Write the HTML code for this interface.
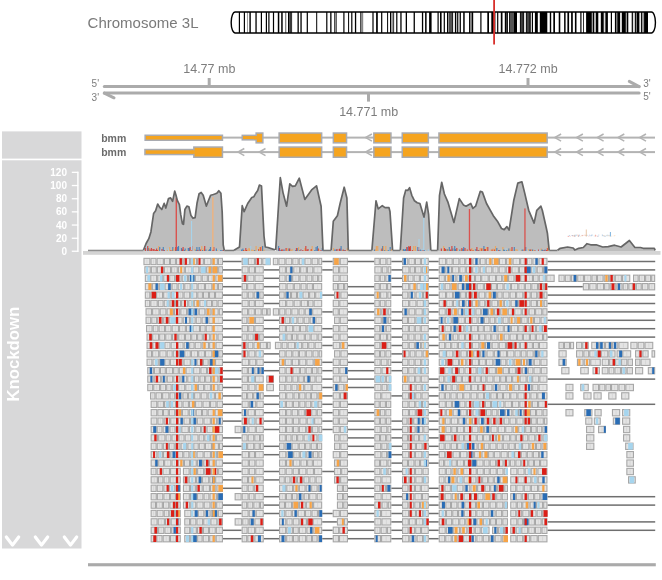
<!DOCTYPE html><html><head><meta charset="utf-8"><title>Chromosome 3L</title>
<style>html,body{margin:0;padding:0;background:#fff;}body{width:662px;height:580px;overflow:hidden;}svg{display:block;}text{font-family:"Liberation Sans",Arial,sans-serif;}</style></head><body>
<svg width="662" height="580" viewBox="0 0 662 580">
<text x="87.6" y="28.4" font-size="15" fill="#7a7a7a">Chromosome 3L</text>
<defs><clipPath id="ideo"><rect x="231" y="11.9" width="424.6" height="21.2" rx="4" ry="10"/></clipPath></defs>
<rect x="231" y="11.9" width="424.6" height="21.2" rx="4" ry="10" fill="#fff"/>
<g clip-path="url(#ideo)">
<rect x="238.8" y="11.9" width="1.2" height="21.2" fill="#000"/>
<rect x="243.8" y="11.9" width="1.2" height="21.2" fill="#000"/>
<rect x="247.1" y="11.9" width="0.8" height="21.2" fill="#888"/>
<rect x="249.4" y="11.9" width="1.4" height="21.2" fill="#000"/>
<rect x="255.4" y="11.9" width="1.3" height="21.2" fill="#000"/>
<rect x="260.8" y="11.9" width="1.2" height="21.2" fill="#000"/>
<rect x="265.8" y="11.9" width="1.2" height="21.2" fill="#000"/>
<rect x="268.3" y="11.9" width="1.2" height="21.2" fill="#000"/>
<rect x="272.9" y="11.9" width="1.2" height="21.2" fill="#000"/>
<rect x="277.8" y="11.9" width="1.5" height="21.2" fill="#000"/>
<rect x="281.2" y="11.9" width="1.5" height="21.2" fill="#000"/>
<rect x="285.1" y="11.9" width="1.2" height="21.2" fill="#777"/>
<rect x="288" y="11.9" width="1.6" height="21.2" fill="#000"/>
<rect x="289.6" y="11.9" width="2.5" height="21.2" fill="#3a3a3a"/>
<rect x="297.5" y="11.9" width="1.3" height="21.2" fill="#000"/>
<rect x="300.4" y="11.9" width="1.3" height="21.2" fill="#000"/>
<rect x="306.7" y="11.9" width="1.2" height="21.2" fill="#000"/>
<rect x="316.2" y="11.9" width="1" height="21.2" fill="#000"/>
<rect x="326.2" y="11.9" width="1.2" height="21.2" fill="#000"/>
<rect x="330.2" y="11.9" width="1.3" height="21.2" fill="#000"/>
<rect x="334.3" y="11.9" width="0.9" height="21.2" fill="#000"/>
<rect x="335.7" y="11.9" width="0.9" height="21.2" fill="#000"/>
<rect x="343.3" y="11.9" width="1.2" height="21.2" fill="#000"/>
<rect x="348.1" y="11.9" width="1" height="21.2" fill="#000"/>
<rect x="351.2" y="11.9" width="1.2" height="21.2" fill="#000"/>
<rect x="354.9" y="11.9" width="1.3" height="21.2" fill="#000"/>
<rect x="360.3" y="11.9" width="1.1" height="21.2" fill="#000"/>
<rect x="361.4" y="11.9" width="1.8" height="21.2" fill="#888"/>
<rect x="372.4" y="11.9" width="1.2" height="21.2" fill="#000"/>
<rect x="376.1" y="11.9" width="1.7" height="21.2" fill="#000"/>
<rect x="381.1" y="11.9" width="1.2" height="21.2" fill="#000"/>
<rect x="387.1" y="11.9" width="1" height="21.2" fill="#000"/>
<rect x="390" y="11.9" width="1.2" height="21.2" fill="#000"/>
<rect x="391.2" y="11.9" width="2.1" height="21.2" fill="#999"/>
<rect x="393.3" y="11.9" width="0.8" height="21.2" fill="#000"/>
<rect x="396.2" y="11.9" width="1.2" height="21.2" fill="#000"/>
<rect x="400.3" y="11.9" width="1.3" height="21.2" fill="#000"/>
<rect x="405.7" y="11.9" width="1.3" height="21.2" fill="#000"/>
<rect x="413.6" y="11.9" width="1.3" height="21.2" fill="#000"/>
<rect x="421.9" y="11.9" width="1.3" height="21.2" fill="#000"/>
<rect x="425.1" y="11.9" width="1.5" height="21.2" fill="#000"/>
<rect x="429.1" y="11.9" width="218.9" height="21.2" fill="#000"/>
<rect x="431.6" y="11.9" width="5.9" height="21.2" fill="#fff"/>
<rect x="438.7" y="11.9" width="1.3" height="21.2" fill="#fff"/>
<rect x="441.6" y="11.9" width="2.1" height="21.2" fill="#fff"/>
<rect x="444.9" y="11.9" width="2.1" height="21.2" fill="#fff"/>
<rect x="448.3" y="11.9" width="0.8" height="21.2" fill="#ccc"/>
<rect x="449.1" y="11.9" width="3.3" height="21.2" fill="#555"/>
<rect x="453.1" y="11.9" width="1.8" height="21.2" fill="#fff"/>
<rect x="456.2" y="11.9" width="0.8" height="21.2" fill="#ddd"/>
<rect x="457.8" y="11.9" width="2.1" height="21.2" fill="#aaa"/>
<rect x="460.9" y="11.9" width="2.3" height="21.2" fill="#fff"/>
<rect x="464.7" y="11.9" width="4.3" height="21.2" fill="#fff"/>
<rect x="469.9" y="11.9" width="2" height="21.2" fill="#888"/>
<rect x="473.2" y="11.9" width="7.1" height="21.2" fill="#fff"/>
<rect x="481.5" y="11.9" width="5.8" height="21.2" fill="#fff"/>
<rect x="489" y="11.9" width="2.3" height="21.2" fill="#fff"/>
<rect x="495.4" y="11.9" width="1.7" height="21.2" fill="#fff"/>
<rect x="498.3" y="11.9" width="2.5" height="21.2" fill="#fff"/>
<rect x="502.5" y="11.9" width="2.3" height="21.2" fill="#fff"/>
<rect x="506.2" y="11.9" width="0.4" height="21.2" fill="#999"/>
<rect x="507.9" y="11.9" width="1.2" height="21.2" fill="#fff"/>
<rect x="510" y="11.9" width="4" height="21.2" fill="#555"/>
<rect x="517" y="11.9" width="2.9" height="21.2" fill="#fff"/>
<rect x="520.7" y="11.9" width="2.1" height="21.2" fill="#444"/>
<rect x="523.9" y="11.9" width="2.2" height="21.2" fill="#ddd"/>
<rect x="527" y="11.9" width="2.5" height="21.2" fill="#444"/>
<rect x="530.7" y="11.9" width="1.3" height="21.2" fill="#ccc"/>
<rect x="533" y="11.9" width="1.9" height="21.2" fill="#fff"/>
<rect x="537.8" y="11.9" width="2" height="21.2" fill="#fff"/>
<rect x="547.3" y="11.9" width="2.5" height="21.2" fill="#fff"/>
<rect x="551.2" y="11.9" width="2.1" height="21.2" fill="#fff"/>
<rect x="555" y="11.9" width="3.7" height="21.2" fill="#fff"/>
<rect x="560.3" y="11.9" width="3.8" height="21.2" fill="#fff"/>
<rect x="565.6" y="11.9" width="1.8" height="21.2" fill="#fff"/>
<rect x="569.1" y="11.9" width="2" height="21.2" fill="#fff"/>
<rect x="572.8" y="11.9" width="2.1" height="21.2" fill="#fff"/>
<rect x="576.5" y="11.9" width="3.8" height="21.2" fill="#fff"/>
<rect x="581.5" y="11.9" width="1.7" height="21.2" fill="#fff"/>
<rect x="584" y="11.9" width="2.1" height="21.2" fill="#fff"/>
<rect x="591.7" y="11.9" width="1.2" height="21.2" fill="#aaa"/>
<rect x="594.2" y="11.9" width="1.6" height="21.2" fill="#ddd"/>
<rect x="598.3" y="11.9" width="2.5" height="21.2" fill="#fff"/>
<rect x="603.7" y="11.9" width="1.7" height="21.2" fill="#ddd"/>
<rect x="607.9" y="11.9" width="2.9" height="21.2" fill="#fff"/>
<rect x="612" y="11.9" width="2.9" height="21.2" fill="#fff"/>
<rect x="616.2" y="11.9" width="1.2" height="21.2" fill="#999"/>
<rect x="620" y="11.9" width="1.9" height="21.2" fill="#ddd"/>
<rect x="625.7" y="11.9" width="1.3" height="21.2" fill="#999"/>
<rect x="628.3" y="11.9" width="3.4" height="21.2" fill="#fff"/>
<rect x="632.9" y="11.9" width="2" height="21.2" fill="#ddd"/>
<rect x="635.9" y="11.9" width="0.9" height="21.2" fill="#999"/>
<rect x="639.4" y="11.9" width="1.5" height="21.2" fill="#fff"/>
<rect x="641.9" y="11.9" width="2.2" height="21.2" fill="#999"/>
</g>
<rect x="231.2" y="12" width="424.2" height="21" rx="4" ry="10" fill="none" stroke="#000" stroke-width="1.4"/>
<rect x="493.2" y="0" width="1.8" height="44.5" fill="#d8302c"/>
<g stroke="#ababab" stroke-width="3" stroke-linecap="round" fill="none">
<line x1="104.3" y1="86.6" x2="639.1" y2="86.6"/>
<line x1="104.3" y1="93.1" x2="639.1" y2="93.1"/>
<polyline points="629.3,81.4 639.1,86.6" />
<polyline points="114,97.8 104.3,93.1" />
</g>
<rect x="207.7" y="78" width="3" height="8" fill="#ababab"/>
<rect x="526.5" y="78" width="3" height="8" fill="#ababab"/>
<rect x="367" y="94" width="3" height="7.6" fill="#ababab"/>
<text x="209.3" y="72.7" font-size="12.5" fill="#7d7d7d" text-anchor="middle">14.77 mb</text>
<text x="528.1" y="72.7" font-size="12.5" fill="#7d7d7d" text-anchor="middle">14.772 mb</text>
<text x="368.7" y="115.8" font-size="12.5" fill="#7d7d7d" text-anchor="middle">14.771 mb</text>
<text x="91.6" y="86.8" font-size="10" fill="#7d7d7d">5'</text>
<text x="91.6" y="100.5" font-size="10" fill="#7d7d7d">3'</text>
<text x="643.2" y="86.5" font-size="10" fill="#7d7d7d">3'</text>
<text x="643.2" y="100.4" font-size="10" fill="#7d7d7d">5'</text>
<rect x="2" y="131.4" width="79.5" height="27.2" fill="#d8d8d9"/>
<rect x="2" y="160.3" width="79.5" height="388.2" fill="#d8d8d9"/>
<text x="67" y="175.9" font-size="10" font-weight="bold" fill="#fff" text-anchor="end">120</text>
<rect x="71.8" y="171.7" width="6.5" height="1.3" fill="#fff"/>
<text x="67" y="189.1" font-size="10" font-weight="bold" fill="#fff" text-anchor="end">100</text>
<rect x="71.8" y="184.9" width="6.5" height="1.3" fill="#fff"/>
<text x="67" y="202.3" font-size="10" font-weight="bold" fill="#fff" text-anchor="end">80</text>
<rect x="71.8" y="198.1" width="6.5" height="1.3" fill="#fff"/>
<text x="67" y="215.4" font-size="10" font-weight="bold" fill="#fff" text-anchor="end">60</text>
<rect x="71.8" y="211.2" width="6.5" height="1.3" fill="#fff"/>
<text x="67" y="228.6" font-size="10" font-weight="bold" fill="#fff" text-anchor="end">40</text>
<rect x="71.8" y="224.4" width="6.5" height="1.3" fill="#fff"/>
<text x="67" y="241.8" font-size="10" font-weight="bold" fill="#fff" text-anchor="end">20</text>
<rect x="71.8" y="237.6" width="6.5" height="1.3" fill="#fff"/>
<text x="67" y="254.8" font-size="10" font-weight="bold" fill="#fff" text-anchor="end">0</text>
<rect x="71.8" y="250.6" width="6.5" height="1.3" fill="#fff"/>
<rect x="77.2" y="171.7" width="1.4" height="80.2" fill="#fff"/>
<text transform="translate(19.1,401.6) rotate(-90)" font-size="16.75" font-weight="bold" fill="#fff">Knockdown</text>
<polyline points="6.3,537 12.5,545.1 18.7,537" fill="none" stroke="#fff" stroke-width="3.2" stroke-linecap="round" stroke-linejoin="round"/>
<polyline points="35.3,537 41.5,545.1 47.7,537" fill="none" stroke="#fff" stroke-width="3.2" stroke-linecap="round" stroke-linejoin="round"/>
<polyline points="64.3,537 70.5,545.1 76.7,537" fill="none" stroke="#fff" stroke-width="3.2" stroke-linecap="round" stroke-linejoin="round"/>
<rect x="88" y="563.2" width="567.8" height="3.1" fill="#aaaaaa"/>
<text x="101.2" y="141.6" font-size="10.5" font-weight="bold" fill="#6b6b6b">bmm</text>
<text x="101.2" y="155.7" font-size="10.5" font-weight="bold" fill="#6b6b6b">bmm</text>
<rect x="223" y="136.6" width="432" height="2" fill="#b3b3b3"/>
<rect x="279.15" y="133.05" width="42.5" height="9.8" fill="#f5a41f" stroke="#a9abb1" stroke-width="1.5"/>
<rect x="333.35" y="133.05" width="13.2" height="9.8" fill="#f5a41f" stroke="#a9abb1" stroke-width="1.5"/>
<rect x="373.85" y="133.05" width="17.1" height="9.8" fill="#f5a41f" stroke="#a9abb1" stroke-width="1.5"/>
<rect x="402.25" y="133.05" width="26.1" height="9.8" fill="#f5a41f" stroke="#a9abb1" stroke-width="1.5"/>
<rect x="438.95" y="133.05" width="108.2" height="9.8" fill="#f5a41f" stroke="#a9abb1" stroke-width="1.5"/>
<polyline points="371.9,134 365.6,137.6 371.9,141.2" fill="none" stroke="#b3b3b3" stroke-width="1.5"/>
<polyline points="561.1,134 554.8,137.6 561.1,141.2" fill="none" stroke="#b3b3b3" stroke-width="1.5"/>
<polyline points="582.9,134 576.6,137.6 582.9,141.2" fill="none" stroke="#b3b3b3" stroke-width="1.5"/>
<polyline points="603.6,134 597.3,137.6 603.6,141.2" fill="none" stroke="#b3b3b3" stroke-width="1.5"/>
<polyline points="624.3,134 618,137.6 624.3,141.2" fill="none" stroke="#b3b3b3" stroke-width="1.5"/>
<polyline points="646,134 639.7,137.6 646,141.2" fill="none" stroke="#b3b3b3" stroke-width="1.5"/>
<rect x="223" y="151.1" width="432" height="2" fill="#b3b3b3"/>
<rect x="279.15" y="147.05" width="42.5" height="10.2" fill="#f5a41f" stroke="#a9abb1" stroke-width="1.5"/>
<rect x="333.35" y="147.05" width="13.2" height="10.2" fill="#f5a41f" stroke="#a9abb1" stroke-width="1.5"/>
<rect x="373.85" y="147.05" width="17.1" height="10.2" fill="#f5a41f" stroke="#a9abb1" stroke-width="1.5"/>
<rect x="402.25" y="147.05" width="26.1" height="10.2" fill="#f5a41f" stroke="#a9abb1" stroke-width="1.5"/>
<rect x="438.95" y="147.05" width="108.2" height="10.2" fill="#f5a41f" stroke="#a9abb1" stroke-width="1.5"/>
<polyline points="371.9,148.5 365.6,152.1 371.9,155.7" fill="none" stroke="#b3b3b3" stroke-width="1.5"/>
<polyline points="561.1,148.5 554.8,152.1 561.1,155.7" fill="none" stroke="#b3b3b3" stroke-width="1.5"/>
<polyline points="582.9,148.5 576.6,152.1 582.9,155.7" fill="none" stroke="#b3b3b3" stroke-width="1.5"/>
<polyline points="603.6,148.5 597.3,152.1 603.6,155.7" fill="none" stroke="#b3b3b3" stroke-width="1.5"/>
<polyline points="624.3,148.5 618,152.1 624.3,155.7" fill="none" stroke="#b3b3b3" stroke-width="1.5"/>
<polyline points="646,148.5 639.7,152.1 646,155.7" fill="none" stroke="#b3b3b3" stroke-width="1.5"/>
<rect x="145.15" y="135.25" width="77.3" height="5" fill="#f5a41f" stroke="#a9abb1" stroke-width="1.5"/>
<rect x="242.25" y="135.35" width="13.5" height="4.5" fill="#f5a41f" stroke="#a9abb1" stroke-width="1.5"/>
<rect x="256.15" y="133.05" width="6.7" height="9.8" fill="#f5a41f" stroke="#a9abb1" stroke-width="1.5"/>
<rect x="254.2" y="136" width="3" height="3.5" fill="#f5a41f"/>
<rect x="144.95" y="149.55" width="48.5" height="5" fill="#f5a41f" stroke="#a9abb1" stroke-width="1.5"/>
<rect x="193.85" y="147.05" width="28.6" height="10.2" fill="#f5a41f" stroke="#a9abb1" stroke-width="1.5"/>
<rect x="191.8" y="150.3" width="3" height="3.5" fill="#f5a41f"/>
<polyline points="244.3,148.5 238,152.1 244.3,155.7" fill="none" stroke="#b3b3b3" stroke-width="1.5"/>
<polyline points="265.5,148.5 259.2,152.1 265.5,155.7" fill="none" stroke="#b3b3b3" stroke-width="1.5"/>
<rect x="83" y="251" width="577.5" height="3.8" fill="#d4d4d4"/>
<polygon points="88,250.9 143.4,250.9 146.1,243.5 148.8,238.7 150.9,231.9 153.6,213.5 155.6,210.8 157.7,204 159.7,207.4 161.8,209.5 164.2,203.4 165.8,208.1 168.5,198.6 170.6,197.9 172.6,201.3 174.7,191.1 176,195.2 177.4,200.6 179.4,204.7 180.8,214.9 182.4,223.7 183.5,224.4 184.9,209.5 186.9,206.1 188.9,206.8 191,215.6 193,218.3 195.1,217.6 197.1,202.7 199.1,193.8 201.2,192.5 203.2,195.2 206.3,206.1 208.7,200 210.7,195.2 213.4,194.5 215.4,193.8 216.8,193.2 218.8,190.7 220.9,193.2 222.2,212.2 223.2,244.8 224.3,250.9 234,250.9 239.5,247 242.2,205.7 244.1,211.7 247.7,203.5 251.8,197.5 253.9,196.7 255.8,193.2 257.7,190.5 259.4,185 261.5,186.1 264,236 265.3,247 268,247.5 274.9,250.9 275.7,250.9 280.3,177.7 283,192.6 286.6,206.2 289.8,183.9 292.5,186.4 295.3,185.8 299.3,178.2 304.8,199.4 311.6,189.9 316.5,185.8 321.1,206.2 323,250.9 331.1,250.9 333.3,221.2 337.4,215.7 340.1,203.5 344.2,187.2 346.9,198 348.3,250.9 371.9,250.9 376,200.8 378.2,208.9 382.3,205.7 385,207.6 389,207.6 390,211.7 392.6,250.9 400.3,250.9 403.6,198 405.8,190 407.7,190.5 409.6,187.7 411.8,195.3 414.5,200.8 417.2,202.7 419.9,203.5 424,217.1 426.7,202.1 428.6,214.4 430.8,250.9 437.6,250.9 439.5,195.3 441.7,182.3 444.4,194 447.9,202.1 453.9,222.5 459.3,198.6 463.4,204.9 466.1,206.2 470.8,203.5 472.9,208.4 475.6,206.2 480.3,191.3 482.4,192.1 486.5,203.5 493.3,215.7 497.4,221.2 501.5,228.5 504.2,229.6 506.9,226.6 509.1,230.1 513.7,200.8 517.8,183.1 521.9,181.8 524.6,192.6 528.7,210.3 534.1,223.1 536.8,210.3 540.9,206.2 542.3,210.3 546.3,228 547.4,233.2 549.2,250.9 557.5,250.9 560.3,248.3 567.6,247 573.2,248 575,250.9 578.7,248.3 583.3,247.5 587,243.7 590.7,244.8 596.2,244.8 602.7,247 608.2,246.6 614.6,245.2 621.1,247 629.4,240.5 634.9,247.5 640.4,247.5 643.2,248.3 648.7,248.3 654.3,248.3 655.2,250.9" fill="#bdbdbd" stroke="none"/>
<rect x="145" y="248" width="1.2" height="3" fill="#d9251d" opacity="0.75"/>
<rect x="146.3" y="246" width="1.2" height="5" fill="#9fd0ea" opacity="0.75"/>
<rect x="147.1" y="246" width="1.2" height="5" fill="#d9251d" opacity="0.75"/>
<rect x="147.9" y="248" width="1.2" height="3" fill="#2f74b8" opacity="0.75"/>
<rect x="148.7" y="248" width="1.2" height="3" fill="#f5a04a" opacity="0.75"/>
<rect x="149.5" y="249.5" width="1.2" height="1.5" fill="#d9251d" opacity="0.75"/>
<rect x="150.8" y="248" width="1.2" height="3" fill="#d9251d" opacity="0.75"/>
<rect x="152.4" y="249" width="1.2" height="2" fill="#d9251d" opacity="0.75"/>
<rect x="153.4" y="249" width="1.2" height="2" fill="#d9251d" opacity="0.75"/>
<rect x="154.7" y="250" width="1.2" height="1" fill="#d9251d" opacity="0.75"/>
<rect x="156" y="248.5" width="1.2" height="2.5" fill="#d9251d" opacity="0.75"/>
<rect x="156.8" y="250" width="1.2" height="1" fill="#d9251d" opacity="0.75"/>
<rect x="158.1" y="246" width="1.2" height="5" fill="#f5a04a" opacity="0.75"/>
<rect x="159.1" y="247" width="1.2" height="4" fill="#2f74b8" opacity="0.75"/>
<rect x="160.1" y="249.5" width="1.2" height="1.5" fill="#9fd0ea" opacity="0.75"/>
<rect x="161.4" y="249" width="1.2" height="2" fill="#d9251d" opacity="0.75"/>
<rect x="162.7" y="247" width="1.2" height="4" fill="#2f74b8" opacity="0.75"/>
<rect x="163.7" y="250" width="1.2" height="1" fill="#d9251d" opacity="0.75"/>
<rect x="165" y="248.5" width="1.2" height="2.5" fill="#9fd0ea" opacity="0.75"/>
<rect x="166.8" y="250" width="1.2" height="1" fill="#f5a04a" opacity="0.75"/>
<rect x="168.1" y="248.5" width="1.2" height="2.5" fill="#9fd0ea" opacity="0.75"/>
<rect x="169.1" y="247" width="1.2" height="4" fill="#f5a04a" opacity="0.75"/>
<rect x="170.4" y="250" width="1.2" height="1" fill="#d9251d" opacity="0.75"/>
<rect x="171.4" y="250" width="1.2" height="1" fill="#f5a04a" opacity="0.75"/>
<rect x="172.2" y="247" width="1.2" height="4" fill="#2f74b8" opacity="0.75"/>
<rect x="173.2" y="248.5" width="1.2" height="2.5" fill="#f5a04a" opacity="0.75"/>
<rect x="175" y="247" width="1.2" height="4" fill="#d9251d" opacity="0.75"/>
<rect x="175.8" y="249.5" width="1.2" height="1.5" fill="#2f74b8" opacity="0.75"/>
<rect x="177.1" y="247" width="1.2" height="4" fill="#2f74b8" opacity="0.75"/>
<rect x="177.9" y="246" width="1.2" height="5" fill="#2f74b8" opacity="0.75"/>
<rect x="180.9" y="248" width="1.2" height="3" fill="#2f74b8" opacity="0.75"/>
<rect x="181.7" y="249.5" width="1.2" height="1.5" fill="#d9251d" opacity="0.75"/>
<rect x="182.5" y="247" width="1.2" height="4" fill="#d9251d" opacity="0.75"/>
<rect x="183.8" y="250" width="1.2" height="1" fill="#2f74b8" opacity="0.75"/>
<rect x="184.6" y="248.5" width="1.2" height="2.5" fill="#2f74b8" opacity="0.75"/>
<rect x="185.4" y="250" width="1.2" height="1" fill="#f5a04a" opacity="0.75"/>
<rect x="187.7" y="248" width="1.2" height="3" fill="#2f74b8" opacity="0.75"/>
<rect x="188.7" y="248" width="1.2" height="3" fill="#2f74b8" opacity="0.75"/>
<rect x="189.5" y="247" width="1.2" height="4" fill="#d9251d" opacity="0.75"/>
<rect x="190.3" y="250" width="1.2" height="1" fill="#f5a04a" opacity="0.75"/>
<rect x="191.1" y="246" width="1.2" height="5" fill="#d9251d" opacity="0.75"/>
<rect x="193.2" y="249.5" width="1.2" height="1.5" fill="#9fd0ea" opacity="0.75"/>
<rect x="194.5" y="249" width="1.2" height="2" fill="#f5a04a" opacity="0.75"/>
<rect x="195.5" y="250" width="1.2" height="1" fill="#2f74b8" opacity="0.75"/>
<rect x="196.3" y="247" width="1.2" height="4" fill="#2f74b8" opacity="0.75"/>
<rect x="197.3" y="250" width="1.2" height="1" fill="#d9251d" opacity="0.75"/>
<rect x="198.6" y="247" width="1.2" height="4" fill="#2f74b8" opacity="0.75"/>
<rect x="199.9" y="249.5" width="1.2" height="1.5" fill="#d9251d" opacity="0.75"/>
<rect x="201.2" y="246" width="1.2" height="5" fill="#f5a04a" opacity="0.75"/>
<rect x="202" y="250" width="1.2" height="1" fill="#2f74b8" opacity="0.75"/>
<rect x="203.3" y="248.5" width="1.2" height="2.5" fill="#f5a04a" opacity="0.75"/>
<rect x="204.1" y="246" width="1.2" height="5" fill="#d9251d" opacity="0.75"/>
<rect x="205.4" y="249.5" width="1.2" height="1.5" fill="#2f74b8" opacity="0.75"/>
<rect x="206.7" y="249.5" width="1.2" height="1.5" fill="#9fd0ea" opacity="0.75"/>
<rect x="207.5" y="249.5" width="1.2" height="1.5" fill="#f5a04a" opacity="0.75"/>
<rect x="208.3" y="250" width="1.2" height="1" fill="#2f74b8" opacity="0.75"/>
<rect x="209.1" y="249" width="1.2" height="2" fill="#2f74b8" opacity="0.75"/>
<rect x="209.9" y="247" width="1.2" height="4" fill="#2f74b8" opacity="0.75"/>
<rect x="212.2" y="249.5" width="1.2" height="1.5" fill="#d9251d" opacity="0.75"/>
<rect x="213.2" y="247" width="1.2" height="4" fill="#d9251d" opacity="0.75"/>
<rect x="215.8" y="248.5" width="1.2" height="2.5" fill="#2f74b8" opacity="0.75"/>
<rect x="217.1" y="250" width="1.2" height="1" fill="#f5a04a" opacity="0.75"/>
<rect x="218.1" y="249.5" width="1.2" height="1.5" fill="#9fd0ea" opacity="0.75"/>
<rect x="220.1" y="250" width="1.2" height="1" fill="#2f74b8" opacity="0.75"/>
<rect x="221.4" y="250" width="1.2" height="1" fill="#2f74b8" opacity="0.75"/>
<rect x="222.7" y="250" width="1.2" height="1" fill="#d9251d" opacity="0.75"/>
<rect x="241" y="249.5" width="1.2" height="1.5" fill="#2f74b8" opacity="0.75"/>
<rect x="242.3" y="248.5" width="1.2" height="2.5" fill="#2f74b8" opacity="0.75"/>
<rect x="243.1" y="250" width="1.2" height="1" fill="#d9251d" opacity="0.75"/>
<rect x="243.9" y="250" width="1.2" height="1" fill="#f5a04a" opacity="0.75"/>
<rect x="245.2" y="248" width="1.2" height="3" fill="#d9251d" opacity="0.75"/>
<rect x="246" y="250" width="1.2" height="1" fill="#d9251d" opacity="0.75"/>
<rect x="247" y="249.5" width="1.2" height="1.5" fill="#f5a04a" opacity="0.75"/>
<rect x="248.3" y="248" width="1.2" height="3" fill="#f5a04a" opacity="0.75"/>
<rect x="249.1" y="248.5" width="1.2" height="2.5" fill="#f5a04a" opacity="0.75"/>
<rect x="250.1" y="246" width="1.2" height="5" fill="#9fd0ea" opacity="0.75"/>
<rect x="251.1" y="249.5" width="1.2" height="1.5" fill="#f5a04a" opacity="0.75"/>
<rect x="252.4" y="250" width="1.2" height="1" fill="#f5a04a" opacity="0.75"/>
<rect x="253.4" y="250" width="1.2" height="1" fill="#f5a04a" opacity="0.75"/>
<rect x="254.2" y="250" width="1.2" height="1" fill="#2f74b8" opacity="0.75"/>
<rect x="255.5" y="246" width="1.2" height="5" fill="#f5a04a" opacity="0.75"/>
<rect x="256.8" y="250" width="1.2" height="1" fill="#9fd0ea" opacity="0.75"/>
<rect x="258.1" y="249" width="1.2" height="2" fill="#d9251d" opacity="0.75"/>
<rect x="258.9" y="247" width="1.2" height="4" fill="#f5a04a" opacity="0.75"/>
<rect x="260.2" y="247" width="1.2" height="4" fill="#d9251d" opacity="0.75"/>
<rect x="261.2" y="246" width="1.2" height="5" fill="#f5a04a" opacity="0.75"/>
<rect x="262" y="246" width="1.2" height="5" fill="#2f74b8" opacity="0.75"/>
<rect x="263.3" y="249.5" width="1.2" height="1.5" fill="#f5a04a" opacity="0.75"/>
<rect x="278" y="246" width="1.2" height="5" fill="#2f74b8" opacity="0.75"/>
<rect x="278.8" y="248" width="1.2" height="3" fill="#d9251d" opacity="0.75"/>
<rect x="279.6" y="250" width="1.2" height="1" fill="#2f74b8" opacity="0.75"/>
<rect x="280.9" y="249.5" width="1.2" height="1.5" fill="#d9251d" opacity="0.75"/>
<rect x="282.2" y="249.5" width="1.2" height="1.5" fill="#d9251d" opacity="0.75"/>
<rect x="283.5" y="249.5" width="1.2" height="1.5" fill="#2f74b8" opacity="0.75"/>
<rect x="285.5" y="248" width="1.2" height="3" fill="#d9251d" opacity="0.75"/>
<rect x="286.5" y="249.5" width="1.2" height="1.5" fill="#f5a04a" opacity="0.75"/>
<rect x="287.3" y="248" width="1.2" height="3" fill="#f5a04a" opacity="0.75"/>
<rect x="288.3" y="248.5" width="1.2" height="2.5" fill="#2f74b8" opacity="0.75"/>
<rect x="289.1" y="248.5" width="1.2" height="2.5" fill="#d9251d" opacity="0.75"/>
<rect x="290.4" y="250" width="1.2" height="1" fill="#f5a04a" opacity="0.75"/>
<rect x="291.4" y="249" width="1.2" height="2" fill="#f5a04a" opacity="0.75"/>
<rect x="295.1" y="250" width="1.2" height="1" fill="#2f74b8" opacity="0.75"/>
<rect x="295.9" y="248" width="1.2" height="3" fill="#d9251d" opacity="0.75"/>
<rect x="297.2" y="248" width="1.2" height="3" fill="#2f74b8" opacity="0.75"/>
<rect x="298" y="247" width="1.2" height="4" fill="#f5a04a" opacity="0.75"/>
<rect x="299.3" y="250" width="1.2" height="1" fill="#2f74b8" opacity="0.75"/>
<rect x="300.6" y="249" width="1.2" height="2" fill="#d9251d" opacity="0.75"/>
<rect x="301.4" y="249" width="1.2" height="2" fill="#9fd0ea" opacity="0.75"/>
<rect x="302.2" y="250" width="1.2" height="1" fill="#d9251d" opacity="0.75"/>
<rect x="304.2" y="248" width="1.2" height="3" fill="#f5a04a" opacity="0.75"/>
<rect x="305.2" y="246" width="1.2" height="5" fill="#d9251d" opacity="0.75"/>
<rect x="306.5" y="249.5" width="1.2" height="1.5" fill="#d9251d" opacity="0.75"/>
<rect x="307.5" y="249" width="1.2" height="2" fill="#d9251d" opacity="0.75"/>
<rect x="308.8" y="249.5" width="1.2" height="1.5" fill="#9fd0ea" opacity="0.75"/>
<rect x="309.8" y="249.5" width="1.2" height="1.5" fill="#f5a04a" opacity="0.75"/>
<rect x="310.8" y="249" width="1.2" height="2" fill="#d9251d" opacity="0.75"/>
<rect x="311.6" y="246" width="1.2" height="5" fill="#f5a04a" opacity="0.75"/>
<rect x="314.2" y="250" width="1.2" height="1" fill="#2f74b8" opacity="0.75"/>
<rect x="315.5" y="247" width="1.2" height="4" fill="#2f74b8" opacity="0.75"/>
<rect x="316.8" y="246" width="1.2" height="5" fill="#2f74b8" opacity="0.75"/>
<rect x="317.8" y="248.5" width="1.2" height="2.5" fill="#d9251d" opacity="0.75"/>
<rect x="318.6" y="249.5" width="1.2" height="1.5" fill="#f5a04a" opacity="0.75"/>
<rect x="320.4" y="250" width="1.2" height="1" fill="#d9251d" opacity="0.75"/>
<rect x="321.7" y="248" width="1.2" height="3" fill="#2f74b8" opacity="0.75"/>
<rect x="333" y="248" width="1.2" height="3" fill="#f5a04a" opacity="0.75"/>
<rect x="334.3" y="249.5" width="1.2" height="1.5" fill="#2f74b8" opacity="0.75"/>
<rect x="335.6" y="249.5" width="1.2" height="1.5" fill="#2f74b8" opacity="0.75"/>
<rect x="336.4" y="249" width="1.2" height="2" fill="#d9251d" opacity="0.75"/>
<rect x="338.7" y="249" width="1.2" height="2" fill="#d9251d" opacity="0.75"/>
<rect x="339.5" y="248.5" width="1.2" height="2.5" fill="#d9251d" opacity="0.75"/>
<rect x="340.5" y="246" width="1.2" height="5" fill="#2f74b8" opacity="0.75"/>
<rect x="341.8" y="250" width="1.2" height="1" fill="#f5a04a" opacity="0.75"/>
<rect x="342.6" y="249.5" width="1.2" height="1.5" fill="#d9251d" opacity="0.75"/>
<rect x="343.6" y="250" width="1.2" height="1" fill="#2f74b8" opacity="0.75"/>
<rect x="344.6" y="250" width="1.2" height="1" fill="#d9251d" opacity="0.75"/>
<rect x="346.7" y="248" width="1.2" height="3" fill="#f5a04a" opacity="0.75"/>
<rect x="374" y="249.5" width="1.2" height="1.5" fill="#2f74b8" opacity="0.75"/>
<rect x="375" y="249.5" width="1.2" height="1.5" fill="#f5a04a" opacity="0.75"/>
<rect x="375.8" y="246" width="1.2" height="5" fill="#f5a04a" opacity="0.75"/>
<rect x="377.1" y="246" width="1.2" height="5" fill="#f5a04a" opacity="0.75"/>
<rect x="379.2" y="250" width="1.2" height="1" fill="#9fd0ea" opacity="0.75"/>
<rect x="380.5" y="249.5" width="1.2" height="1.5" fill="#f5a04a" opacity="0.75"/>
<rect x="381.3" y="248.5" width="1.2" height="2.5" fill="#d9251d" opacity="0.75"/>
<rect x="382.1" y="246" width="1.2" height="5" fill="#2f74b8" opacity="0.75"/>
<rect x="382.9" y="246" width="1.2" height="5" fill="#f5a04a" opacity="0.75"/>
<rect x="384.2" y="250" width="1.2" height="1" fill="#2f74b8" opacity="0.75"/>
<rect x="385.2" y="246" width="1.2" height="5" fill="#f5a04a" opacity="0.75"/>
<rect x="386.5" y="250" width="1.2" height="1" fill="#f5a04a" opacity="0.75"/>
<rect x="387.8" y="250" width="1.2" height="1" fill="#2f74b8" opacity="0.75"/>
<rect x="388.8" y="249.5" width="1.2" height="1.5" fill="#9fd0ea" opacity="0.75"/>
<rect x="389.6" y="247" width="1.2" height="4" fill="#2f74b8" opacity="0.75"/>
<rect x="390.6" y="249" width="1.2" height="2" fill="#f5a04a" opacity="0.75"/>
<rect x="402" y="249.5" width="1.2" height="1.5" fill="#f5a04a" opacity="0.75"/>
<rect x="402.8" y="249" width="1.2" height="2" fill="#2f74b8" opacity="0.75"/>
<rect x="404.1" y="249.5" width="1.2" height="1.5" fill="#2f74b8" opacity="0.75"/>
<rect x="404.9" y="249" width="1.2" height="2" fill="#2f74b8" opacity="0.75"/>
<rect x="406.2" y="247" width="1.2" height="4" fill="#d9251d" opacity="0.75"/>
<rect x="407.2" y="247" width="1.2" height="4" fill="#2f74b8" opacity="0.75"/>
<rect x="408.2" y="246" width="1.2" height="5" fill="#d9251d" opacity="0.75"/>
<rect x="409" y="247" width="1.2" height="4" fill="#d9251d" opacity="0.75"/>
<rect x="409.8" y="246" width="1.2" height="5" fill="#d9251d" opacity="0.75"/>
<rect x="411.8" y="250" width="1.2" height="1" fill="#d9251d" opacity="0.75"/>
<rect x="413.1" y="246" width="1.2" height="5" fill="#f5a04a" opacity="0.75"/>
<rect x="414.9" y="246" width="1.2" height="5" fill="#f5a04a" opacity="0.75"/>
<rect x="417.2" y="247" width="1.2" height="4" fill="#2f74b8" opacity="0.75"/>
<rect x="418.2" y="247" width="1.2" height="4" fill="#d9251d" opacity="0.75"/>
<rect x="419.5" y="249.5" width="1.2" height="1.5" fill="#2f74b8" opacity="0.75"/>
<rect x="420.5" y="250" width="1.2" height="1" fill="#2f74b8" opacity="0.75"/>
<rect x="421.5" y="248.5" width="1.2" height="2.5" fill="#9fd0ea" opacity="0.75"/>
<rect x="422.5" y="250" width="1.2" height="1" fill="#d9251d" opacity="0.75"/>
<rect x="423.8" y="250" width="1.2" height="1" fill="#2f74b8" opacity="0.75"/>
<rect x="424.8" y="250" width="1.2" height="1" fill="#9fd0ea" opacity="0.75"/>
<rect x="427.8" y="249" width="1.2" height="2" fill="#9fd0ea" opacity="0.75"/>
<rect x="440.8" y="248.5" width="1.2" height="2.5" fill="#d9251d" opacity="0.75"/>
<rect x="443.1" y="246" width="1.2" height="5" fill="#f5a04a" opacity="0.75"/>
<rect x="443.9" y="248" width="1.2" height="3" fill="#d9251d" opacity="0.75"/>
<rect x="444.9" y="249" width="1.2" height="2" fill="#d9251d" opacity="0.75"/>
<rect x="445.9" y="249.5" width="1.2" height="1.5" fill="#f5a04a" opacity="0.75"/>
<rect x="446.7" y="249" width="1.2" height="2" fill="#2f74b8" opacity="0.75"/>
<rect x="447.7" y="249" width="1.2" height="2" fill="#f5a04a" opacity="0.75"/>
<rect x="448.7" y="247" width="1.2" height="4" fill="#2f74b8" opacity="0.75"/>
<rect x="450" y="249.5" width="1.2" height="1.5" fill="#d9251d" opacity="0.75"/>
<rect x="451.3" y="246" width="1.2" height="5" fill="#d9251d" opacity="0.75"/>
<rect x="452.3" y="248.5" width="1.2" height="2.5" fill="#2f74b8" opacity="0.75"/>
<rect x="453.3" y="249.5" width="1.2" height="1.5" fill="#f5a04a" opacity="0.75"/>
<rect x="454.1" y="246" width="1.2" height="5" fill="#2f74b8" opacity="0.75"/>
<rect x="454.9" y="249" width="1.2" height="2" fill="#2f74b8" opacity="0.75"/>
<rect x="456.2" y="248" width="1.2" height="3" fill="#d9251d" opacity="0.75"/>
<rect x="457.2" y="249.5" width="1.2" height="1.5" fill="#f5a04a" opacity="0.75"/>
<rect x="458.2" y="250" width="1.2" height="1" fill="#9fd0ea" opacity="0.75"/>
<rect x="459.2" y="249.5" width="1.2" height="1.5" fill="#2f74b8" opacity="0.75"/>
<rect x="460.5" y="249.5" width="1.2" height="1.5" fill="#f5a04a" opacity="0.75"/>
<rect x="461.3" y="248" width="1.2" height="3" fill="#d9251d" opacity="0.75"/>
<rect x="462.3" y="249" width="1.2" height="2" fill="#2f74b8" opacity="0.75"/>
<rect x="463.1" y="247" width="1.2" height="4" fill="#2f74b8" opacity="0.75"/>
<rect x="464.4" y="248" width="1.2" height="3" fill="#d9251d" opacity="0.75"/>
<rect x="466.7" y="249.5" width="1.2" height="1.5" fill="#d9251d" opacity="0.75"/>
<rect x="467.5" y="250" width="1.2" height="1" fill="#f5a04a" opacity="0.75"/>
<rect x="468.8" y="247" width="1.2" height="4" fill="#9fd0ea" opacity="0.75"/>
<rect x="469.6" y="250" width="1.2" height="1" fill="#d9251d" opacity="0.75"/>
<rect x="470.4" y="249" width="1.2" height="2" fill="#d9251d" opacity="0.75"/>
<rect x="471.2" y="248" width="1.2" height="3" fill="#f5a04a" opacity="0.75"/>
<rect x="472.5" y="250" width="1.2" height="1" fill="#d9251d" opacity="0.75"/>
<rect x="473.5" y="249.5" width="1.2" height="1.5" fill="#f5a04a" opacity="0.75"/>
<rect x="474.5" y="250" width="1.2" height="1" fill="#9fd0ea" opacity="0.75"/>
<rect x="475.3" y="249" width="1.2" height="2" fill="#2f74b8" opacity="0.75"/>
<rect x="476.3" y="247" width="1.2" height="4" fill="#d9251d" opacity="0.75"/>
<rect x="477.6" y="250" width="1.2" height="1" fill="#d9251d" opacity="0.75"/>
<rect x="478.6" y="250" width="1.2" height="1" fill="#2f74b8" opacity="0.75"/>
<rect x="479.4" y="248" width="1.2" height="3" fill="#f5a04a" opacity="0.75"/>
<rect x="480.2" y="248" width="1.2" height="3" fill="#f5a04a" opacity="0.75"/>
<rect x="481.2" y="248.5" width="1.2" height="2.5" fill="#d9251d" opacity="0.75"/>
<rect x="482.5" y="248" width="1.2" height="3" fill="#f5a04a" opacity="0.75"/>
<rect x="483.3" y="246" width="1.2" height="5" fill="#2f74b8" opacity="0.75"/>
<rect x="484.1" y="249" width="1.2" height="2" fill="#d9251d" opacity="0.75"/>
<rect x="484.9" y="249" width="1.2" height="2" fill="#d9251d" opacity="0.75"/>
<rect x="485.9" y="247" width="1.2" height="4" fill="#f5a04a" opacity="0.75"/>
<rect x="487.2" y="247" width="1.2" height="4" fill="#d9251d" opacity="0.75"/>
<rect x="490.6" y="249.5" width="1.2" height="1.5" fill="#f5a04a" opacity="0.75"/>
<rect x="491.6" y="249.5" width="1.2" height="1.5" fill="#d9251d" opacity="0.75"/>
<rect x="492.6" y="248.5" width="1.2" height="2.5" fill="#f5a04a" opacity="0.75"/>
<rect x="493.9" y="249.5" width="1.2" height="1.5" fill="#d9251d" opacity="0.75"/>
<rect x="494.9" y="246" width="1.2" height="5" fill="#f5a04a" opacity="0.75"/>
<rect x="496.2" y="248" width="1.2" height="3" fill="#2f74b8" opacity="0.75"/>
<rect x="498.2" y="250" width="1.2" height="1" fill="#d9251d" opacity="0.75"/>
<rect x="499.2" y="250" width="1.2" height="1" fill="#2f74b8" opacity="0.75"/>
<rect x="501.3" y="249" width="1.2" height="2" fill="#9fd0ea" opacity="0.75"/>
<rect x="502.3" y="247" width="1.2" height="4" fill="#f5a04a" opacity="0.75"/>
<rect x="503.1" y="249.5" width="1.2" height="1.5" fill="#2f74b8" opacity="0.75"/>
<rect x="504.1" y="250" width="1.2" height="1" fill="#2f74b8" opacity="0.75"/>
<rect x="505.4" y="248" width="1.2" height="3" fill="#9fd0ea" opacity="0.75"/>
<rect x="506.2" y="250" width="1.2" height="1" fill="#2f74b8" opacity="0.75"/>
<rect x="507" y="250" width="1.2" height="1" fill="#f5a04a" opacity="0.75"/>
<rect x="508.3" y="248.5" width="1.2" height="2.5" fill="#2f74b8" opacity="0.75"/>
<rect x="509.6" y="248.5" width="1.2" height="2.5" fill="#f5a04a" opacity="0.75"/>
<rect x="510.6" y="250" width="1.2" height="1" fill="#f5a04a" opacity="0.75"/>
<rect x="511.4" y="247" width="1.2" height="4" fill="#d9251d" opacity="0.75"/>
<rect x="513.7" y="247" width="1.2" height="4" fill="#2f74b8" opacity="0.75"/>
<rect x="515.3" y="249" width="1.2" height="2" fill="#f5a04a" opacity="0.75"/>
<rect x="516.6" y="249.5" width="1.2" height="1.5" fill="#f5a04a" opacity="0.75"/>
<rect x="518.6" y="250" width="1.2" height="1" fill="#9fd0ea" opacity="0.75"/>
<rect x="519.9" y="249.5" width="1.2" height="1.5" fill="#9fd0ea" opacity="0.75"/>
<rect x="520.7" y="250" width="1.2" height="1" fill="#f5a04a" opacity="0.75"/>
<rect x="521.7" y="249.5" width="1.2" height="1.5" fill="#2f74b8" opacity="0.75"/>
<rect x="523.5" y="249.5" width="1.2" height="1.5" fill="#d9251d" opacity="0.75"/>
<rect x="524.3" y="247" width="1.2" height="4" fill="#f5a04a" opacity="0.75"/>
<rect x="525.1" y="247" width="1.2" height="4" fill="#2f74b8" opacity="0.75"/>
<rect x="527.2" y="250" width="1.2" height="1" fill="#9fd0ea" opacity="0.75"/>
<rect x="528.2" y="249" width="1.2" height="2" fill="#f5a04a" opacity="0.75"/>
<rect x="529.2" y="249.5" width="1.2" height="1.5" fill="#2f74b8" opacity="0.75"/>
<rect x="530.2" y="249.5" width="1.2" height="1.5" fill="#d9251d" opacity="0.75"/>
<rect x="531" y="249.5" width="1.2" height="1.5" fill="#f5a04a" opacity="0.75"/>
<rect x="532" y="249.5" width="1.2" height="1.5" fill="#2f74b8" opacity="0.75"/>
<rect x="533.3" y="250" width="1.2" height="1" fill="#f5a04a" opacity="0.75"/>
<rect x="534.6" y="250" width="1.2" height="1" fill="#d9251d" opacity="0.75"/>
<rect x="535.4" y="249.5" width="1.2" height="1.5" fill="#9fd0ea" opacity="0.75"/>
<rect x="538" y="249.5" width="1.2" height="1.5" fill="#d9251d" opacity="0.75"/>
<rect x="538.8" y="249.5" width="1.2" height="1.5" fill="#9fd0ea" opacity="0.75"/>
<rect x="539.8" y="250" width="1.2" height="1" fill="#9fd0ea" opacity="0.75"/>
<rect x="540.6" y="248.5" width="1.2" height="2.5" fill="#f5a04a" opacity="0.75"/>
<rect x="541.4" y="249.5" width="1.2" height="1.5" fill="#2f74b8" opacity="0.75"/>
<rect x="542.2" y="250" width="1.2" height="1" fill="#2f74b8" opacity="0.75"/>
<rect x="543.5" y="250" width="1.2" height="1" fill="#d9251d" opacity="0.75"/>
<rect x="544.5" y="249.5" width="1.2" height="1.5" fill="#2f74b8" opacity="0.75"/>
<rect x="545.8" y="250" width="1.2" height="1" fill="#d9251d" opacity="0.75"/>
<rect x="546.8" y="248" width="1.2" height="3" fill="#d9251d" opacity="0.75"/>
<rect x="547.6" y="246" width="1.2" height="5" fill="#f5a04a" opacity="0.75"/>
<rect x="175.6" y="197.9" width="1.4" height="52.4" fill="#d9534f"/>
<rect x="191" y="221" width="1.1" height="29.3" fill="#a8d3ea"/>
<rect x="212.2" y="197.2" width="1.3" height="53.1" fill="#f2b27a"/>
<rect x="418.5" y="239" width="1" height="11.3" fill="#a8d3ea"/>
<rect x="423.2" y="217" width="1.1" height="33.3" fill="#a8d3ea"/>
<rect x="468.8" y="209" width="1.3" height="41.3" fill="#d9534f"/>
<rect x="524.3" y="208.4" width="1.3" height="41.9" fill="#d9534f"/>
<path d="M143.4 250.3L146.1 243.5L148.8 238.7L150.9 231.9L153.6 213.5L155.6 210.8L157.7 204L159.7 207.4L161.8 209.5L164.2 203.4L165.8 208.1L168.5 198.6L170.6 197.9L172.6 201.3L174.7 191.1L176 195.2L177.4 200.6L179.4 204.7L180.8 214.9L182.4 223.7L183.5 224.4L184.9 209.5L186.9 206.1L188.9 206.8L191 215.6L193 218.3L195.1 217.6L197.1 202.7L199.1 193.8L201.2 192.5L203.2 195.2L206.3 206.1L208.7 200L210.7 195.2L213.4 194.5L215.4 193.8L216.8 193.2L218.8 190.7L220.9 193.2L222.2 212.2L223.2 244.8L224.3 250.3M234 250.3L239.5 247L242.2 205.7L244.1 211.7L247.7 203.5L251.8 197.5L253.9 196.7L255.8 193.2L257.7 190.5L259.4 185L261.5 186.1L264 236L265.3 247L268 247.5L274.9 249.9M275.7 249.9L280.3 177.7L283 192.6L286.6 206.2L289.8 183.9L292.5 186.4L295.3 185.8L299.3 178.2L304.8 199.4L311.6 189.9L316.5 185.8L321.1 206.2L323 250.3M331.1 250.3L333.3 221.2L337.4 215.7L340.1 203.5L344.2 187.2L346.9 198L348.3 250.3M371.9 250.3L376 200.8L378.2 208.9L382.3 205.7L385 207.6L389 207.6L390 211.7L392.6 250.3M400.3 250.3L403.6 198L405.8 190L407.7 190.5L409.6 187.7L411.8 195.3L414.5 200.8L417.2 202.7L419.9 203.5L424 217.1L426.7 202.1L428.6 214.4L430.8 250.3M437.6 250.3L439.5 195.3L441.7 182.3L444.4 194L447.9 202.1L453.9 222.5L459.3 198.6L463.4 204.9L466.1 206.2L470.8 203.5L472.9 208.4L475.6 206.2L480.3 191.3L482.4 192.1L486.5 203.5L493.3 215.7L497.4 221.2L501.5 228.5L504.2 229.6L506.9 226.6L509.1 230.1L513.7 200.8L517.8 183.1L521.9 181.8L524.6 192.6L528.7 210.3L534.1 223.1L536.8 210.3L540.9 206.2L542.3 210.3L546.3 228L547.4 233.2L549.2 250.3M557.5 250.3L560.3 248.3L567.6 247L573.2 248L575 250.1L578.7 248.3L583.3 247.5L587 243.7L590.7 244.8L596.2 244.8L602.7 247L608.2 246.6L614.6 245.2L621.1 247L629.4 240.5L634.9 247.5L640.4 247.5L643.2 248.3L648.7 248.3L654.3 248.3L655.2 250.3" fill="none" stroke="#666" stroke-width="1.7" stroke-linejoin="round"/>
<rect x="88" y="249.7" width="55.4" height="1.5" fill="#8e8e8e"/>
<rect x="224.3" y="249.7" width="9.7" height="1.5" fill="#777"/>
<rect x="348.3" y="249.7" width="23.6" height="1.5" fill="#777"/>
<rect x="392.6" y="249.7" width="7.7" height="1.5" fill="#777"/>
<rect x="430.8" y="249.7" width="6.8" height="1.5" fill="#777"/>
<rect x="549.2" y="249.7" width="8.3" height="1.5" fill="#777"/>
<rect x="323" y="249.7" width="8.1" height="1.5" fill="#777"/>
<rect x="571.38" y="235.1" width="0.9" height="0.9" fill="#2f74b8" opacity="0.3"/>
<rect x="614.44" y="235.13" width="0.9" height="0.9" fill="#f5a04a" opacity="0.3"/>
<rect x="602.78" y="235.12" width="0.9" height="0.9" fill="#f5a04a" opacity="0.3"/>
<rect x="603.8" y="235.47" width="0.9" height="0.9" fill="#f5a04a" opacity="0.3"/>
<rect x="586.44" y="235.15" width="0.9" height="0.9" fill="#2f74b8" opacity="0.3"/>
<rect x="572.45" y="235.11" width="0.9" height="0.9" fill="#2f74b8" opacity="0.3"/>
<rect x="589.12" y="234.69" width="0.9" height="0.9" fill="#2f74b8" opacity="0.3"/>
<rect x="573.84" y="234.63" width="0.9" height="0.9" fill="#9fd0ea" opacity="0.3"/>
<rect x="584.8" y="234.76" width="0.9" height="0.9" fill="#d9251d" opacity="0.3"/>
<rect x="574.77" y="235.89" width="0.9" height="0.9" fill="#2f74b8" opacity="0.3"/>
<rect x="590.54" y="234.95" width="0.9" height="0.9" fill="#2f74b8" opacity="0.3"/>
<rect x="569.09" y="234.97" width="0.9" height="0.9" fill="#9fd0ea" opacity="0.3"/>
<rect x="597.55" y="235.86" width="0.9" height="0.9" fill="#2f74b8" opacity="0.3"/>
<rect x="606.58" y="235.46" width="0.9" height="0.9" fill="#2f74b8" opacity="0.3"/>
<rect x="596.81" y="235.77" width="0.9" height="0.9" fill="#d9251d" opacity="0.3"/>
<rect x="575.78" y="234.56" width="0.9" height="0.9" fill="#2f74b8" opacity="0.3"/>
<rect x="574.51" y="234.68" width="0.9" height="0.9" fill="#f5a04a" opacity="0.3"/>
<rect x="601.79" y="234.56" width="0.9" height="0.9" fill="#2f74b8" opacity="0.3"/>
<rect x="603.36" y="235.5" width="0.9" height="0.9" fill="#2f74b8" opacity="0.3"/>
<rect x="585.71" y="235.33" width="0.9" height="0.9" fill="#9fd0ea" opacity="0.3"/>
<rect x="581.7" y="234.96" width="0.9" height="0.9" fill="#9fd0ea" opacity="0.3"/>
<rect x="585.68" y="235.17" width="0.9" height="0.9" fill="#f5a04a" opacity="0.3"/>
<rect x="568.12" y="235.98" width="0.9" height="0.9" fill="#d9251d" opacity="0.3"/>
<rect x="588.45" y="235.67" width="0.9" height="0.9" fill="#d9251d" opacity="0.3"/>
<rect x="575.62" y="235.1" width="0.9" height="0.9" fill="#9fd0ea" opacity="0.3"/>
<rect x="584.21" y="234.64" width="0.9" height="0.9" fill="#f5a04a" opacity="0.3"/>
<rect x="591.49" y="234.56" width="0.9" height="0.9" fill="#2f74b8" opacity="0.3"/>
<rect x="611.26" y="235.67" width="0.9" height="0.9" fill="#f5a04a" opacity="0.3"/>
<rect x="569.6" y="235.84" width="0.9" height="0.9" fill="#d9251d" opacity="0.3"/>
<rect x="604.64" y="235.79" width="0.9" height="0.9" fill="#2f74b8" opacity="0.3"/>
<rect x="602.14" y="234.79" width="0.9" height="0.9" fill="#2f74b8" opacity="0.3"/>
<rect x="590.61" y="235.53" width="0.9" height="0.9" fill="#2f74b8" opacity="0.3"/>
<rect x="577.61" y="235.42" width="0.9" height="0.9" fill="#f5a04a" opacity="0.3"/>
<rect x="582.54" y="234.91" width="0.9" height="0.9" fill="#d9251d" opacity="0.3"/>
<rect x="573.89" y="235.95" width="0.9" height="0.9" fill="#d9251d" opacity="0.3"/>
<rect x="595.41" y="235.26" width="0.9" height="0.9" fill="#d9251d" opacity="0.3"/>
<rect x="568.77" y="235.11" width="0.9" height="0.9" fill="#2f74b8" opacity="0.3"/>
<rect x="580.35" y="235.84" width="0.9" height="0.9" fill="#f5a04a" opacity="0.3"/>
<rect x="604.67" y="235.65" width="0.9" height="0.9" fill="#2f74b8" opacity="0.3"/>
<rect x="608.2" y="235.33" width="0.9" height="0.9" fill="#9fd0ea" opacity="0.3"/>
<rect x="609.36" y="234.88" width="0.9" height="0.9" fill="#2f74b8" opacity="0.3"/>
<rect x="608.12" y="234.9" width="0.9" height="0.9" fill="#f5a04a" opacity="0.3"/>
<rect x="594.71" y="235" width="0.9" height="0.9" fill="#f5a04a" opacity="0.3"/>
<rect x="578.04" y="235.62" width="0.9" height="0.9" fill="#d9251d" opacity="0.3"/>
<rect x="606.35" y="234.97" width="0.9" height="0.9" fill="#f5a04a" opacity="0.3"/>
<rect x="608.77" y="235.6" width="0.9" height="0.9" fill="#f5a04a" opacity="0.3"/>
<rect x="577.64" y="235.42" width="0.9" height="0.9" fill="#f5a04a" opacity="0.3"/>
<rect x="591.61" y="234.7" width="0.9" height="0.9" fill="#2f74b8" opacity="0.3"/>
<rect x="598.35" y="234.58" width="0.9" height="0.9" fill="#2f74b8" opacity="0.3"/>
<rect x="581.58" y="235.04" width="0.9" height="0.9" fill="#d9251d" opacity="0.3"/>
<rect x="595.01" y="234.7" width="0.9" height="0.9" fill="#d9251d" opacity="0.3"/>
<rect x="606.77" y="234.7" width="0.9" height="0.9" fill="#2f74b8" opacity="0.3"/>
<rect x="578.69" y="235.18" width="0.9" height="0.9" fill="#2f74b8" opacity="0.3"/>
<rect x="573.95" y="235.1" width="0.9" height="0.9" fill="#f5a04a" opacity="0.3"/>
<rect x="567.55" y="235.84" width="0.9" height="0.9" fill="#d9251d" opacity="0.3"/>
<rect x="594.77" y="235.91" width="0.9" height="0.9" fill="#d9251d" opacity="0.3"/>
<rect x="578.93" y="234.57" width="0.9" height="0.9" fill="#2f74b8" opacity="0.3"/>
<rect x="586.49" y="234.74" width="0.9" height="0.9" fill="#2f74b8" opacity="0.3"/>
<rect x="572.04" y="235.33" width="0.9" height="0.9" fill="#d9251d" opacity="0.3"/>
<rect x="573.83" y="235.28" width="0.9" height="0.9" fill="#2f74b8" opacity="0.3"/>
<rect x="598.08" y="235.72" width="0.9" height="0.9" fill="#9fd0ea" opacity="0.3"/>
<rect x="581.85" y="235.44" width="0.9" height="0.9" fill="#f5a04a" opacity="0.3"/>
<rect x="601.77" y="235.57" width="0.9" height="0.9" fill="#9fd0ea" opacity="0.3"/>
<rect x="607.53" y="234.62" width="0.9" height="0.9" fill="#9fd0ea" opacity="0.3"/>
<rect x="575.42" y="234.89" width="0.9" height="0.9" fill="#2f74b8" opacity="0.3"/>
<rect x="572.92" y="235.57" width="0.9" height="0.9" fill="#f5a04a" opacity="0.3"/>
<rect x="593.58" y="235.53" width="0.9" height="0.9" fill="#9fd0ea" opacity="0.3"/>
<rect x="613.65" y="235.46" width="0.9" height="0.9" fill="#f5a04a" opacity="0.3"/>
<rect x="577.42" y="234.52" width="0.9" height="0.9" fill="#d9251d" opacity="0.3"/>
<rect x="578.33" y="235.92" width="0.9" height="0.9" fill="#2f74b8" opacity="0.3"/>
<rect x="585.8" y="229.5" width="0.9" height="7" fill="#e5c0a0"/>
<rect x="609.9" y="232" width="1" height="4.5" fill="#7fb3dd"/>
<rect x="223" y="260.75" width="18.6" height="1.5" fill="#6f6f6f"/>
<rect x="322.2" y="260.75" width="10.5" height="1.5" fill="#6f6f6f"/>
<rect x="348" y="260.75" width="26.3" height="1.5" fill="#6f6f6f"/>
<rect x="391.3" y="260.75" width="10.7" height="1.5" fill="#6f6f6f"/>
<rect x="428.8" y="260.75" width="9.9" height="1.5" fill="#6f6f6f"/>
<rect x="547.5" y="260.75" width="107.7" height="1.5" fill="#6f6f6f"/>
<rect x="223" y="269.15" width="18.6" height="1.5" fill="#6f6f6f"/>
<rect x="263.8" y="269.15" width="15.2" height="1.5" fill="#6f6f6f"/>
<rect x="322.2" y="269.15" width="10.5" height="1.5" fill="#6f6f6f"/>
<rect x="391.3" y="269.15" width="10.7" height="1.5" fill="#6f6f6f"/>
<rect x="428.8" y="269.15" width="9.9" height="1.5" fill="#6f6f6f"/>
<rect x="547.5" y="269.15" width="107.7" height="1.5" fill="#6f6f6f"/>
<rect x="223" y="277.55" width="18.6" height="1.5" fill="#6f6f6f"/>
<rect x="263.8" y="277.55" width="15.2" height="1.5" fill="#6f6f6f"/>
<rect x="391.3" y="277.55" width="10.7" height="1.5" fill="#6f6f6f"/>
<rect x="428.8" y="277.55" width="9.9" height="1.5" fill="#6f6f6f"/>
<rect x="223" y="285.95" width="18.6" height="1.5" fill="#6f6f6f"/>
<rect x="263.8" y="285.95" width="15.2" height="1.5" fill="#6f6f6f"/>
<rect x="348" y="285.95" width="26.3" height="1.5" fill="#6f6f6f"/>
<rect x="391.3" y="285.95" width="10.7" height="1.5" fill="#6f6f6f"/>
<rect x="428.8" y="285.95" width="9.9" height="1.5" fill="#6f6f6f"/>
<rect x="547.5" y="285.95" width="35.3" height="1.5" fill="#6f6f6f"/>
<rect x="223" y="294.35" width="18.6" height="1.5" fill="#6f6f6f"/>
<rect x="263.8" y="294.35" width="15.2" height="1.5" fill="#6f6f6f"/>
<rect x="322.2" y="294.35" width="11.8" height="1.5" fill="#6f6f6f"/>
<rect x="348" y="294.35" width="26.3" height="1.5" fill="#6f6f6f"/>
<rect x="391.3" y="294.35" width="10.7" height="1.5" fill="#6f6f6f"/>
<rect x="428.8" y="294.35" width="9.9" height="1.5" fill="#6f6f6f"/>
<rect x="547.5" y="294.35" width="107.7" height="1.5" fill="#6f6f6f"/>
<rect x="223" y="302.75" width="18.6" height="1.5" fill="#6f6f6f"/>
<rect x="263.8" y="302.75" width="15.2" height="1.5" fill="#6f6f6f"/>
<rect x="348" y="302.75" width="26.3" height="1.5" fill="#6f6f6f"/>
<rect x="428.8" y="302.75" width="9.9" height="1.5" fill="#6f6f6f"/>
<rect x="547.5" y="302.75" width="107.7" height="1.5" fill="#6f6f6f"/>
<rect x="223" y="311.15" width="18.6" height="1.5" fill="#6f6f6f"/>
<rect x="322.2" y="311.15" width="10.5" height="1.5" fill="#6f6f6f"/>
<rect x="348" y="311.15" width="26.3" height="1.5" fill="#6f6f6f"/>
<rect x="391.3" y="311.15" width="10.7" height="1.5" fill="#6f6f6f"/>
<rect x="428.8" y="311.15" width="9.9" height="1.5" fill="#6f6f6f"/>
<rect x="547.5" y="311.15" width="107.7" height="1.5" fill="#6f6f6f"/>
<rect x="223" y="319.55" width="18.6" height="1.5" fill="#6f6f6f"/>
<rect x="263.8" y="319.55" width="15.2" height="1.5" fill="#6f6f6f"/>
<rect x="348" y="319.55" width="26.3" height="1.5" fill="#6f6f6f"/>
<rect x="391.3" y="319.55" width="10.7" height="1.5" fill="#6f6f6f"/>
<rect x="428.8" y="319.55" width="9.9" height="1.5" fill="#6f6f6f"/>
<rect x="547.5" y="319.55" width="107.7" height="1.5" fill="#6f6f6f"/>
<rect x="223" y="327.95" width="18.6" height="1.5" fill="#6f6f6f"/>
<rect x="263.8" y="327.95" width="15.2" height="1.5" fill="#6f6f6f"/>
<rect x="322.2" y="327.95" width="10.5" height="1.5" fill="#6f6f6f"/>
<rect x="348" y="327.95" width="26.3" height="1.5" fill="#6f6f6f"/>
<rect x="391.3" y="327.95" width="10.7" height="1.5" fill="#6f6f6f"/>
<rect x="428.8" y="327.95" width="9.9" height="1.5" fill="#6f6f6f"/>
<rect x="547.5" y="327.95" width="107.7" height="1.5" fill="#6f6f6f"/>
<rect x="223" y="336.35" width="18.6" height="1.5" fill="#6f6f6f"/>
<rect x="263.8" y="336.35" width="15.2" height="1.5" fill="#6f6f6f"/>
<rect x="322.2" y="336.35" width="10.5" height="1.5" fill="#6f6f6f"/>
<rect x="348" y="336.35" width="26.3" height="1.5" fill="#6f6f6f"/>
<rect x="391.3" y="336.35" width="10.7" height="1.5" fill="#6f6f6f"/>
<rect x="428.8" y="336.35" width="9.9" height="1.5" fill="#6f6f6f"/>
<rect x="547.5" y="336.35" width="107.7" height="1.5" fill="#6f6f6f"/>
<rect x="223" y="344.75" width="18.6" height="1.5" fill="#6f6f6f"/>
<rect x="322.2" y="344.75" width="10.5" height="1.5" fill="#6f6f6f"/>
<rect x="348" y="344.75" width="26.3" height="1.5" fill="#6f6f6f"/>
<rect x="391.3" y="344.75" width="10.7" height="1.5" fill="#6f6f6f"/>
<rect x="428.8" y="344.75" width="9.9" height="1.5" fill="#6f6f6f"/>
<rect x="223" y="353.15" width="18.6" height="1.5" fill="#6f6f6f"/>
<rect x="263.8" y="353.15" width="15.2" height="1.5" fill="#6f6f6f"/>
<rect x="348" y="353.15" width="26.3" height="1.5" fill="#6f6f6f"/>
<rect x="391.3" y="353.15" width="10.7" height="1.5" fill="#6f6f6f"/>
<rect x="428.8" y="353.15" width="9.9" height="1.5" fill="#6f6f6f"/>
<rect x="223" y="361.55" width="18.6" height="1.5" fill="#6f6f6f"/>
<rect x="263.8" y="361.55" width="15.2" height="1.5" fill="#6f6f6f"/>
<rect x="322.2" y="361.55" width="10.5" height="1.5" fill="#6f6f6f"/>
<rect x="348" y="361.55" width="26.3" height="1.5" fill="#6f6f6f"/>
<rect x="391.3" y="361.55" width="10.7" height="1.5" fill="#6f6f6f"/>
<rect x="223" y="369.95" width="18.6" height="1.5" fill="#6f6f6f"/>
<rect x="263.8" y="369.95" width="15.2" height="1.5" fill="#6f6f6f"/>
<rect x="322.2" y="369.95" width="10.5" height="1.5" fill="#6f6f6f"/>
<rect x="348" y="369.95" width="26.3" height="1.5" fill="#6f6f6f"/>
<rect x="391.3" y="369.95" width="10.7" height="1.5" fill="#6f6f6f"/>
<rect x="223" y="378.35" width="18.6" height="1.5" fill="#6f6f6f"/>
<rect x="322.2" y="378.35" width="10.5" height="1.5" fill="#6f6f6f"/>
<rect x="348" y="378.35" width="26.3" height="1.5" fill="#6f6f6f"/>
<rect x="428.8" y="378.35" width="9.9" height="1.5" fill="#6f6f6f"/>
<rect x="547.5" y="378.35" width="107.7" height="1.5" fill="#6f6f6f"/>
<rect x="223" y="386.75" width="18.6" height="1.5" fill="#6f6f6f"/>
<rect x="322.2" y="386.75" width="10.5" height="1.5" fill="#6f6f6f"/>
<rect x="348" y="386.75" width="26.3" height="1.5" fill="#6f6f6f"/>
<rect x="428.8" y="386.75" width="9.9" height="1.5" fill="#6f6f6f"/>
<rect x="223" y="395.15" width="18.6" height="1.5" fill="#6f6f6f"/>
<rect x="263.8" y="395.15" width="15.2" height="1.5" fill="#6f6f6f"/>
<rect x="322.2" y="395.15" width="10.5" height="1.5" fill="#6f6f6f"/>
<rect x="391.3" y="395.15" width="10.7" height="1.5" fill="#6f6f6f"/>
<rect x="428.8" y="395.15" width="9.9" height="1.5" fill="#6f6f6f"/>
<rect x="223" y="403.55" width="18.6" height="1.5" fill="#6f6f6f"/>
<rect x="263.8" y="403.55" width="15.2" height="1.5" fill="#6f6f6f"/>
<rect x="322.2" y="403.55" width="10.5" height="1.5" fill="#6f6f6f"/>
<rect x="348" y="403.55" width="26.3" height="1.5" fill="#6f6f6f"/>
<rect x="428.8" y="403.55" width="9.9" height="1.5" fill="#6f6f6f"/>
<rect x="547.5" y="403.55" width="107.7" height="1.5" fill="#6f6f6f"/>
<rect x="223" y="411.95" width="18.6" height="1.5" fill="#6f6f6f"/>
<rect x="263.8" y="411.95" width="15.2" height="1.5" fill="#6f6f6f"/>
<rect x="322.2" y="411.95" width="10.5" height="1.5" fill="#6f6f6f"/>
<rect x="348" y="411.95" width="26.3" height="1.5" fill="#6f6f6f"/>
<rect x="428.8" y="411.95" width="9.9" height="1.5" fill="#6f6f6f"/>
<rect x="223" y="420.35" width="18.6" height="1.5" fill="#6f6f6f"/>
<rect x="263.8" y="420.35" width="15.2" height="1.5" fill="#6f6f6f"/>
<rect x="322.2" y="420.35" width="10.5" height="1.5" fill="#6f6f6f"/>
<rect x="348" y="420.35" width="26.3" height="1.5" fill="#6f6f6f"/>
<rect x="391.3" y="420.35" width="10.7" height="1.5" fill="#6f6f6f"/>
<rect x="428.8" y="420.35" width="9.9" height="1.5" fill="#6f6f6f"/>
<rect x="263.8" y="428.75" width="15.2" height="1.5" fill="#6f6f6f"/>
<rect x="322.2" y="428.75" width="10.5" height="1.5" fill="#6f6f6f"/>
<rect x="348" y="428.75" width="26.3" height="1.5" fill="#6f6f6f"/>
<rect x="391.3" y="428.75" width="10.7" height="1.5" fill="#6f6f6f"/>
<rect x="428.8" y="428.75" width="9.9" height="1.5" fill="#6f6f6f"/>
<rect x="223" y="437.15" width="18.6" height="1.5" fill="#6f6f6f"/>
<rect x="348" y="437.15" width="26.3" height="1.5" fill="#6f6f6f"/>
<rect x="391.3" y="437.15" width="10.7" height="1.5" fill="#6f6f6f"/>
<rect x="428.8" y="437.15" width="9.9" height="1.5" fill="#6f6f6f"/>
<rect x="223" y="445.55" width="18.6" height="1.5" fill="#6f6f6f"/>
<rect x="263.8" y="445.55" width="15.2" height="1.5" fill="#6f6f6f"/>
<rect x="348" y="445.55" width="26.3" height="1.5" fill="#6f6f6f"/>
<rect x="391.3" y="445.55" width="10.7" height="1.5" fill="#6f6f6f"/>
<rect x="428.8" y="445.55" width="9.9" height="1.5" fill="#6f6f6f"/>
<rect x="223" y="453.95" width="18.6" height="1.5" fill="#6f6f6f"/>
<rect x="263.8" y="453.95" width="15.2" height="1.5" fill="#6f6f6f"/>
<rect x="348" y="453.95" width="26.3" height="1.5" fill="#6f6f6f"/>
<rect x="391.3" y="453.95" width="10.7" height="1.5" fill="#6f6f6f"/>
<rect x="428.8" y="453.95" width="9.9" height="1.5" fill="#6f6f6f"/>
<rect x="223" y="462.35" width="18.6" height="1.5" fill="#6f6f6f"/>
<rect x="391.3" y="462.35" width="10.7" height="1.5" fill="#6f6f6f"/>
<rect x="428.8" y="462.35" width="9.9" height="1.5" fill="#6f6f6f"/>
<rect x="223" y="470.75" width="18.6" height="1.5" fill="#6f6f6f"/>
<rect x="263.8" y="470.75" width="15.2" height="1.5" fill="#6f6f6f"/>
<rect x="322.2" y="470.75" width="11.8" height="1.5" fill="#6f6f6f"/>
<rect x="348" y="470.75" width="26.3" height="1.5" fill="#6f6f6f"/>
<rect x="391.3" y="470.75" width="10.7" height="1.5" fill="#6f6f6f"/>
<rect x="223" y="479.15" width="18.6" height="1.5" fill="#6f6f6f"/>
<rect x="263.8" y="479.15" width="15.2" height="1.5" fill="#6f6f6f"/>
<rect x="348" y="479.15" width="26.3" height="1.5" fill="#6f6f6f"/>
<rect x="223" y="487.55" width="18.6" height="1.5" fill="#6f6f6f"/>
<rect x="348" y="487.55" width="26.3" height="1.5" fill="#6f6f6f"/>
<rect x="391.3" y="487.55" width="10.7" height="1.5" fill="#6f6f6f"/>
<rect x="428.8" y="487.55" width="9.9" height="1.5" fill="#6f6f6f"/>
<rect x="263.8" y="495.95" width="15.2" height="1.5" fill="#6f6f6f"/>
<rect x="348" y="495.95" width="26.3" height="1.5" fill="#6f6f6f"/>
<rect x="391.3" y="495.95" width="10.7" height="1.5" fill="#6f6f6f"/>
<rect x="428.8" y="495.95" width="9.9" height="1.5" fill="#6f6f6f"/>
<rect x="547.5" y="495.95" width="107.7" height="1.5" fill="#6f6f6f"/>
<rect x="223" y="504.35" width="18.6" height="1.5" fill="#6f6f6f"/>
<rect x="263.8" y="504.35" width="15.2" height="1.5" fill="#6f6f6f"/>
<rect x="348" y="504.35" width="26.3" height="1.5" fill="#6f6f6f"/>
<rect x="391.3" y="504.35" width="10.7" height="1.5" fill="#6f6f6f"/>
<rect x="428.8" y="504.35" width="9.9" height="1.5" fill="#6f6f6f"/>
<rect x="547.5" y="504.35" width="107.7" height="1.5" fill="#6f6f6f"/>
<rect x="223" y="512.75" width="18.6" height="1.5" fill="#6f6f6f"/>
<rect x="263.8" y="512.75" width="15.2" height="1.5" fill="#6f6f6f"/>
<rect x="322.2" y="512.75" width="10.5" height="1.5" fill="#6f6f6f"/>
<rect x="348" y="512.75" width="26.3" height="1.5" fill="#6f6f6f"/>
<rect x="391.3" y="512.75" width="10.7" height="1.5" fill="#6f6f6f"/>
<rect x="428.8" y="512.75" width="9.9" height="1.5" fill="#6f6f6f"/>
<rect x="322.2" y="521.15" width="14.7" height="1.5" fill="#6f6f6f"/>
<rect x="348" y="521.15" width="26.3" height="1.5" fill="#6f6f6f"/>
<rect x="391.3" y="521.15" width="10.7" height="1.5" fill="#6f6f6f"/>
<rect x="428.8" y="521.15" width="9.9" height="1.5" fill="#6f6f6f"/>
<rect x="547.5" y="521.15" width="107.7" height="1.5" fill="#6f6f6f"/>
<rect x="223" y="529.55" width="18.6" height="1.5" fill="#6f6f6f"/>
<rect x="263.8" y="529.55" width="15.2" height="1.5" fill="#6f6f6f"/>
<rect x="322.2" y="529.55" width="10.5" height="1.5" fill="#6f6f6f"/>
<rect x="348" y="529.55" width="26.3" height="1.5" fill="#6f6f6f"/>
<rect x="391.3" y="529.55" width="10.7" height="1.5" fill="#6f6f6f"/>
<rect x="428.8" y="529.55" width="9.9" height="1.5" fill="#6f6f6f"/>
<rect x="547.5" y="529.55" width="107.7" height="1.5" fill="#6f6f6f"/>
<rect x="223" y="537.95" width="18.6" height="1.5" fill="#6f6f6f"/>
<rect x="263.8" y="537.95" width="15.2" height="1.5" fill="#6f6f6f"/>
<rect x="322.2" y="537.95" width="10.5" height="1.5" fill="#6f6f6f"/>
<rect x="348" y="537.95" width="26.3" height="1.5" fill="#6f6f6f"/>
<rect x="391.3" y="537.95" width="10.7" height="1.5" fill="#6f6f6f"/>
<rect x="428.8" y="537.95" width="9.9" height="1.5" fill="#6f6f6f"/>
<style>.q{fill:#e4e4e4;stroke:#a7a7a7;stroke-width:1.1px}.r{fill:#dc1f17}.b{fill:#2a6db5}.o{fill:#f7a447}.l{fill:#a6d5ee}.y{fill:#f7f0b0}</style>
<rect class="q" x="143.95" y="258.35" width="5.94" height="6.3"/>
<rect class="q" x="150.99" y="258.35" width="5.02" height="6.3"/>
<rect class="q" x="157.11" y="258.35" width="6.24" height="6.3"/>
<rect class="q" x="164.45" y="258.35" width="5.02" height="6.3"/>
<rect class="q" x="170.57" y="258.35" width="4.83" height="6.3"/>
<rect class="q" x="176.5" y="258.35" width="6.3" height="6.3"/>
<rect class="q" x="183.89" y="258.35" width="5.69" height="6.3"/>
<rect class="q" x="190.68" y="258.35" width="5.82" height="6.3"/>
<rect class="q" x="197.6" y="258.35" width="5.76" height="6.3"/>
<rect class="q" x="204.47" y="258.35" width="6.45" height="6.3"/>
<rect class="q" x="212.02" y="258.35" width="5.33" height="6.3"/>
<rect class="q" x="218.45" y="258.35" width="4" height="6.3"/>
<rect class="q" x="242.15" y="258.35" width="5.1" height="6.3"/>
<rect class="q" x="248.35" y="258.35" width="6.1" height="6.3"/>
<rect class="q" x="255.55" y="258.35" width="6.1" height="6.3"/>
<rect class="q" x="262.75" y="258.35" width="7.4" height="6.3"/>
<rect class="q" x="273.35" y="258.35" width="4.49" height="6.3"/>
<rect class="q" x="278.94" y="258.35" width="5.95" height="6.3"/>
<rect class="q" x="286" y="258.35" width="5.69" height="6.3"/>
<rect class="q" x="292.79" y="258.35" width="5.35" height="6.3"/>
<rect class="q" x="299.24" y="258.35" width="4.59" height="6.3"/>
<rect class="q" x="304.93" y="258.35" width="6.04" height="6.3"/>
<rect class="q" x="312.07" y="258.35" width="5.72" height="6.3"/>
<rect class="q" x="318.89" y="258.35" width="2.76" height="6.3"/>
<rect class="q" x="333.25" y="258.35" width="5.94" height="6.3"/>
<rect class="q" x="340.29" y="258.35" width="7.16" height="6.3"/>
<rect class="q" x="374.85" y="258.35" width="4.41" height="6.3"/>
<rect class="q" x="380.36" y="258.35" width="5.55" height="6.3"/>
<rect class="q" x="387" y="258.35" width="3.75" height="6.3"/>
<rect class="q" x="402.55" y="258.35" width="5.26" height="6.3"/>
<rect class="q" x="408.91" y="258.35" width="5.45" height="6.3"/>
<rect class="q" x="415.46" y="258.35" width="4.93" height="6.3"/>
<rect class="q" x="421.5" y="258.35" width="6.75" height="6.3"/>
<rect class="q" x="439.25" y="258.35" width="6.41" height="6.3"/>
<rect class="q" x="446.76" y="258.35" width="5.43" height="6.3"/>
<rect class="q" x="453.29" y="258.35" width="5.57" height="6.3"/>
<rect class="q" x="459.96" y="258.35" width="4.65" height="6.3"/>
<rect class="q" x="465.71" y="258.35" width="6.09" height="6.3"/>
<rect class="q" x="472.9" y="258.35" width="6.36" height="6.3"/>
<rect class="q" x="480.37" y="258.35" width="4.81" height="6.3"/>
<rect class="q" x="486.28" y="258.35" width="4.66" height="6.3"/>
<rect class="q" x="492.04" y="258.35" width="6.37" height="6.3"/>
<rect class="q" x="499.51" y="258.35" width="5.99" height="6.3"/>
<rect class="q" x="506.59" y="258.35" width="5.38" height="6.3"/>
<rect class="q" x="513.07" y="258.35" width="6.48" height="6.3"/>
<rect class="q" x="520.65" y="258.35" width="5.53" height="6.3"/>
<rect class="q" x="527.29" y="258.35" width="4.53" height="6.3"/>
<rect class="q" x="532.92" y="258.35" width="5.02" height="6.3"/>
<rect class="q" x="539.04" y="258.35" width="7.91" height="6.3"/>
<rect class="q" x="144.85" y="266.75" width="5.42" height="6.3"/>
<rect class="q" x="151.37" y="266.75" width="4.89" height="6.3"/>
<rect class="q" x="157.36" y="266.75" width="5.96" height="6.3"/>
<rect class="q" x="164.42" y="266.75" width="6.12" height="6.3"/>
<rect class="q" x="171.63" y="266.75" width="5.66" height="6.3"/>
<rect class="q" x="178.39" y="266.75" width="5.89" height="6.3"/>
<rect class="q" x="185.38" y="266.75" width="6.44" height="6.3"/>
<rect class="q" x="192.93" y="266.75" width="5.89" height="6.3"/>
<rect class="q" x="199.92" y="266.75" width="5.63" height="6.3"/>
<rect class="q" x="206.65" y="266.75" width="5.07" height="6.3"/>
<rect class="q" x="212.81" y="266.75" width="4.82" height="6.3"/>
<rect class="q" x="218.73" y="266.75" width="3.72" height="6.3"/>
<rect class="q" x="242.15" y="266.75" width="5.95" height="6.3"/>
<rect class="q" x="249.2" y="266.75" width="5.23" height="6.3"/>
<rect class="q" x="255.52" y="266.75" width="7.73" height="6.3"/>
<rect class="q" x="279.55" y="266.75" width="5.84" height="6.3"/>
<rect class="q" x="286.49" y="266.75" width="6.18" height="6.3"/>
<rect class="q" x="293.77" y="266.75" width="5.8" height="6.3"/>
<rect class="q" x="300.66" y="266.75" width="5.71" height="6.3"/>
<rect class="q" x="307.47" y="266.75" width="5.3" height="6.3"/>
<rect class="q" x="313.87" y="266.75" width="7.78" height="6.3"/>
<rect class="q" x="333.25" y="266.75" width="5.3" height="6.3"/>
<rect class="q" x="339.65" y="266.75" width="7.8" height="6.3"/>
<rect class="q" x="374.85" y="266.75" width="6.35" height="6.3"/>
<rect class="q" x="382.3" y="266.75" width="4.7" height="6.3"/>
<rect class="q" x="388.1" y="266.75" width="2.65" height="6.3"/>
<rect class="q" x="402.55" y="266.75" width="6.44" height="6.3"/>
<rect class="q" x="410.09" y="266.75" width="4.38" height="6.3"/>
<rect class="q" x="415.58" y="266.75" width="5.5" height="6.3"/>
<rect class="q" x="422.17" y="266.75" width="6.08" height="6.3"/>
<rect class="q" x="439.25" y="266.75" width="5.43" height="6.3"/>
<rect class="q" x="445.78" y="266.75" width="5.71" height="6.3"/>
<rect class="q" x="452.58" y="266.75" width="6.12" height="6.3"/>
<rect class="q" x="459.81" y="266.75" width="5.45" height="6.3"/>
<rect class="q" x="466.35" y="266.75" width="5.2" height="6.3"/>
<rect class="q" x="472.66" y="266.75" width="6.39" height="6.3"/>
<rect class="q" x="480.14" y="266.75" width="4.76" height="6.3"/>
<rect class="q" x="486.01" y="266.75" width="5.81" height="6.3"/>
<rect class="q" x="492.91" y="266.75" width="5.16" height="6.3"/>
<rect class="q" x="499.17" y="266.75" width="5.98" height="6.3"/>
<rect class="q" x="506.25" y="266.75" width="4.57" height="6.3"/>
<rect class="q" x="511.92" y="266.75" width="6.47" height="6.3"/>
<rect class="q" x="519.49" y="266.75" width="5.08" height="6.3"/>
<rect class="q" x="525.67" y="266.75" width="4.42" height="6.3"/>
<rect class="q" x="531.19" y="266.75" width="4.9" height="6.3"/>
<rect class="q" x="537.2" y="266.75" width="5.18" height="6.3"/>
<rect class="q" x="543.48" y="266.75" width="3.47" height="6.3"/>
<rect class="q" x="145.35" y="275.15" width="4.31" height="6.3"/>
<rect class="q" x="150.76" y="275.15" width="5.89" height="6.3"/>
<rect class="q" x="157.74" y="275.15" width="4.92" height="6.3"/>
<rect class="q" x="163.76" y="275.15" width="4.84" height="6.3"/>
<rect class="q" x="169.7" y="275.15" width="4.96" height="6.3"/>
<rect class="q" x="175.77" y="275.15" width="5.36" height="6.3"/>
<rect class="q" x="182.22" y="275.15" width="5.24" height="6.3"/>
<rect class="q" x="188.56" y="275.15" width="5.7" height="6.3"/>
<rect class="q" x="195.37" y="275.15" width="5.75" height="6.3"/>
<rect class="q" x="202.22" y="275.15" width="5.1" height="6.3"/>
<rect class="q" x="208.41" y="275.15" width="6.34" height="6.3"/>
<rect class="q" x="215.86" y="275.15" width="6.59" height="6.3"/>
<rect class="q" x="242.15" y="275.15" width="4.47" height="6.3"/>
<rect class="q" x="247.72" y="275.15" width="6.15" height="6.3"/>
<rect class="q" x="254.97" y="275.15" width="8.28" height="6.3"/>
<rect class="q" x="279.55" y="275.15" width="5.53" height="6.3"/>
<rect class="q" x="286.18" y="275.15" width="5.37" height="6.3"/>
<rect class="q" x="292.64" y="275.15" width="6.29" height="6.3"/>
<rect class="q" x="300.03" y="275.15" width="5.84" height="6.3"/>
<rect class="q" x="306.97" y="275.15" width="4.84" height="6.3"/>
<rect class="q" x="312.92" y="275.15" width="4.66" height="6.3"/>
<rect class="q" x="318.68" y="275.15" width="2.97" height="6.3"/>
<rect class="q" x="333.25" y="275.15" width="5.79" height="6.3"/>
<rect class="q" x="340.14" y="275.15" width="7.31" height="6.3"/>
<rect class="q" x="374.85" y="275.15" width="4.35" height="6.3"/>
<rect class="q" x="380.3" y="275.15" width="4.4" height="6.3"/>
<rect class="q" x="385.8" y="275.15" width="4.95" height="6.3"/>
<rect class="q" x="402.55" y="275.15" width="4.62" height="6.3"/>
<rect class="q" x="408.27" y="275.15" width="4.77" height="6.3"/>
<rect class="q" x="414.14" y="275.15" width="5.21" height="6.3"/>
<rect class="q" x="420.45" y="275.15" width="7.8" height="6.3"/>
<rect class="q" x="439.25" y="275.15" width="5.05" height="6.3"/>
<rect class="q" x="445.4" y="275.15" width="4.85" height="6.3"/>
<rect class="q" x="451.36" y="275.15" width="4.42" height="6.3"/>
<rect class="q" x="456.87" y="275.15" width="4.94" height="6.3"/>
<rect class="q" x="462.91" y="275.15" width="5.08" height="6.3"/>
<rect class="q" x="469.09" y="275.15" width="5.39" height="6.3"/>
<rect class="q" x="475.58" y="275.15" width="5.03" height="6.3"/>
<rect class="q" x="481.71" y="275.15" width="6.47" height="6.3"/>
<rect class="q" x="489.28" y="275.15" width="6.22" height="6.3"/>
<rect class="q" x="496.6" y="275.15" width="5.06" height="6.3"/>
<rect class="q" x="502.75" y="275.15" width="4.75" height="6.3"/>
<rect class="q" x="508.6" y="275.15" width="5.38" height="6.3"/>
<rect class="q" x="515.08" y="275.15" width="4.56" height="6.3"/>
<rect class="q" x="520.74" y="275.15" width="4.72" height="6.3"/>
<rect class="q" x="526.57" y="275.15" width="5.87" height="6.3"/>
<rect class="q" x="533.54" y="275.15" width="4.58" height="6.3"/>
<rect class="q" x="539.22" y="275.15" width="6.44" height="6.3"/>
<rect class="q" x="546.76" y="275.15" width="7.39" height="6.3"/>
<rect class="q" x="558.95" y="275.15" width="5.23" height="6.3"/>
<rect class="q" x="565.28" y="275.15" width="5" height="6.3"/>
<rect class="q" x="571.38" y="275.15" width="5.25" height="6.3"/>
<rect class="q" x="577.73" y="275.15" width="5.71" height="6.3"/>
<rect class="q" x="584.54" y="275.15" width="6.35" height="6.3"/>
<rect class="q" x="591.99" y="275.15" width="4.42" height="6.3"/>
<rect class="q" x="597.51" y="275.15" width="5.55" height="6.3"/>
<rect class="q" x="604.16" y="275.15" width="4.39" height="6.3"/>
<rect class="q" x="609.65" y="275.15" width="4.56" height="6.3"/>
<rect class="q" x="615.31" y="275.15" width="6.08" height="6.3"/>
<rect class="q" x="622.49" y="275.15" width="7.26" height="6.3"/>
<rect class="q" x="633.55" y="275.15" width="4.57" height="6.3"/>
<rect class="q" x="639.22" y="275.15" width="5.34" height="6.3"/>
<rect class="q" x="645.66" y="275.15" width="4.91" height="6.3"/>
<rect class="q" x="651.66" y="275.15" width="2.99" height="6.3"/>
<rect class="q" x="145.35" y="283.55" width="5.94" height="6.3"/>
<rect class="q" x="152.39" y="283.55" width="5.83" height="6.3"/>
<rect class="q" x="159.32" y="283.55" width="4.62" height="6.3"/>
<rect class="q" x="165.04" y="283.55" width="5.97" height="6.3"/>
<rect class="q" x="172.11" y="283.55" width="4.94" height="6.3"/>
<rect class="q" x="178.16" y="283.55" width="5.53" height="6.3"/>
<rect class="q" x="184.78" y="283.55" width="5.4" height="6.3"/>
<rect class="q" x="191.28" y="283.55" width="5.77" height="6.3"/>
<rect class="q" x="198.15" y="283.55" width="6.26" height="6.3"/>
<rect class="q" x="205.51" y="283.55" width="6.31" height="6.3"/>
<rect class="q" x="212.92" y="283.55" width="4.42" height="6.3"/>
<rect class="q" x="218.44" y="283.55" width="4.01" height="6.3"/>
<rect class="q" x="242.15" y="283.55" width="4.43" height="6.3"/>
<rect class="q" x="247.68" y="283.55" width="6.44" height="6.3"/>
<rect class="q" x="255.23" y="283.55" width="8.02" height="6.3"/>
<rect class="q" x="279.55" y="283.55" width="6.45" height="6.3"/>
<rect class="q" x="287.1" y="283.55" width="6.13" height="6.3"/>
<rect class="q" x="294.33" y="283.55" width="5.62" height="6.3"/>
<rect class="q" x="301.05" y="283.55" width="4.98" height="6.3"/>
<rect class="q" x="307.13" y="283.55" width="5.24" height="6.3"/>
<rect class="q" x="313.47" y="283.55" width="8.18" height="6.3"/>
<rect class="q" x="333.25" y="283.55" width="4.3" height="6.3"/>
<rect class="q" x="338.65" y="283.55" width="4.88" height="6.3"/>
<rect class="q" x="344.63" y="283.55" width="2.82" height="6.3"/>
<rect class="q" x="374.85" y="283.55" width="4.39" height="6.3"/>
<rect class="q" x="380.34" y="283.55" width="6.13" height="6.3"/>
<rect class="q" x="387.58" y="283.55" width="3.17" height="6.3"/>
<rect class="q" x="402.55" y="283.55" width="6.17" height="6.3"/>
<rect class="q" x="409.82" y="283.55" width="6.08" height="6.3"/>
<rect class="q" x="417" y="283.55" width="5.81" height="6.3"/>
<rect class="q" x="423.9" y="283.55" width="4.35" height="6.3"/>
<rect class="q" x="439.25" y="283.55" width="4.75" height="6.3"/>
<rect class="q" x="445.1" y="283.55" width="4.86" height="6.3"/>
<rect class="q" x="451.06" y="283.55" width="5.95" height="6.3"/>
<rect class="q" x="458.12" y="283.55" width="6.04" height="6.3"/>
<rect class="q" x="465.26" y="283.55" width="5.31" height="6.3"/>
<rect class="q" x="471.67" y="283.55" width="4.49" height="6.3"/>
<rect class="q" x="477.26" y="283.55" width="6.07" height="6.3"/>
<rect class="q" x="484.44" y="283.55" width="6" height="6.3"/>
<rect class="q" x="491.54" y="283.55" width="4.81" height="6.3"/>
<rect class="q" x="497.45" y="283.55" width="5.58" height="6.3"/>
<rect class="q" x="504.12" y="283.55" width="6.27" height="6.3"/>
<rect class="q" x="511.5" y="283.55" width="6.25" height="6.3"/>
<rect class="q" x="518.84" y="283.55" width="5.45" height="6.3"/>
<rect class="q" x="525.39" y="283.55" width="5.35" height="6.3"/>
<rect class="q" x="531.84" y="283.55" width="5.6" height="6.3"/>
<rect class="q" x="538.54" y="283.55" width="4.72" height="6.3"/>
<rect class="q" x="544.35" y="283.55" width="2.6" height="6.3"/>
<rect class="q" x="583.35" y="283.55" width="5.31" height="6.3"/>
<rect class="q" x="589.76" y="283.55" width="6.38" height="6.3"/>
<rect class="q" x="597.24" y="283.55" width="6.3" height="6.3"/>
<rect class="q" x="604.64" y="283.55" width="4.44" height="6.3"/>
<rect class="q" x="610.19" y="283.55" width="5.62" height="6.3"/>
<rect class="q" x="616.9" y="283.55" width="5.17" height="6.3"/>
<rect class="q" x="623.18" y="283.55" width="4.56" height="6.3"/>
<rect class="q" x="628.84" y="283.55" width="6.41" height="6.3"/>
<rect class="q" x="636.35" y="283.55" width="4.87" height="6.3"/>
<rect class="q" x="642.32" y="283.55" width="5.54" height="6.3"/>
<rect class="q" x="648.96" y="283.55" width="5.69" height="6.3"/>
<rect class="q" x="145.35" y="291.95" width="4.42" height="6.3"/>
<rect class="q" x="150.87" y="291.95" width="4.62" height="6.3"/>
<rect class="q" x="156.59" y="291.95" width="5.96" height="6.3"/>
<rect class="q" x="163.65" y="291.95" width="6.37" height="6.3"/>
<rect class="q" x="171.12" y="291.95" width="5.79" height="6.3"/>
<rect class="q" x="178.01" y="291.95" width="4.96" height="6.3"/>
<rect class="q" x="184.07" y="291.95" width="5.6" height="6.3"/>
<rect class="q" x="190.77" y="291.95" width="5.97" height="6.3"/>
<rect class="q" x="197.83" y="291.95" width="4.53" height="6.3"/>
<rect class="q" x="203.47" y="291.95" width="5.01" height="6.3"/>
<rect class="q" x="209.58" y="291.95" width="4.87" height="6.3"/>
<rect class="q" x="215.54" y="291.95" width="6.91" height="6.3"/>
<rect class="q" x="242.15" y="291.95" width="5.01" height="6.3"/>
<rect class="q" x="248.26" y="291.95" width="4.81" height="6.3"/>
<rect class="q" x="254.17" y="291.95" width="4.55" height="6.3"/>
<rect class="q" x="259.83" y="291.95" width="3.42" height="6.3"/>
<rect class="q" x="279.55" y="291.95" width="4.63" height="6.3"/>
<rect class="q" x="285.28" y="291.95" width="5.22" height="6.3"/>
<rect class="q" x="291.6" y="291.95" width="4.84" height="6.3"/>
<rect class="q" x="297.54" y="291.95" width="4.36" height="6.3"/>
<rect class="q" x="303" y="291.95" width="5.56" height="6.3"/>
<rect class="q" x="309.65" y="291.95" width="4.95" height="6.3"/>
<rect class="q" x="315.71" y="291.95" width="5.94" height="6.3"/>
<rect class="q" x="334.55" y="291.95" width="5.25" height="6.3"/>
<rect class="q" x="340.9" y="291.95" width="6.55" height="6.3"/>
<rect class="q" x="374.85" y="291.95" width="4.66" height="6.3"/>
<rect class="q" x="380.61" y="291.95" width="6.13" height="6.3"/>
<rect class="q" x="387.84" y="291.95" width="2.91" height="6.3"/>
<rect class="q" x="402.55" y="291.95" width="5.27" height="6.3"/>
<rect class="q" x="408.92" y="291.95" width="6.04" height="6.3"/>
<rect class="q" x="416.06" y="291.95" width="6.38" height="6.3"/>
<rect class="q" x="423.54" y="291.95" width="4.71" height="6.3"/>
<rect class="q" x="439.25" y="291.95" width="6.26" height="6.3"/>
<rect class="q" x="446.61" y="291.95" width="5.91" height="6.3"/>
<rect class="q" x="453.61" y="291.95" width="5.97" height="6.3"/>
<rect class="q" x="460.69" y="291.95" width="4.69" height="6.3"/>
<rect class="q" x="466.47" y="291.95" width="4.6" height="6.3"/>
<rect class="q" x="472.18" y="291.95" width="5.77" height="6.3"/>
<rect class="q" x="479.05" y="291.95" width="5.68" height="6.3"/>
<rect class="q" x="485.83" y="291.95" width="4.72" height="6.3"/>
<rect class="q" x="491.66" y="291.95" width="4.98" height="6.3"/>
<rect class="q" x="497.73" y="291.95" width="4.32" height="6.3"/>
<rect class="q" x="503.16" y="291.95" width="5.82" height="6.3"/>
<rect class="q" x="510.08" y="291.95" width="5.44" height="6.3"/>
<rect class="q" x="516.62" y="291.95" width="6.15" height="6.3"/>
<rect class="q" x="523.87" y="291.95" width="6.32" height="6.3"/>
<rect class="q" x="531.29" y="291.95" width="5.44" height="6.3"/>
<rect class="q" x="537.83" y="291.95" width="5.06" height="6.3"/>
<rect class="q" x="543.99" y="291.95" width="2.96" height="6.3"/>
<rect class="q" x="145.35" y="300.35" width="4.35" height="6.3"/>
<rect class="q" x="150.8" y="300.35" width="6.43" height="6.3"/>
<rect class="q" x="158.32" y="300.35" width="4.79" height="6.3"/>
<rect class="q" x="164.22" y="300.35" width="4.7" height="6.3"/>
<rect class="q" x="170.02" y="300.35" width="4.53" height="6.3"/>
<rect class="q" x="175.64" y="300.35" width="4.85" height="6.3"/>
<rect class="q" x="181.59" y="300.35" width="6.1" height="6.3"/>
<rect class="q" x="188.79" y="300.35" width="4.37" height="6.3"/>
<rect class="q" x="194.26" y="300.35" width="4.51" height="6.3"/>
<rect class="q" x="199.87" y="300.35" width="5.84" height="6.3"/>
<rect class="q" x="206.81" y="300.35" width="4.73" height="6.3"/>
<rect class="q" x="212.64" y="300.35" width="4.34" height="6.3"/>
<rect class="q" x="218.08" y="300.35" width="4.37" height="6.3"/>
<rect class="q" x="242.15" y="300.35" width="6.01" height="6.3"/>
<rect class="q" x="249.26" y="300.35" width="5.04" height="6.3"/>
<rect class="q" x="255.4" y="300.35" width="7.85" height="6.3"/>
<rect class="q" x="279.55" y="300.35" width="6.07" height="6.3"/>
<rect class="q" x="286.72" y="300.35" width="6.31" height="6.3"/>
<rect class="q" x="294.13" y="300.35" width="6.09" height="6.3"/>
<rect class="q" x="301.32" y="300.35" width="6.16" height="6.3"/>
<rect class="q" x="308.59" y="300.35" width="4.42" height="6.3"/>
<rect class="q" x="314.1" y="300.35" width="7.55" height="6.3"/>
<rect class="q" x="333.25" y="300.35" width="5.47" height="6.3"/>
<rect class="q" x="339.82" y="300.35" width="7.63" height="6.3"/>
<rect class="q" x="374.85" y="300.35" width="4.35" height="6.3"/>
<rect class="q" x="380.3" y="300.35" width="4.61" height="6.3"/>
<rect class="q" x="386" y="300.35" width="4.75" height="6.3"/>
<rect class="q" x="402.55" y="300.35" width="6.08" height="6.3"/>
<rect class="q" x="409.73" y="300.35" width="6.25" height="6.3"/>
<rect class="q" x="417.08" y="300.35" width="6.25" height="6.3"/>
<rect class="q" x="424.42" y="300.35" width="3.83" height="6.3"/>
<rect class="q" x="439.25" y="300.35" width="6.33" height="6.3"/>
<rect class="q" x="446.68" y="300.35" width="5.67" height="6.3"/>
<rect class="q" x="453.45" y="300.35" width="4.85" height="6.3"/>
<rect class="q" x="459.4" y="300.35" width="5.44" height="6.3"/>
<rect class="q" x="465.95" y="300.35" width="5.25" height="6.3"/>
<rect class="q" x="472.3" y="300.35" width="6.39" height="6.3"/>
<rect class="q" x="479.79" y="300.35" width="4.93" height="6.3"/>
<rect class="q" x="485.82" y="300.35" width="4.97" height="6.3"/>
<rect class="q" x="491.9" y="300.35" width="5.72" height="6.3"/>
<rect class="q" x="498.72" y="300.35" width="4.56" height="6.3"/>
<rect class="q" x="504.39" y="300.35" width="5.61" height="6.3"/>
<rect class="q" x="511.09" y="300.35" width="6.4" height="6.3"/>
<rect class="q" x="518.6" y="300.35" width="5.43" height="6.3"/>
<rect class="q" x="525.13" y="300.35" width="4.89" height="6.3"/>
<rect class="q" x="531.12" y="300.35" width="5.33" height="6.3"/>
<rect class="q" x="537.54" y="300.35" width="5.47" height="6.3"/>
<rect class="q" x="544.12" y="300.35" width="2.83" height="6.3"/>
<rect class="q" x="146.05" y="308.75" width="5.45" height="6.3"/>
<rect class="q" x="152.6" y="308.75" width="6.48" height="6.3"/>
<rect class="q" x="160.17" y="308.75" width="5.79" height="6.3"/>
<rect class="q" x="167.06" y="308.75" width="6.35" height="6.3"/>
<rect class="q" x="174.52" y="308.75" width="5.22" height="6.3"/>
<rect class="q" x="180.83" y="308.75" width="5.77" height="6.3"/>
<rect class="q" x="187.71" y="308.75" width="4.61" height="6.3"/>
<rect class="q" x="193.41" y="308.75" width="4.75" height="6.3"/>
<rect class="q" x="199.26" y="308.75" width="5.64" height="6.3"/>
<rect class="q" x="206" y="308.75" width="4.91" height="6.3"/>
<rect class="q" x="212.01" y="308.75" width="6.15" height="6.3"/>
<rect class="q" x="219.26" y="308.75" width="3.19" height="6.3"/>
<rect class="q" x="242.15" y="308.75" width="5.46" height="6.3"/>
<rect class="q" x="248.71" y="308.75" width="5.61" height="6.3"/>
<rect class="q" x="255.42" y="308.75" width="5.73" height="6.3"/>
<rect class="q" x="262.24" y="308.75" width="4.31" height="6.3"/>
<rect class="q" x="267.66" y="308.75" width="2.49" height="6.3"/>
<rect class="q" x="273.35" y="308.75" width="5.26" height="6.3"/>
<rect class="q" x="279.71" y="308.75" width="5.13" height="6.3"/>
<rect class="q" x="285.94" y="308.75" width="4.81" height="6.3"/>
<rect class="q" x="291.85" y="308.75" width="6.11" height="6.3"/>
<rect class="q" x="299.06" y="308.75" width="5.03" height="6.3"/>
<rect class="q" x="305.18" y="308.75" width="6.43" height="6.3"/>
<rect class="q" x="312.71" y="308.75" width="8.94" height="6.3"/>
<rect class="q" x="333.25" y="308.75" width="4.99" height="6.3"/>
<rect class="q" x="339.34" y="308.75" width="8.11" height="6.3"/>
<rect class="q" x="374.85" y="308.75" width="5.9" height="6.3"/>
<rect class="q" x="381.85" y="308.75" width="5.25" height="6.3"/>
<rect class="q" x="388.2" y="308.75" width="2.55" height="6.3"/>
<rect class="q" x="402.55" y="308.75" width="5.4" height="6.3"/>
<rect class="q" x="409.05" y="308.75" width="5.73" height="6.3"/>
<rect class="q" x="415.88" y="308.75" width="6.34" height="6.3"/>
<rect class="q" x="423.32" y="308.75" width="4.93" height="6.3"/>
<rect class="q" x="439.25" y="308.75" width="5.94" height="6.3"/>
<rect class="q" x="446.29" y="308.75" width="4.5" height="6.3"/>
<rect class="q" x="451.9" y="308.75" width="5.1" height="6.3"/>
<rect class="q" x="458.09" y="308.75" width="5.11" height="6.3"/>
<rect class="q" x="464.3" y="308.75" width="4.47" height="6.3"/>
<rect class="q" x="469.86" y="308.75" width="4.98" height="6.3"/>
<rect class="q" x="475.95" y="308.75" width="4.69" height="6.3"/>
<rect class="q" x="481.73" y="308.75" width="5.74" height="6.3"/>
<rect class="q" x="488.58" y="308.75" width="4.95" height="6.3"/>
<rect class="q" x="494.63" y="308.75" width="5.06" height="6.3"/>
<rect class="q" x="500.78" y="308.75" width="6.36" height="6.3"/>
<rect class="q" x="508.24" y="308.75" width="5.42" height="6.3"/>
<rect class="q" x="514.76" y="308.75" width="6.44" height="6.3"/>
<rect class="q" x="522.3" y="308.75" width="5.69" height="6.3"/>
<rect class="q" x="529.08" y="308.75" width="5.45" height="6.3"/>
<rect class="q" x="535.64" y="308.75" width="6.1" height="6.3"/>
<rect class="q" x="542.83" y="308.75" width="4.12" height="6.3"/>
<rect class="q" x="146.05" y="317.15" width="4.62" height="6.3"/>
<rect class="q" x="151.77" y="317.15" width="4.82" height="6.3"/>
<rect class="q" x="157.69" y="317.15" width="4.91" height="6.3"/>
<rect class="q" x="163.7" y="317.15" width="4.37" height="6.3"/>
<rect class="q" x="169.17" y="317.15" width="5.68" height="6.3"/>
<rect class="q" x="175.95" y="317.15" width="6.19" height="6.3"/>
<rect class="q" x="183.24" y="317.15" width="6.38" height="6.3"/>
<rect class="q" x="190.73" y="317.15" width="4.44" height="6.3"/>
<rect class="q" x="196.27" y="317.15" width="4.72" height="6.3"/>
<rect class="q" x="202.09" y="317.15" width="5.67" height="6.3"/>
<rect class="q" x="208.86" y="317.15" width="4.34" height="6.3"/>
<rect class="q" x="214.3" y="317.15" width="8.15" height="6.3"/>
<rect class="q" x="242.15" y="317.15" width="4.71" height="6.3"/>
<rect class="q" x="247.96" y="317.15" width="6.44" height="6.3"/>
<rect class="q" x="255.5" y="317.15" width="7.75" height="6.3"/>
<rect class="q" x="279.55" y="317.15" width="4.44" height="6.3"/>
<rect class="q" x="285.09" y="317.15" width="4.57" height="6.3"/>
<rect class="q" x="290.77" y="317.15" width="6.12" height="6.3"/>
<rect class="q" x="297.98" y="317.15" width="5.07" height="6.3"/>
<rect class="q" x="304.15" y="317.15" width="4.84" height="6.3"/>
<rect class="q" x="310.09" y="317.15" width="4.72" height="6.3"/>
<rect class="q" x="315.91" y="317.15" width="5.74" height="6.3"/>
<rect class="q" x="334.55" y="317.15" width="4.65" height="6.3"/>
<rect class="q" x="340.3" y="317.15" width="7.15" height="6.3"/>
<rect class="q" x="374.85" y="317.15" width="6.41" height="6.3"/>
<rect class="q" x="382.36" y="317.15" width="4.76" height="6.3"/>
<rect class="q" x="388.22" y="317.15" width="2.53" height="6.3"/>
<rect class="q" x="402.55" y="317.15" width="4.87" height="6.3"/>
<rect class="q" x="408.52" y="317.15" width="6.28" height="6.3"/>
<rect class="q" x="415.9" y="317.15" width="5.59" height="6.3"/>
<rect class="q" x="422.6" y="317.15" width="5.65" height="6.3"/>
<rect class="q" x="439.25" y="317.15" width="4.89" height="6.3"/>
<rect class="q" x="445.24" y="317.15" width="6" height="6.3"/>
<rect class="q" x="452.34" y="317.15" width="5.15" height="6.3"/>
<rect class="q" x="458.59" y="317.15" width="5.75" height="6.3"/>
<rect class="q" x="465.44" y="317.15" width="5.55" height="6.3"/>
<rect class="q" x="472.08" y="317.15" width="4.98" height="6.3"/>
<rect class="q" x="478.17" y="317.15" width="5.16" height="6.3"/>
<rect class="q" x="484.43" y="317.15" width="4.49" height="6.3"/>
<rect class="q" x="490.02" y="317.15" width="4.69" height="6.3"/>
<rect class="q" x="495.81" y="317.15" width="6.17" height="6.3"/>
<rect class="q" x="503.08" y="317.15" width="5.01" height="6.3"/>
<rect class="q" x="509.18" y="317.15" width="5.76" height="6.3"/>
<rect class="q" x="516.04" y="317.15" width="4.54" height="6.3"/>
<rect class="q" x="521.68" y="317.15" width="5.54" height="6.3"/>
<rect class="q" x="528.32" y="317.15" width="5.1" height="6.3"/>
<rect class="q" x="534.51" y="317.15" width="5.4" height="6.3"/>
<rect class="q" x="541.01" y="317.15" width="5.94" height="6.3"/>
<rect class="q" x="146.55" y="325.55" width="5.54" height="6.3"/>
<rect class="q" x="153.19" y="325.55" width="4.8" height="6.3"/>
<rect class="q" x="159.09" y="325.55" width="5.4" height="6.3"/>
<rect class="q" x="165.59" y="325.55" width="5.45" height="6.3"/>
<rect class="q" x="172.13" y="325.55" width="6.34" height="6.3"/>
<rect class="q" x="179.57" y="325.55" width="5.77" height="6.3"/>
<rect class="q" x="186.44" y="325.55" width="5.57" height="6.3"/>
<rect class="q" x="193.11" y="325.55" width="6.36" height="6.3"/>
<rect class="q" x="200.57" y="325.55" width="4.55" height="6.3"/>
<rect class="q" x="206.21" y="325.55" width="5.98" height="6.3"/>
<rect class="q" x="213.3" y="325.55" width="9.15" height="6.3"/>
<rect class="q" x="242.15" y="325.55" width="5.46" height="6.3"/>
<rect class="q" x="248.71" y="325.55" width="5.07" height="6.3"/>
<rect class="q" x="254.88" y="325.55" width="8.37" height="6.3"/>
<rect class="q" x="279.55" y="325.55" width="5.81" height="6.3"/>
<rect class="q" x="286.46" y="325.55" width="6.15" height="6.3"/>
<rect class="q" x="293.71" y="325.55" width="5.68" height="6.3"/>
<rect class="q" x="300.49" y="325.55" width="5.42" height="6.3"/>
<rect class="q" x="307.01" y="325.55" width="5.79" height="6.3"/>
<rect class="q" x="313.89" y="325.55" width="7.76" height="6.3"/>
<rect class="q" x="333.25" y="325.55" width="5.5" height="6.3"/>
<rect class="q" x="339.85" y="325.55" width="7.6" height="6.3"/>
<rect class="q" x="374.85" y="325.55" width="4.85" height="6.3"/>
<rect class="q" x="380.8" y="325.55" width="4.43" height="6.3"/>
<rect class="q" x="386.33" y="325.55" width="4.42" height="6.3"/>
<rect class="q" x="402.55" y="325.55" width="5.77" height="6.3"/>
<rect class="q" x="409.42" y="325.55" width="4.82" height="6.3"/>
<rect class="q" x="415.35" y="325.55" width="4.83" height="6.3"/>
<rect class="q" x="421.28" y="325.55" width="6.97" height="6.3"/>
<rect class="q" x="439.25" y="325.55" width="4.61" height="6.3"/>
<rect class="q" x="444.96" y="325.55" width="5.54" height="6.3"/>
<rect class="q" x="451.6" y="325.55" width="5.03" height="6.3"/>
<rect class="q" x="457.74" y="325.55" width="6.09" height="6.3"/>
<rect class="q" x="464.93" y="325.55" width="5.51" height="6.3"/>
<rect class="q" x="471.54" y="325.55" width="5.97" height="6.3"/>
<rect class="q" x="478.61" y="325.55" width="4.67" height="6.3"/>
<rect class="q" x="484.38" y="325.55" width="5.77" height="6.3"/>
<rect class="q" x="491.25" y="325.55" width="5.62" height="6.3"/>
<rect class="q" x="497.96" y="325.55" width="5.31" height="6.3"/>
<rect class="q" x="504.38" y="325.55" width="5.99" height="6.3"/>
<rect class="q" x="511.46" y="325.55" width="6.13" height="6.3"/>
<rect class="q" x="518.69" y="325.55" width="4.55" height="6.3"/>
<rect class="q" x="524.34" y="325.55" width="4.94" height="6.3"/>
<rect class="q" x="530.38" y="325.55" width="5.09" height="6.3"/>
<rect class="q" x="536.57" y="325.55" width="4.75" height="6.3"/>
<rect class="q" x="542.43" y="325.55" width="4.52" height="6.3"/>
<rect class="q" x="147.05" y="333.95" width="4.52" height="6.3"/>
<rect class="q" x="152.67" y="333.95" width="5.88" height="6.3"/>
<rect class="q" x="159.66" y="333.95" width="4.98" height="6.3"/>
<rect class="q" x="165.74" y="333.95" width="5.66" height="6.3"/>
<rect class="q" x="172.5" y="333.95" width="5.13" height="6.3"/>
<rect class="q" x="178.73" y="333.95" width="5.72" height="6.3"/>
<rect class="q" x="185.55" y="333.95" width="5.08" height="6.3"/>
<rect class="q" x="191.74" y="333.95" width="4.81" height="6.3"/>
<rect class="q" x="197.64" y="333.95" width="4.6" height="6.3"/>
<rect class="q" x="203.34" y="333.95" width="6.32" height="6.3"/>
<rect class="q" x="210.77" y="333.95" width="6.14" height="6.3"/>
<rect class="q" x="218.01" y="333.95" width="4.44" height="6.3"/>
<rect class="q" x="242.15" y="333.95" width="4.78" height="6.3"/>
<rect class="q" x="248.03" y="333.95" width="5.12" height="6.3"/>
<rect class="q" x="254.25" y="333.95" width="4.37" height="6.3"/>
<rect class="q" x="259.72" y="333.95" width="3.53" height="6.3"/>
<rect class="q" x="279.55" y="333.95" width="6.26" height="6.3"/>
<rect class="q" x="286.91" y="333.95" width="4.44" height="6.3"/>
<rect class="q" x="292.45" y="333.95" width="4.32" height="6.3"/>
<rect class="q" x="297.87" y="333.95" width="6.4" height="6.3"/>
<rect class="q" x="305.37" y="333.95" width="4.69" height="6.3"/>
<rect class="q" x="311.16" y="333.95" width="5.89" height="6.3"/>
<rect class="q" x="318.15" y="333.95" width="3.5" height="6.3"/>
<rect class="q" x="333.25" y="333.95" width="5.68" height="6.3"/>
<rect class="q" x="340.03" y="333.95" width="7.42" height="6.3"/>
<rect class="q" x="374.85" y="333.95" width="4.48" height="6.3"/>
<rect class="q" x="380.43" y="333.95" width="6.08" height="6.3"/>
<rect class="q" x="387.61" y="333.95" width="3.14" height="6.3"/>
<rect class="q" x="402.55" y="333.95" width="5.23" height="6.3"/>
<rect class="q" x="408.88" y="333.95" width="5.11" height="6.3"/>
<rect class="q" x="415.09" y="333.95" width="5.74" height="6.3"/>
<rect class="q" x="421.93" y="333.95" width="6.32" height="6.3"/>
<rect class="q" x="439.25" y="333.95" width="5.93" height="6.3"/>
<rect class="q" x="446.28" y="333.95" width="5.82" height="6.3"/>
<rect class="q" x="453.2" y="333.95" width="4.62" height="6.3"/>
<rect class="q" x="458.92" y="333.95" width="5.57" height="6.3"/>
<rect class="q" x="465.6" y="333.95" width="5.52" height="6.3"/>
<rect class="q" x="472.22" y="333.95" width="6.37" height="6.3"/>
<rect class="q" x="479.69" y="333.95" width="5.09" height="6.3"/>
<rect class="q" x="485.88" y="333.95" width="4.83" height="6.3"/>
<rect class="q" x="491.81" y="333.95" width="5.27" height="6.3"/>
<rect class="q" x="498.18" y="333.95" width="4.87" height="6.3"/>
<rect class="q" x="504.16" y="333.95" width="4.8" height="6.3"/>
<rect class="q" x="510.06" y="333.95" width="6.43" height="6.3"/>
<rect class="q" x="517.59" y="333.95" width="4.75" height="6.3"/>
<rect class="q" x="523.43" y="333.95" width="5.95" height="6.3"/>
<rect class="q" x="530.48" y="333.95" width="4.79" height="6.3"/>
<rect class="q" x="536.37" y="333.95" width="6.14" height="6.3"/>
<rect class="q" x="543.61" y="333.95" width="3.34" height="6.3"/>
<rect class="q" x="147.05" y="342.35" width="4.72" height="6.3"/>
<rect class="q" x="152.87" y="342.35" width="5.35" height="6.3"/>
<rect class="q" x="159.32" y="342.35" width="4.5" height="6.3"/>
<rect class="q" x="164.92" y="342.35" width="5.12" height="6.3"/>
<rect class="q" x="171.14" y="342.35" width="5.66" height="6.3"/>
<rect class="q" x="177.9" y="342.35" width="5.19" height="6.3"/>
<rect class="q" x="184.19" y="342.35" width="4.4" height="6.3"/>
<rect class="q" x="189.7" y="342.35" width="4.39" height="6.3"/>
<rect class="q" x="195.19" y="342.35" width="5.84" height="6.3"/>
<rect class="q" x="202.13" y="342.35" width="6.4" height="6.3"/>
<rect class="q" x="209.64" y="342.35" width="5.31" height="6.3"/>
<rect class="q" x="216.05" y="342.35" width="6.4" height="6.3"/>
<rect class="q" x="242.15" y="342.35" width="4.86" height="6.3"/>
<rect class="q" x="248.11" y="342.35" width="4.72" height="6.3"/>
<rect class="q" x="253.94" y="342.35" width="5.28" height="6.3"/>
<rect class="q" x="260.32" y="342.35" width="6.14" height="6.3"/>
<rect class="q" x="267.56" y="342.35" width="2.59" height="6.3"/>
<rect class="q" x="275.45" y="342.35" width="5.59" height="6.3"/>
<rect class="q" x="282.14" y="342.35" width="4.85" height="6.3"/>
<rect class="q" x="288.09" y="342.35" width="6.49" height="6.3"/>
<rect class="q" x="295.69" y="342.35" width="5.98" height="6.3"/>
<rect class="q" x="302.76" y="342.35" width="4.89" height="6.3"/>
<rect class="q" x="308.76" y="342.35" width="5.28" height="6.3"/>
<rect class="q" x="315.13" y="342.35" width="6.52" height="6.3"/>
<rect class="q" x="333.25" y="342.35" width="6.43" height="6.3"/>
<rect class="q" x="340.78" y="342.35" width="6.67" height="6.3"/>
<rect class="q" x="374.85" y="342.35" width="5.02" height="6.3"/>
<rect class="q" x="380.97" y="342.35" width="4.78" height="6.3"/>
<rect class="q" x="386.85" y="342.35" width="3.9" height="6.3"/>
<rect class="q" x="402.55" y="342.35" width="5.57" height="6.3"/>
<rect class="q" x="409.22" y="342.35" width="5.15" height="6.3"/>
<rect class="q" x="415.47" y="342.35" width="5.08" height="6.3"/>
<rect class="q" x="421.65" y="342.35" width="6.6" height="6.3"/>
<rect class="q" x="439.25" y="342.35" width="5.4" height="6.3"/>
<rect class="q" x="445.75" y="342.35" width="4.88" height="6.3"/>
<rect class="q" x="451.73" y="342.35" width="5.55" height="6.3"/>
<rect class="q" x="458.38" y="342.35" width="5.46" height="6.3"/>
<rect class="q" x="464.94" y="342.35" width="6.41" height="6.3"/>
<rect class="q" x="472.45" y="342.35" width="6.48" height="6.3"/>
<rect class="q" x="480.03" y="342.35" width="4.38" height="6.3"/>
<rect class="q" x="485.5" y="342.35" width="5.53" height="6.3"/>
<rect class="q" x="492.14" y="342.35" width="6" height="6.3"/>
<rect class="q" x="499.23" y="342.35" width="6.22" height="6.3"/>
<rect class="q" x="506.55" y="342.35" width="6" height="6.3"/>
<rect class="q" x="513.66" y="342.35" width="5.69" height="6.3"/>
<rect class="q" x="520.45" y="342.35" width="5.7" height="6.3"/>
<rect class="q" x="527.24" y="342.35" width="5.1" height="6.3"/>
<rect class="q" x="533.44" y="342.35" width="4.92" height="6.3"/>
<rect class="q" x="539.46" y="342.35" width="7.49" height="6.3"/>
<rect class="q" x="558.95" y="342.35" width="4.45" height="6.3"/>
<rect class="q" x="564.5" y="342.35" width="4.96" height="6.3"/>
<rect class="q" x="570.56" y="342.35" width="2.99" height="6.3"/>
<rect class="q" x="576.55" y="342.35" width="5.05" height="6.3"/>
<rect class="q" x="582.7" y="342.35" width="5.55" height="6.3"/>
<rect class="q" x="591.75" y="342.35" width="6.47" height="6.3"/>
<rect class="q" x="599.32" y="342.35" width="5.09" height="6.3"/>
<rect class="q" x="605.51" y="342.35" width="6" height="6.3"/>
<rect class="q" x="612.61" y="342.35" width="5.24" height="6.3"/>
<rect class="q" x="618.95" y="342.35" width="9" height="6.3"/>
<rect class="q" x="630.85" y="342.35" width="6.2" height="6.3"/>
<rect class="q" x="638.15" y="342.35" width="5.73" height="6.3"/>
<rect class="q" x="644.98" y="342.35" width="7.77" height="6.3"/>
<rect class="q" x="147.05" y="350.75" width="4.47" height="6.3"/>
<rect class="q" x="152.62" y="350.75" width="6.08" height="6.3"/>
<rect class="q" x="159.81" y="350.75" width="6.23" height="6.3"/>
<rect class="q" x="167.13" y="350.75" width="5.05" height="6.3"/>
<rect class="q" x="173.28" y="350.75" width="4.6" height="6.3"/>
<rect class="q" x="178.98" y="350.75" width="4.71" height="6.3"/>
<rect class="q" x="184.8" y="350.75" width="5.48" height="6.3"/>
<rect class="q" x="191.38" y="350.75" width="6.23" height="6.3"/>
<rect class="q" x="198.7" y="350.75" width="5.71" height="6.3"/>
<rect class="q" x="205.51" y="350.75" width="6.33" height="6.3"/>
<rect class="q" x="212.94" y="350.75" width="4.77" height="6.3"/>
<rect class="q" x="218.81" y="350.75" width="3.64" height="6.3"/>
<rect class="q" x="242.15" y="350.75" width="5.65" height="6.3"/>
<rect class="q" x="248.9" y="350.75" width="5.89" height="6.3"/>
<rect class="q" x="255.89" y="350.75" width="7.36" height="6.3"/>
<rect class="q" x="279.55" y="350.75" width="5.49" height="6.3"/>
<rect class="q" x="286.14" y="350.75" width="5.59" height="6.3"/>
<rect class="q" x="292.83" y="350.75" width="5.52" height="6.3"/>
<rect class="q" x="299.45" y="350.75" width="5.75" height="6.3"/>
<rect class="q" x="306.3" y="350.75" width="5.62" height="6.3"/>
<rect class="q" x="313.02" y="350.75" width="5.03" height="6.3"/>
<rect class="q" x="319.15" y="350.75" width="2.5" height="6.3"/>
<rect class="q" x="334.55" y="350.75" width="5.3" height="6.3"/>
<rect class="q" x="340.95" y="350.75" width="6.5" height="6.3"/>
<rect class="q" x="374.85" y="350.75" width="4.59" height="6.3"/>
<rect class="q" x="380.54" y="350.75" width="4.32" height="6.3"/>
<rect class="q" x="385.96" y="350.75" width="4.79" height="6.3"/>
<rect class="q" x="402.55" y="350.75" width="6.48" height="6.3"/>
<rect class="q" x="410.13" y="350.75" width="4.8" height="6.3"/>
<rect class="q" x="416.03" y="350.75" width="5.96" height="6.3"/>
<rect class="q" x="423.09" y="350.75" width="5.16" height="6.3"/>
<rect class="q" x="439.25" y="350.75" width="6.22" height="6.3"/>
<rect class="q" x="446.57" y="350.75" width="6.18" height="6.3"/>
<rect class="q" x="453.85" y="350.75" width="6.01" height="6.3"/>
<rect class="q" x="460.96" y="350.75" width="5.46" height="6.3"/>
<rect class="q" x="467.53" y="350.75" width="5.07" height="6.3"/>
<rect class="q" x="473.7" y="350.75" width="5.86" height="6.3"/>
<rect class="q" x="480.66" y="350.75" width="5.27" height="6.3"/>
<rect class="q" x="487.03" y="350.75" width="6.19" height="6.3"/>
<rect class="q" x="494.32" y="350.75" width="4.77" height="6.3"/>
<rect class="q" x="500.19" y="350.75" width="6.31" height="6.3"/>
<rect class="q" x="507.6" y="350.75" width="6.28" height="6.3"/>
<rect class="q" x="514.98" y="350.75" width="5.16" height="6.3"/>
<rect class="q" x="521.24" y="350.75" width="4.77" height="6.3"/>
<rect class="q" x="527.1" y="350.75" width="6.04" height="6.3"/>
<rect class="q" x="534.24" y="350.75" width="4.36" height="6.3"/>
<rect class="q" x="539.7" y="350.75" width="7.25" height="6.3"/>
<rect class="q" x="558.95" y="350.75" width="7.2" height="6.3"/>
<rect class="q" x="576.55" y="350.75" width="6.24" height="6.3"/>
<rect class="q" x="583.89" y="350.75" width="4.76" height="6.3"/>
<rect class="q" x="589.75" y="350.75" width="6.24" height="6.3"/>
<rect class="q" x="597.1" y="350.75" width="3.15" height="6.3"/>
<rect class="q" x="601.35" y="350.75" width="6.44" height="6.3"/>
<rect class="q" x="608.89" y="350.75" width="6.16" height="6.3"/>
<rect class="q" x="617.05" y="350.75" width="4.67" height="6.3"/>
<rect class="q" x="622.82" y="350.75" width="7.83" height="6.3"/>
<rect class="q" x="635.55" y="350.75" width="6.24" height="6.3"/>
<rect class="q" x="642.89" y="350.75" width="5.26" height="6.3"/>
<rect class="q" x="652.05" y="350.75" width="2.6" height="6.3"/>
<rect class="q" x="147.05" y="359.15" width="4.81" height="6.3"/>
<rect class="q" x="152.96" y="359.15" width="5.25" height="6.3"/>
<rect class="q" x="159.31" y="359.15" width="4.53" height="6.3"/>
<rect class="q" x="164.94" y="359.15" width="4.34" height="6.3"/>
<rect class="q" x="170.38" y="359.15" width="6.48" height="6.3"/>
<rect class="q" x="177.96" y="359.15" width="5" height="6.3"/>
<rect class="q" x="184.06" y="359.15" width="6.23" height="6.3"/>
<rect class="q" x="191.39" y="359.15" width="4.57" height="6.3"/>
<rect class="q" x="197.06" y="359.15" width="5.37" height="6.3"/>
<rect class="q" x="203.53" y="359.15" width="4.6" height="6.3"/>
<rect class="q" x="209.23" y="359.15" width="5.24" height="6.3"/>
<rect class="q" x="215.57" y="359.15" width="6.88" height="6.3"/>
<rect class="q" x="242.15" y="359.15" width="6.49" height="6.3"/>
<rect class="q" x="249.74" y="359.15" width="5.94" height="6.3"/>
<rect class="q" x="256.77" y="359.15" width="6.48" height="6.3"/>
<rect class="q" x="279.55" y="359.15" width="4.63" height="6.3"/>
<rect class="q" x="285.28" y="359.15" width="5.97" height="6.3"/>
<rect class="q" x="292.36" y="359.15" width="6.24" height="6.3"/>
<rect class="q" x="299.7" y="359.15" width="6.07" height="6.3"/>
<rect class="q" x="306.86" y="359.15" width="6.28" height="6.3"/>
<rect class="q" x="314.24" y="359.15" width="7.41" height="6.3"/>
<rect class="q" x="333.25" y="359.15" width="5.88" height="6.3"/>
<rect class="q" x="340.23" y="359.15" width="7.22" height="6.3"/>
<rect class="q" x="374.85" y="359.15" width="5.27" height="6.3"/>
<rect class="q" x="381.22" y="359.15" width="5.77" height="6.3"/>
<rect class="q" x="388.09" y="359.15" width="2.66" height="6.3"/>
<rect class="q" x="402.55" y="359.15" width="5.34" height="6.3"/>
<rect class="q" x="408.99" y="359.15" width="5.05" height="6.3"/>
<rect class="q" x="415.14" y="359.15" width="5.5" height="6.3"/>
<rect class="q" x="421.74" y="359.15" width="6.51" height="6.3"/>
<rect class="q" x="439.25" y="359.15" width="6.45" height="6.3"/>
<rect class="q" x="446.8" y="359.15" width="4.89" height="6.3"/>
<rect class="q" x="452.78" y="359.15" width="5.75" height="6.3"/>
<rect class="q" x="459.63" y="359.15" width="6.12" height="6.3"/>
<rect class="q" x="466.85" y="359.15" width="4.46" height="6.3"/>
<rect class="q" x="472.41" y="359.15" width="6.05" height="6.3"/>
<rect class="q" x="479.56" y="359.15" width="5.76" height="6.3"/>
<rect class="q" x="486.43" y="359.15" width="6.33" height="6.3"/>
<rect class="q" x="493.86" y="359.15" width="5.98" height="6.3"/>
<rect class="q" x="500.94" y="359.15" width="4.88" height="6.3"/>
<rect class="q" x="506.92" y="359.15" width="6.15" height="6.3"/>
<rect class="q" x="514.17" y="359.15" width="6.19" height="6.3"/>
<rect class="q" x="521.46" y="359.15" width="5.07" height="6.3"/>
<rect class="q" x="527.62" y="359.15" width="5.6" height="6.3"/>
<rect class="q" x="534.32" y="359.15" width="5.56" height="6.3"/>
<rect class="q" x="540.97" y="359.15" width="5.98" height="6.3"/>
<rect class="q" x="558.95" y="359.15" width="7.2" height="6.3"/>
<rect class="q" x="577.45" y="359.15" width="5.67" height="6.3"/>
<rect class="q" x="584.22" y="359.15" width="5.45" height="6.3"/>
<rect class="q" x="590.77" y="359.15" width="9.48" height="6.3"/>
<rect class="q" x="602.25" y="359.15" width="6.32" height="6.3"/>
<rect class="q" x="609.67" y="359.15" width="4.86" height="6.3"/>
<rect class="q" x="615.63" y="359.15" width="4.88" height="6.3"/>
<rect class="q" x="621.61" y="359.15" width="5.26" height="6.3"/>
<rect class="q" x="627.98" y="359.15" width="4.47" height="6.3"/>
<rect class="q" x="635.55" y="359.15" width="4.39" height="6.3"/>
<rect class="q" x="641.04" y="359.15" width="9.01" height="6.3"/>
<rect class="q" x="147.75" y="367.55" width="5.64" height="6.3"/>
<rect class="q" x="154.49" y="367.55" width="4.86" height="6.3"/>
<rect class="q" x="160.45" y="367.55" width="4.82" height="6.3"/>
<rect class="q" x="166.38" y="367.55" width="6.17" height="6.3"/>
<rect class="q" x="173.65" y="367.55" width="4.58" height="6.3"/>
<rect class="q" x="179.33" y="367.55" width="5.66" height="6.3"/>
<rect class="q" x="186.09" y="367.55" width="6.45" height="6.3"/>
<rect class="q" x="193.64" y="367.55" width="6.17" height="6.3"/>
<rect class="q" x="200.92" y="367.55" width="5.58" height="6.3"/>
<rect class="q" x="207.59" y="367.55" width="4.44" height="6.3"/>
<rect class="q" x="213.13" y="367.55" width="4.75" height="6.3"/>
<rect class="q" x="218.98" y="367.55" width="3.47" height="6.3"/>
<rect class="q" x="242.15" y="367.55" width="5.15" height="6.3"/>
<rect class="q" x="248.4" y="367.55" width="5.31" height="6.3"/>
<rect class="q" x="254.81" y="367.55" width="4.5" height="6.3"/>
<rect class="q" x="260.41" y="367.55" width="2.84" height="6.3"/>
<rect class="q" x="279.55" y="367.55" width="5.51" height="6.3"/>
<rect class="q" x="286.16" y="367.55" width="5.95" height="6.3"/>
<rect class="q" x="293.21" y="367.55" width="6.16" height="6.3"/>
<rect class="q" x="300.46" y="367.55" width="4.61" height="6.3"/>
<rect class="q" x="306.17" y="367.55" width="5.2" height="6.3"/>
<rect class="q" x="312.47" y="367.55" width="4.41" height="6.3"/>
<rect class="q" x="317.98" y="367.55" width="3.67" height="6.3"/>
<rect class="q" x="333.25" y="367.55" width="5.52" height="6.3"/>
<rect class="q" x="339.87" y="367.55" width="7.58" height="6.3"/>
<rect class="q" x="374.85" y="367.55" width="6.06" height="6.3"/>
<rect class="q" x="382.01" y="367.55" width="8.74" height="6.3"/>
<rect class="q" x="402.55" y="367.55" width="5.12" height="6.3"/>
<rect class="q" x="408.77" y="367.55" width="5.32" height="6.3"/>
<rect class="q" x="415.19" y="367.55" width="5.38" height="6.3"/>
<rect class="q" x="421.67" y="367.55" width="6.58" height="6.3"/>
<rect class="q" x="439.25" y="367.55" width="4.45" height="6.3"/>
<rect class="q" x="444.8" y="367.55" width="6.39" height="6.3"/>
<rect class="q" x="452.29" y="367.55" width="6.11" height="6.3"/>
<rect class="q" x="459.5" y="367.55" width="4.38" height="6.3"/>
<rect class="q" x="464.98" y="367.55" width="4.78" height="6.3"/>
<rect class="q" x="470.86" y="367.55" width="5.27" height="6.3"/>
<rect class="q" x="477.23" y="367.55" width="4.74" height="6.3"/>
<rect class="q" x="483.07" y="367.55" width="4.76" height="6.3"/>
<rect class="q" x="488.93" y="367.55" width="6.44" height="6.3"/>
<rect class="q" x="496.47" y="367.55" width="5.64" height="6.3"/>
<rect class="q" x="503.22" y="367.55" width="5.19" height="6.3"/>
<rect class="q" x="509.51" y="367.55" width="5.9" height="6.3"/>
<rect class="q" x="516.51" y="367.55" width="4.75" height="6.3"/>
<rect class="q" x="522.36" y="367.55" width="4.75" height="6.3"/>
<rect class="q" x="528.21" y="367.55" width="4.7" height="6.3"/>
<rect class="q" x="534" y="367.55" width="6.19" height="6.3"/>
<rect class="q" x="541.29" y="367.55" width="5.66" height="6.3"/>
<rect class="q" x="561.75" y="367.55" width="7.2" height="6.3"/>
<rect class="q" x="580.75" y="367.55" width="7.5" height="6.3"/>
<rect class="q" x="593.05" y="367.55" width="6.3" height="6.3"/>
<rect class="q" x="602.25" y="367.55" width="5.71" height="6.3"/>
<rect class="q" x="609.06" y="367.55" width="4.79" height="6.3"/>
<rect class="q" x="614.95" y="367.55" width="5.5" height="6.3"/>
<rect class="q" x="621.55" y="367.55" width="4.51" height="6.3"/>
<rect class="q" x="627.16" y="367.55" width="5.29" height="6.3"/>
<rect class="q" x="635.55" y="367.55" width="7.1" height="6.3"/>
<rect class="q" x="648.35" y="367.55" width="6.3" height="6.3"/>
<rect class="q" x="147.75" y="375.95" width="5.39" height="6.3"/>
<rect class="q" x="154.24" y="375.95" width="6.35" height="6.3"/>
<rect class="q" x="161.69" y="375.95" width="4.5" height="6.3"/>
<rect class="q" x="167.29" y="375.95" width="5.37" height="6.3"/>
<rect class="q" x="173.76" y="375.95" width="6.2" height="6.3"/>
<rect class="q" x="181.06" y="375.95" width="5.62" height="6.3"/>
<rect class="q" x="187.77" y="375.95" width="5.49" height="6.3"/>
<rect class="q" x="194.36" y="375.95" width="4.49" height="6.3"/>
<rect class="q" x="199.96" y="375.95" width="4.61" height="6.3"/>
<rect class="q" x="205.67" y="375.95" width="4.9" height="6.3"/>
<rect class="q" x="211.66" y="375.95" width="6.26" height="6.3"/>
<rect class="q" x="219.03" y="375.95" width="3.42" height="6.3"/>
<rect class="q" x="242.15" y="375.95" width="5.21" height="6.3"/>
<rect class="q" x="248.46" y="375.95" width="5.83" height="6.3"/>
<rect class="q" x="255.39" y="375.95" width="7.86" height="6.3"/>
<rect class="q" x="266.75" y="375.95" width="6.7" height="6.3"/>
<rect class="q" x="279.55" y="375.95" width="6.14" height="6.3"/>
<rect class="q" x="286.79" y="375.95" width="4.97" height="6.3"/>
<rect class="q" x="292.86" y="375.95" width="4.87" height="6.3"/>
<rect class="q" x="298.83" y="375.95" width="4.53" height="6.3"/>
<rect class="q" x="304.47" y="375.95" width="4.83" height="6.3"/>
<rect class="q" x="310.39" y="375.95" width="4.64" height="6.3"/>
<rect class="q" x="316.13" y="375.95" width="5.52" height="6.3"/>
<rect class="q" x="333.25" y="375.95" width="6.47" height="6.3"/>
<rect class="q" x="340.82" y="375.95" width="6.63" height="6.3"/>
<rect class="q" x="374.85" y="375.95" width="4.83" height="6.3"/>
<rect class="q" x="380.78" y="375.95" width="4.51" height="6.3"/>
<rect class="q" x="386.39" y="375.95" width="4.36" height="6.3"/>
<rect class="q" x="402.55" y="375.95" width="5.23" height="6.3"/>
<rect class="q" x="408.88" y="375.95" width="5.67" height="6.3"/>
<rect class="q" x="415.66" y="375.95" width="4.54" height="6.3"/>
<rect class="q" x="421.3" y="375.95" width="6.95" height="6.3"/>
<rect class="q" x="439.25" y="375.95" width="4.46" height="6.3"/>
<rect class="q" x="444.81" y="375.95" width="5.04" height="6.3"/>
<rect class="q" x="450.95" y="375.95" width="4.52" height="6.3"/>
<rect class="q" x="456.57" y="375.95" width="4.77" height="6.3"/>
<rect class="q" x="462.44" y="375.95" width="6" height="6.3"/>
<rect class="q" x="469.54" y="375.95" width="4.68" height="6.3"/>
<rect class="q" x="475.33" y="375.95" width="4.97" height="6.3"/>
<rect class="q" x="481.39" y="375.95" width="4.48" height="6.3"/>
<rect class="q" x="486.98" y="375.95" width="5.97" height="6.3"/>
<rect class="q" x="494.05" y="375.95" width="5.6" height="6.3"/>
<rect class="q" x="500.75" y="375.95" width="4.7" height="6.3"/>
<rect class="q" x="506.55" y="375.95" width="5" height="6.3"/>
<rect class="q" x="512.65" y="375.95" width="6.35" height="6.3"/>
<rect class="q" x="520.1" y="375.95" width="6.03" height="6.3"/>
<rect class="q" x="527.23" y="375.95" width="4.37" height="6.3"/>
<rect class="q" x="532.7" y="375.95" width="6.03" height="6.3"/>
<rect class="q" x="539.84" y="375.95" width="7.11" height="6.3"/>
<rect class="q" x="147.75" y="384.35" width="4.87" height="6.3"/>
<rect class="q" x="153.72" y="384.35" width="5.83" height="6.3"/>
<rect class="q" x="160.65" y="384.35" width="4.97" height="6.3"/>
<rect class="q" x="166.71" y="384.35" width="4.42" height="6.3"/>
<rect class="q" x="172.23" y="384.35" width="5.33" height="6.3"/>
<rect class="q" x="178.65" y="384.35" width="6.03" height="6.3"/>
<rect class="q" x="185.79" y="384.35" width="5.8" height="6.3"/>
<rect class="q" x="192.69" y="384.35" width="4.66" height="6.3"/>
<rect class="q" x="198.45" y="384.35" width="5.15" height="6.3"/>
<rect class="q" x="204.7" y="384.35" width="5.71" height="6.3"/>
<rect class="q" x="211.5" y="384.35" width="6.36" height="6.3"/>
<rect class="q" x="218.97" y="384.35" width="3.48" height="6.3"/>
<rect class="q" x="242.15" y="384.35" width="5.68" height="6.3"/>
<rect class="q" x="248.93" y="384.35" width="6" height="6.3"/>
<rect class="q" x="256.03" y="384.35" width="7.22" height="6.3"/>
<rect class="q" x="266.75" y="384.35" width="6.7" height="6.3"/>
<rect class="q" x="279.55" y="384.35" width="5.24" height="6.3"/>
<rect class="q" x="285.89" y="384.35" width="4.97" height="6.3"/>
<rect class="q" x="291.96" y="384.35" width="4.96" height="6.3"/>
<rect class="q" x="298.02" y="384.35" width="5.63" height="6.3"/>
<rect class="q" x="304.75" y="384.35" width="6.39" height="6.3"/>
<rect class="q" x="312.24" y="384.35" width="9.41" height="6.3"/>
<rect class="q" x="333.25" y="384.35" width="4.37" height="6.3"/>
<rect class="q" x="338.72" y="384.35" width="5.04" height="6.3"/>
<rect class="q" x="344.86" y="384.35" width="2.59" height="6.3"/>
<rect class="q" x="374.85" y="384.35" width="6.11" height="6.3"/>
<rect class="q" x="382.06" y="384.35" width="4.71" height="6.3"/>
<rect class="q" x="387.87" y="384.35" width="2.88" height="6.3"/>
<rect class="q" x="402.55" y="384.35" width="6.41" height="6.3"/>
<rect class="q" x="410.06" y="384.35" width="4.98" height="6.3"/>
<rect class="q" x="416.14" y="384.35" width="5" height="6.3"/>
<rect class="q" x="422.24" y="384.35" width="6.01" height="6.3"/>
<rect class="q" x="439.25" y="384.35" width="6.18" height="6.3"/>
<rect class="q" x="446.53" y="384.35" width="4.53" height="6.3"/>
<rect class="q" x="452.16" y="384.35" width="4.84" height="6.3"/>
<rect class="q" x="458.1" y="384.35" width="5.54" height="6.3"/>
<rect class="q" x="464.74" y="384.35" width="5.75" height="6.3"/>
<rect class="q" x="471.59" y="384.35" width="5.92" height="6.3"/>
<rect class="q" x="478.61" y="384.35" width="5.79" height="6.3"/>
<rect class="q" x="485.49" y="384.35" width="6.47" height="6.3"/>
<rect class="q" x="493.06" y="384.35" width="5.92" height="6.3"/>
<rect class="q" x="500.08" y="384.35" width="5.96" height="6.3"/>
<rect class="q" x="507.13" y="384.35" width="5.77" height="6.3"/>
<rect class="q" x="514" y="384.35" width="4.6" height="6.3"/>
<rect class="q" x="519.7" y="384.35" width="5.96" height="6.3"/>
<rect class="q" x="526.75" y="384.35" width="4.86" height="6.3"/>
<rect class="q" x="532.71" y="384.35" width="5.22" height="6.3"/>
<rect class="q" x="539.03" y="384.35" width="7.92" height="6.3"/>
<rect class="q" x="565.95" y="384.35" width="7" height="6.3"/>
<rect class="q" x="580.75" y="384.35" width="7.5" height="6.3"/>
<rect class="q" x="593.05" y="384.35" width="5.51" height="6.3"/>
<rect class="q" x="599.66" y="384.35" width="5.2" height="6.3"/>
<rect class="q" x="605.95" y="384.35" width="4.49" height="6.3"/>
<rect class="q" x="611.54" y="384.35" width="6.39" height="6.3"/>
<rect class="q" x="619.03" y="384.35" width="5.71" height="6.3"/>
<rect class="q" x="625.84" y="384.35" width="7.61" height="6.3"/>
<rect class="q" x="150.55" y="392.75" width="4.41" height="6.3"/>
<rect class="q" x="156.06" y="392.75" width="5.47" height="6.3"/>
<rect class="q" x="162.63" y="392.75" width="6.27" height="6.3"/>
<rect class="q" x="169.99" y="392.75" width="4.74" height="6.3"/>
<rect class="q" x="175.84" y="392.75" width="6.08" height="6.3"/>
<rect class="q" x="183.01" y="392.75" width="4.44" height="6.3"/>
<rect class="q" x="188.55" y="392.75" width="4.98" height="6.3"/>
<rect class="q" x="194.63" y="392.75" width="5.45" height="6.3"/>
<rect class="q" x="201.17" y="392.75" width="5.8" height="6.3"/>
<rect class="q" x="208.07" y="392.75" width="6.3" height="6.3"/>
<rect class="q" x="215.47" y="392.75" width="6.98" height="6.3"/>
<rect class="q" x="242.15" y="392.75" width="4.4" height="6.3"/>
<rect class="q" x="247.65" y="392.75" width="4.91" height="6.3"/>
<rect class="q" x="253.66" y="392.75" width="5.48" height="6.3"/>
<rect class="q" x="260.24" y="392.75" width="3.01" height="6.3"/>
<rect class="q" x="279.55" y="392.75" width="6.08" height="6.3"/>
<rect class="q" x="286.73" y="392.75" width="6.17" height="6.3"/>
<rect class="q" x="294.01" y="392.75" width="4.57" height="6.3"/>
<rect class="q" x="299.67" y="392.75" width="5.29" height="6.3"/>
<rect class="q" x="306.06" y="392.75" width="4.33" height="6.3"/>
<rect class="q" x="311.49" y="392.75" width="5.47" height="6.3"/>
<rect class="q" x="318.06" y="392.75" width="3.59" height="6.3"/>
<rect class="q" x="333.25" y="392.75" width="6.14" height="6.3"/>
<rect class="q" x="340.49" y="392.75" width="6.96" height="6.3"/>
<rect class="q" x="374.85" y="392.75" width="5.82" height="6.3"/>
<rect class="q" x="381.77" y="392.75" width="8.98" height="6.3"/>
<rect class="q" x="402.55" y="392.75" width="5.93" height="6.3"/>
<rect class="q" x="409.58" y="392.75" width="5.05" height="6.3"/>
<rect class="q" x="415.74" y="392.75" width="5.16" height="6.3"/>
<rect class="q" x="422" y="392.75" width="6.25" height="6.3"/>
<rect class="q" x="439.25" y="392.75" width="5.05" height="6.3"/>
<rect class="q" x="445.4" y="392.75" width="4.45" height="6.3"/>
<rect class="q" x="450.94" y="392.75" width="5.21" height="6.3"/>
<rect class="q" x="457.25" y="392.75" width="5.4" height="6.3"/>
<rect class="q" x="463.75" y="392.75" width="6.17" height="6.3"/>
<rect class="q" x="471.03" y="392.75" width="5.77" height="6.3"/>
<rect class="q" x="477.9" y="392.75" width="5.57" height="6.3"/>
<rect class="q" x="484.57" y="392.75" width="5.19" height="6.3"/>
<rect class="q" x="490.86" y="392.75" width="5.56" height="6.3"/>
<rect class="q" x="497.52" y="392.75" width="4.9" height="6.3"/>
<rect class="q" x="503.52" y="392.75" width="6.16" height="6.3"/>
<rect class="q" x="510.78" y="392.75" width="6.03" height="6.3"/>
<rect class="q" x="517.91" y="392.75" width="6.14" height="6.3"/>
<rect class="q" x="525.16" y="392.75" width="4.63" height="6.3"/>
<rect class="q" x="530.89" y="392.75" width="5.78" height="6.3"/>
<rect class="q" x="537.77" y="392.75" width="9.18" height="6.3"/>
<rect class="q" x="565.95" y="392.75" width="7" height="6.3"/>
<rect class="q" x="583.85" y="392.75" width="7.2" height="6.3"/>
<rect class="q" x="593.95" y="392.75" width="7.2" height="6.3"/>
<rect class="q" x="608.75" y="392.75" width="7.2" height="6.3"/>
<rect class="q" x="621.65" y="392.75" width="7.2" height="6.3"/>
<rect class="q" x="151.15" y="401.15" width="5.6" height="6.3"/>
<rect class="q" x="157.85" y="401.15" width="5.61" height="6.3"/>
<rect class="q" x="164.56" y="401.15" width="4.37" height="6.3"/>
<rect class="q" x="170.03" y="401.15" width="5.48" height="6.3"/>
<rect class="q" x="176.61" y="401.15" width="5.33" height="6.3"/>
<rect class="q" x="183.04" y="401.15" width="5.36" height="6.3"/>
<rect class="q" x="189.51" y="401.15" width="4.95" height="6.3"/>
<rect class="q" x="195.55" y="401.15" width="6.36" height="6.3"/>
<rect class="q" x="203.01" y="401.15" width="6.42" height="6.3"/>
<rect class="q" x="210.54" y="401.15" width="5.47" height="6.3"/>
<rect class="q" x="217.1" y="401.15" width="5.35" height="6.3"/>
<rect class="q" x="242.15" y="401.15" width="6.07" height="6.3"/>
<rect class="q" x="249.32" y="401.15" width="6.41" height="6.3"/>
<rect class="q" x="256.83" y="401.15" width="6.42" height="6.3"/>
<rect class="q" x="279.55" y="401.15" width="5.8" height="6.3"/>
<rect class="q" x="286.45" y="401.15" width="5.86" height="6.3"/>
<rect class="q" x="293.41" y="401.15" width="5.3" height="6.3"/>
<rect class="q" x="299.81" y="401.15" width="5.05" height="6.3"/>
<rect class="q" x="305.96" y="401.15" width="4.72" height="6.3"/>
<rect class="q" x="311.78" y="401.15" width="5.19" height="6.3"/>
<rect class="q" x="318.07" y="401.15" width="3.58" height="6.3"/>
<rect class="q" x="333.25" y="401.15" width="6.03" height="6.3"/>
<rect class="q" x="340.38" y="401.15" width="7.07" height="6.3"/>
<rect class="q" x="374.85" y="401.15" width="4.33" height="6.3"/>
<rect class="q" x="380.28" y="401.15" width="5.08" height="6.3"/>
<rect class="q" x="386.46" y="401.15" width="4.29" height="6.3"/>
<rect class="q" x="402.55" y="401.15" width="5.48" height="6.3"/>
<rect class="q" x="409.13" y="401.15" width="5.53" height="6.3"/>
<rect class="q" x="415.76" y="401.15" width="5.68" height="6.3"/>
<rect class="q" x="422.54" y="401.15" width="5.71" height="6.3"/>
<rect class="q" x="439.25" y="401.15" width="6" height="6.3"/>
<rect class="q" x="446.35" y="401.15" width="5.05" height="6.3"/>
<rect class="q" x="452.5" y="401.15" width="6.19" height="6.3"/>
<rect class="q" x="459.79" y="401.15" width="5.1" height="6.3"/>
<rect class="q" x="465.99" y="401.15" width="6.25" height="6.3"/>
<rect class="q" x="473.34" y="401.15" width="5.37" height="6.3"/>
<rect class="q" x="479.81" y="401.15" width="4.48" height="6.3"/>
<rect class="q" x="485.39" y="401.15" width="5.04" height="6.3"/>
<rect class="q" x="491.53" y="401.15" width="5" height="6.3"/>
<rect class="q" x="497.63" y="401.15" width="6.27" height="6.3"/>
<rect class="q" x="505.01" y="401.15" width="6.45" height="6.3"/>
<rect class="q" x="512.55" y="401.15" width="6.17" height="6.3"/>
<rect class="q" x="519.82" y="401.15" width="5.46" height="6.3"/>
<rect class="q" x="526.39" y="401.15" width="4.85" height="6.3"/>
<rect class="q" x="532.34" y="401.15" width="5.16" height="6.3"/>
<rect class="q" x="538.6" y="401.15" width="8.35" height="6.3"/>
<rect class="q" x="151.15" y="409.55" width="5.6" height="6.3"/>
<rect class="q" x="157.85" y="409.55" width="4.58" height="6.3"/>
<rect class="q" x="163.53" y="409.55" width="4.74" height="6.3"/>
<rect class="q" x="169.37" y="409.55" width="5.3" height="6.3"/>
<rect class="q" x="175.77" y="409.55" width="5.59" height="6.3"/>
<rect class="q" x="182.46" y="409.55" width="5.7" height="6.3"/>
<rect class="q" x="189.26" y="409.55" width="5.86" height="6.3"/>
<rect class="q" x="196.22" y="409.55" width="5.27" height="6.3"/>
<rect class="q" x="202.58" y="409.55" width="4.45" height="6.3"/>
<rect class="q" x="208.13" y="409.55" width="5.89" height="6.3"/>
<rect class="q" x="215.13" y="409.55" width="7.32" height="6.3"/>
<rect class="q" x="242.15" y="409.55" width="4.83" height="6.3"/>
<rect class="q" x="248.08" y="409.55" width="6.3" height="6.3"/>
<rect class="q" x="255.48" y="409.55" width="7.77" height="6.3"/>
<rect class="q" x="279.55" y="409.55" width="6.01" height="6.3"/>
<rect class="q" x="286.66" y="409.55" width="4.4" height="6.3"/>
<rect class="q" x="292.15" y="409.55" width="5.52" height="6.3"/>
<rect class="q" x="298.78" y="409.55" width="5.57" height="6.3"/>
<rect class="q" x="305.45" y="409.55" width="5.21" height="6.3"/>
<rect class="q" x="311.76" y="409.55" width="4.39" height="6.3"/>
<rect class="q" x="317.25" y="409.55" width="4.4" height="6.3"/>
<rect class="q" x="333.25" y="409.55" width="5.42" height="6.3"/>
<rect class="q" x="339.77" y="409.55" width="7.68" height="6.3"/>
<rect class="q" x="374.85" y="409.55" width="4.46" height="6.3"/>
<rect class="q" x="380.41" y="409.55" width="4.37" height="6.3"/>
<rect class="q" x="385.87" y="409.55" width="4.88" height="6.3"/>
<rect class="q" x="402.55" y="409.55" width="5.85" height="6.3"/>
<rect class="q" x="409.5" y="409.55" width="5.76" height="6.3"/>
<rect class="q" x="416.36" y="409.55" width="5.65" height="6.3"/>
<rect class="q" x="423.11" y="409.55" width="5.14" height="6.3"/>
<rect class="q" x="439.25" y="409.55" width="5.92" height="6.3"/>
<rect class="q" x="446.27" y="409.55" width="5.78" height="6.3"/>
<rect class="q" x="453.15" y="409.55" width="6.46" height="6.3"/>
<rect class="q" x="460.71" y="409.55" width="5.65" height="6.3"/>
<rect class="q" x="467.46" y="409.55" width="4.49" height="6.3"/>
<rect class="q" x="473.05" y="409.55" width="5.44" height="6.3"/>
<rect class="q" x="479.59" y="409.55" width="5.79" height="6.3"/>
<rect class="q" x="486.48" y="409.55" width="4.49" height="6.3"/>
<rect class="q" x="492.07" y="409.55" width="4.83" height="6.3"/>
<rect class="q" x="498" y="409.55" width="6.24" height="6.3"/>
<rect class="q" x="505.34" y="409.55" width="6.46" height="6.3"/>
<rect class="q" x="512.9" y="409.55" width="4.5" height="6.3"/>
<rect class="q" x="518.5" y="409.55" width="4.9" height="6.3"/>
<rect class="q" x="524.5" y="409.55" width="4.98" height="6.3"/>
<rect class="q" x="530.58" y="409.55" width="4.95" height="6.3"/>
<rect class="q" x="536.63" y="409.55" width="5.39" height="6.3"/>
<rect class="q" x="543.12" y="409.55" width="3.83" height="6.3"/>
<rect class="q" x="565.95" y="409.55" width="7" height="6.3"/>
<rect class="q" x="584.75" y="409.55" width="7.2" height="6.3"/>
<rect class="q" x="594.95" y="409.55" width="6.2" height="6.3"/>
<rect class="q" x="612.45" y="409.55" width="7.2" height="6.3"/>
<rect class="q" x="622.55" y="409.55" width="7.2" height="6.3"/>
<rect class="q" x="151.15" y="417.95" width="5.68" height="6.3"/>
<rect class="q" x="157.93" y="417.95" width="5.11" height="6.3"/>
<rect class="q" x="164.14" y="417.95" width="5.48" height="6.3"/>
<rect class="q" x="170.72" y="417.95" width="6.42" height="6.3"/>
<rect class="q" x="178.24" y="417.95" width="4.65" height="6.3"/>
<rect class="q" x="184" y="417.95" width="5.47" height="6.3"/>
<rect class="q" x="190.57" y="417.95" width="5.73" height="6.3"/>
<rect class="q" x="197.4" y="417.95" width="5.48" height="6.3"/>
<rect class="q" x="203.98" y="417.95" width="6.36" height="6.3"/>
<rect class="q" x="211.44" y="417.95" width="5.2" height="6.3"/>
<rect class="q" x="217.74" y="417.95" width="4.71" height="6.3"/>
<rect class="q" x="242.15" y="417.95" width="5.74" height="6.3"/>
<rect class="q" x="248.99" y="417.95" width="5.93" height="6.3"/>
<rect class="q" x="256.02" y="417.95" width="7.23" height="6.3"/>
<rect class="q" x="279.55" y="417.95" width="5.89" height="6.3"/>
<rect class="q" x="286.54" y="417.95" width="5.73" height="6.3"/>
<rect class="q" x="293.37" y="417.95" width="5.42" height="6.3"/>
<rect class="q" x="299.89" y="417.95" width="6.23" height="6.3"/>
<rect class="q" x="307.22" y="417.95" width="6.33" height="6.3"/>
<rect class="q" x="314.65" y="417.95" width="7" height="6.3"/>
<rect class="q" x="333.25" y="417.95" width="5.01" height="6.3"/>
<rect class="q" x="339.36" y="417.95" width="8.09" height="6.3"/>
<rect class="q" x="374.85" y="417.95" width="4.53" height="6.3"/>
<rect class="q" x="380.48" y="417.95" width="4.76" height="6.3"/>
<rect class="q" x="386.34" y="417.95" width="4.41" height="6.3"/>
<rect class="q" x="402.55" y="417.95" width="4.46" height="6.3"/>
<rect class="q" x="408.11" y="417.95" width="4.5" height="6.3"/>
<rect class="q" x="413.71" y="417.95" width="6.02" height="6.3"/>
<rect class="q" x="420.83" y="417.95" width="7.42" height="6.3"/>
<rect class="q" x="439.25" y="417.95" width="4.95" height="6.3"/>
<rect class="q" x="445.3" y="417.95" width="4.89" height="6.3"/>
<rect class="q" x="451.29" y="417.95" width="6.35" height="6.3"/>
<rect class="q" x="458.74" y="417.95" width="6.36" height="6.3"/>
<rect class="q" x="466.2" y="417.95" width="5.08" height="6.3"/>
<rect class="q" x="472.38" y="417.95" width="5.49" height="6.3"/>
<rect class="q" x="478.97" y="417.95" width="4.69" height="6.3"/>
<rect class="q" x="484.76" y="417.95" width="5.11" height="6.3"/>
<rect class="q" x="490.97" y="417.95" width="5.92" height="6.3"/>
<rect class="q" x="498" y="417.95" width="5.12" height="6.3"/>
<rect class="q" x="504.21" y="417.95" width="4.67" height="6.3"/>
<rect class="q" x="509.98" y="417.95" width="5.76" height="6.3"/>
<rect class="q" x="516.83" y="417.95" width="6.22" height="6.3"/>
<rect class="q" x="524.15" y="417.95" width="6.3" height="6.3"/>
<rect class="q" x="531.55" y="417.95" width="4.66" height="6.3"/>
<rect class="q" x="537.32" y="417.95" width="5.97" height="6.3"/>
<rect class="q" x="544.39" y="417.95" width="2.56" height="6.3"/>
<rect class="q" x="585.75" y="417.95" width="6.2" height="6.3"/>
<rect class="q" x="594.35" y="417.95" width="5.9" height="6.3"/>
<rect class="q" x="613.35" y="417.95" width="6.3" height="6.3"/>
<rect class="q" x="622.55" y="417.95" width="7.2" height="6.3"/>
<rect class="q" x="151.15" y="426.35" width="5" height="6.3"/>
<rect class="q" x="157.25" y="426.35" width="4.75" height="6.3"/>
<rect class="q" x="163.1" y="426.35" width="5.76" height="6.3"/>
<rect class="q" x="169.96" y="426.35" width="5.09" height="6.3"/>
<rect class="q" x="176.15" y="426.35" width="4.56" height="6.3"/>
<rect class="q" x="181.82" y="426.35" width="6.47" height="6.3"/>
<rect class="q" x="189.38" y="426.35" width="5.36" height="6.3"/>
<rect class="q" x="195.84" y="426.35" width="4.7" height="6.3"/>
<rect class="q" x="201.64" y="426.35" width="4.32" height="6.3"/>
<rect class="q" x="207.06" y="426.35" width="5.74" height="6.3"/>
<rect class="q" x="213.9" y="426.35" width="8.55" height="6.3"/>
<rect class="q" x="235.15" y="426.35" width="5.95" height="6.3"/>
<rect class="q" x="242.2" y="426.35" width="5.58" height="6.3"/>
<rect class="q" x="248.88" y="426.35" width="6.37" height="6.3"/>
<rect class="q" x="256.35" y="426.35" width="6.9" height="6.3"/>
<rect class="q" x="279.55" y="426.35" width="5.93" height="6.3"/>
<rect class="q" x="286.58" y="426.35" width="5.78" height="6.3"/>
<rect class="q" x="293.46" y="426.35" width="4.77" height="6.3"/>
<rect class="q" x="299.33" y="426.35" width="6.29" height="6.3"/>
<rect class="q" x="306.72" y="426.35" width="4.72" height="6.3"/>
<rect class="q" x="312.55" y="426.35" width="5.33" height="6.3"/>
<rect class="q" x="318.98" y="426.35" width="2.67" height="6.3"/>
<rect class="q" x="333.25" y="426.35" width="5.99" height="6.3"/>
<rect class="q" x="340.34" y="426.35" width="7.11" height="6.3"/>
<rect class="q" x="374.85" y="426.35" width="5.35" height="6.3"/>
<rect class="q" x="381.3" y="426.35" width="5.51" height="6.3"/>
<rect class="q" x="387.9" y="426.35" width="2.85" height="6.3"/>
<rect class="q" x="402.55" y="426.35" width="5.22" height="6.3"/>
<rect class="q" x="408.87" y="426.35" width="6.3" height="6.3"/>
<rect class="q" x="416.27" y="426.35" width="6.5" height="6.3"/>
<rect class="q" x="423.86" y="426.35" width="4.39" height="6.3"/>
<rect class="q" x="439.25" y="426.35" width="5.55" height="6.3"/>
<rect class="q" x="445.9" y="426.35" width="4.79" height="6.3"/>
<rect class="q" x="451.79" y="426.35" width="4.63" height="6.3"/>
<rect class="q" x="457.53" y="426.35" width="5.94" height="6.3"/>
<rect class="q" x="464.56" y="426.35" width="6.43" height="6.3"/>
<rect class="q" x="472.09" y="426.35" width="5.87" height="6.3"/>
<rect class="q" x="479.06" y="426.35" width="4.51" height="6.3"/>
<rect class="q" x="484.67" y="426.35" width="5.26" height="6.3"/>
<rect class="q" x="491.03" y="426.35" width="6.1" height="6.3"/>
<rect class="q" x="498.23" y="426.35" width="6.43" height="6.3"/>
<rect class="q" x="505.76" y="426.35" width="6.29" height="6.3"/>
<rect class="q" x="513.15" y="426.35" width="4.46" height="6.3"/>
<rect class="q" x="518.7" y="426.35" width="5.96" height="6.3"/>
<rect class="q" x="525.76" y="426.35" width="4.69" height="6.3"/>
<rect class="q" x="531.55" y="426.35" width="4.6" height="6.3"/>
<rect class="q" x="537.25" y="426.35" width="4.46" height="6.3"/>
<rect class="q" x="542.81" y="426.35" width="4.14" height="6.3"/>
<rect class="q" x="586.55" y="426.35" width="7.3" height="6.3"/>
<rect class="q" x="598.55" y="426.35" width="6.9" height="6.3"/>
<rect class="q" x="623.55" y="426.35" width="6.2" height="6.3"/>
<rect class="q" x="151.15" y="434.75" width="6.42" height="6.3"/>
<rect class="q" x="158.67" y="434.75" width="6.28" height="6.3"/>
<rect class="q" x="166.05" y="434.75" width="4.81" height="6.3"/>
<rect class="q" x="171.96" y="434.75" width="5.92" height="6.3"/>
<rect class="q" x="178.97" y="434.75" width="5.09" height="6.3"/>
<rect class="q" x="185.17" y="434.75" width="5.76" height="6.3"/>
<rect class="q" x="192.03" y="434.75" width="5.99" height="6.3"/>
<rect class="q" x="199.11" y="434.75" width="4.58" height="6.3"/>
<rect class="q" x="204.79" y="434.75" width="4.79" height="6.3"/>
<rect class="q" x="210.68" y="434.75" width="4.77" height="6.3"/>
<rect class="q" x="216.56" y="434.75" width="5.89" height="6.3"/>
<rect class="q" x="242.15" y="434.75" width="4.94" height="6.3"/>
<rect class="q" x="248.19" y="434.75" width="5.51" height="6.3"/>
<rect class="q" x="254.8" y="434.75" width="4.75" height="6.3"/>
<rect class="q" x="260.65" y="434.75" width="2.6" height="6.3"/>
<rect class="q" x="279.55" y="434.75" width="5.73" height="6.3"/>
<rect class="q" x="286.38" y="434.75" width="4.66" height="6.3"/>
<rect class="q" x="292.14" y="434.75" width="4.44" height="6.3"/>
<rect class="q" x="297.68" y="434.75" width="5.3" height="6.3"/>
<rect class="q" x="304.08" y="434.75" width="5.76" height="6.3"/>
<rect class="q" x="310.94" y="434.75" width="5.99" height="6.3"/>
<rect class="q" x="318.03" y="434.75" width="3.62" height="6.3"/>
<rect class="q" x="334.55" y="434.75" width="4.34" height="6.3"/>
<rect class="q" x="339.99" y="434.75" width="7.46" height="6.3"/>
<rect class="q" x="374.85" y="434.75" width="4.63" height="6.3"/>
<rect class="q" x="380.58" y="434.75" width="5.04" height="6.3"/>
<rect class="q" x="386.71" y="434.75" width="4.04" height="6.3"/>
<rect class="q" x="402.55" y="434.75" width="4.87" height="6.3"/>
<rect class="q" x="408.52" y="434.75" width="4.42" height="6.3"/>
<rect class="q" x="414.04" y="434.75" width="4.48" height="6.3"/>
<rect class="q" x="419.62" y="434.75" width="4.66" height="6.3"/>
<rect class="q" x="425.38" y="434.75" width="2.87" height="6.3"/>
<rect class="q" x="439.25" y="434.75" width="4.71" height="6.3"/>
<rect class="q" x="445.06" y="434.75" width="6.34" height="6.3"/>
<rect class="q" x="452.51" y="434.75" width="5.53" height="6.3"/>
<rect class="q" x="459.14" y="434.75" width="4.41" height="6.3"/>
<rect class="q" x="464.65" y="434.75" width="4.64" height="6.3"/>
<rect class="q" x="470.39" y="434.75" width="5.82" height="6.3"/>
<rect class="q" x="477.32" y="434.75" width="5.15" height="6.3"/>
<rect class="q" x="483.56" y="434.75" width="5.88" height="6.3"/>
<rect class="q" x="490.54" y="434.75" width="4.8" height="6.3"/>
<rect class="q" x="496.45" y="434.75" width="6.05" height="6.3"/>
<rect class="q" x="503.6" y="434.75" width="6.06" height="6.3"/>
<rect class="q" x="510.76" y="434.75" width="4.51" height="6.3"/>
<rect class="q" x="516.37" y="434.75" width="5.59" height="6.3"/>
<rect class="q" x="523.06" y="434.75" width="4.72" height="6.3"/>
<rect class="q" x="528.88" y="434.75" width="5.86" height="6.3"/>
<rect class="q" x="535.84" y="434.75" width="6.07" height="6.3"/>
<rect class="q" x="543.01" y="434.75" width="3.94" height="6.3"/>
<rect class="q" x="586.55" y="434.75" width="7.3" height="6.3"/>
<rect class="q" x="623.55" y="434.75" width="6.2" height="6.3"/>
<rect class="q" x="151.15" y="443.15" width="4.99" height="6.3"/>
<rect class="q" x="157.24" y="443.15" width="4.95" height="6.3"/>
<rect class="q" x="163.29" y="443.15" width="5.02" height="6.3"/>
<rect class="q" x="169.4" y="443.15" width="4.82" height="6.3"/>
<rect class="q" x="175.32" y="443.15" width="4.69" height="6.3"/>
<rect class="q" x="181.11" y="443.15" width="5.68" height="6.3"/>
<rect class="q" x="187.9" y="443.15" width="4.84" height="6.3"/>
<rect class="q" x="193.83" y="443.15" width="4.37" height="6.3"/>
<rect class="q" x="199.3" y="443.15" width="5.01" height="6.3"/>
<rect class="q" x="205.41" y="443.15" width="6.03" height="6.3"/>
<rect class="q" x="212.53" y="443.15" width="5.88" height="6.3"/>
<rect class="q" x="219.51" y="443.15" width="2.94" height="6.3"/>
<rect class="q" x="242.15" y="443.15" width="4.41" height="6.3"/>
<rect class="q" x="247.66" y="443.15" width="5.99" height="6.3"/>
<rect class="q" x="254.75" y="443.15" width="4.49" height="6.3"/>
<rect class="q" x="260.35" y="443.15" width="2.9" height="6.3"/>
<rect class="q" x="279.55" y="443.15" width="4.45" height="6.3"/>
<rect class="q" x="285.1" y="443.15" width="5.95" height="6.3"/>
<rect class="q" x="292.15" y="443.15" width="6" height="6.3"/>
<rect class="q" x="299.25" y="443.15" width="5.26" height="6.3"/>
<rect class="q" x="305.61" y="443.15" width="4.49" height="6.3"/>
<rect class="q" x="311.2" y="443.15" width="5.17" height="6.3"/>
<rect class="q" x="317.47" y="443.15" width="4.18" height="6.3"/>
<rect class="q" x="334.55" y="443.15" width="5.19" height="6.3"/>
<rect class="q" x="340.84" y="443.15" width="6.61" height="6.3"/>
<rect class="q" x="374.85" y="443.15" width="5.86" height="6.3"/>
<rect class="q" x="381.81" y="443.15" width="5.1" height="6.3"/>
<rect class="q" x="388" y="443.15" width="2.75" height="6.3"/>
<rect class="q" x="402.55" y="443.15" width="5.34" height="6.3"/>
<rect class="q" x="408.99" y="443.15" width="6.4" height="6.3"/>
<rect class="q" x="416.49" y="443.15" width="5.63" height="6.3"/>
<rect class="q" x="423.22" y="443.15" width="5.03" height="6.3"/>
<rect class="q" x="439.25" y="443.15" width="4.85" height="6.3"/>
<rect class="q" x="445.2" y="443.15" width="4.86" height="6.3"/>
<rect class="q" x="451.16" y="443.15" width="5.33" height="6.3"/>
<rect class="q" x="457.59" y="443.15" width="6.48" height="6.3"/>
<rect class="q" x="465.17" y="443.15" width="4.63" height="6.3"/>
<rect class="q" x="470.9" y="443.15" width="6.18" height="6.3"/>
<rect class="q" x="478.18" y="443.15" width="5.01" height="6.3"/>
<rect class="q" x="484.28" y="443.15" width="4.68" height="6.3"/>
<rect class="q" x="490.06" y="443.15" width="5.94" height="6.3"/>
<rect class="q" x="497.1" y="443.15" width="5.05" height="6.3"/>
<rect class="q" x="503.25" y="443.15" width="4.71" height="6.3"/>
<rect class="q" x="509.06" y="443.15" width="5.22" height="6.3"/>
<rect class="q" x="515.38" y="443.15" width="6.11" height="6.3"/>
<rect class="q" x="522.59" y="443.15" width="6.2" height="6.3"/>
<rect class="q" x="529.89" y="443.15" width="5.56" height="6.3"/>
<rect class="q" x="536.56" y="443.15" width="4.32" height="6.3"/>
<rect class="q" x="541.98" y="443.15" width="4.97" height="6.3"/>
<rect class="q" x="586.55" y="443.15" width="7.3" height="6.3"/>
<rect class="q" x="625.65" y="443.15" width="7.4" height="6.3"/>
<rect class="q" x="151.15" y="451.55" width="5.74" height="6.3"/>
<rect class="q" x="157.99" y="451.55" width="4.41" height="6.3"/>
<rect class="q" x="163.49" y="451.55" width="6.21" height="6.3"/>
<rect class="q" x="170.81" y="451.55" width="5.51" height="6.3"/>
<rect class="q" x="177.41" y="451.55" width="5.3" height="6.3"/>
<rect class="q" x="183.81" y="451.55" width="5.05" height="6.3"/>
<rect class="q" x="189.96" y="451.55" width="6.02" height="6.3"/>
<rect class="q" x="197.08" y="451.55" width="6.02" height="6.3"/>
<rect class="q" x="204.2" y="451.55" width="6.21" height="6.3"/>
<rect class="q" x="211.52" y="451.55" width="4.77" height="6.3"/>
<rect class="q" x="217.39" y="451.55" width="5.06" height="6.3"/>
<rect class="q" x="242.15" y="451.55" width="6.4" height="6.3"/>
<rect class="q" x="249.65" y="451.55" width="4.8" height="6.3"/>
<rect class="q" x="255.55" y="451.55" width="7.7" height="6.3"/>
<rect class="q" x="279.55" y="451.55" width="6.2" height="6.3"/>
<rect class="q" x="286.85" y="451.55" width="5.74" height="6.3"/>
<rect class="q" x="293.69" y="451.55" width="5.55" height="6.3"/>
<rect class="q" x="300.34" y="451.55" width="5.32" height="6.3"/>
<rect class="q" x="306.76" y="451.55" width="5.55" height="6.3"/>
<rect class="q" x="313.41" y="451.55" width="4.35" height="6.3"/>
<rect class="q" x="318.86" y="451.55" width="2.79" height="6.3"/>
<rect class="q" x="333.25" y="451.55" width="6.35" height="6.3"/>
<rect class="q" x="340.7" y="451.55" width="6.75" height="6.3"/>
<rect class="q" x="374.85" y="451.55" width="5.91" height="6.3"/>
<rect class="q" x="381.86" y="451.55" width="4.71" height="6.3"/>
<rect class="q" x="387.67" y="451.55" width="3.08" height="6.3"/>
<rect class="q" x="402.55" y="451.55" width="6.05" height="6.3"/>
<rect class="q" x="409.7" y="451.55" width="4.7" height="6.3"/>
<rect class="q" x="415.5" y="451.55" width="6.3" height="6.3"/>
<rect class="q" x="422.91" y="451.55" width="5.34" height="6.3"/>
<rect class="q" x="439.25" y="451.55" width="5.41" height="6.3"/>
<rect class="q" x="445.76" y="451.55" width="6.28" height="6.3"/>
<rect class="q" x="453.13" y="451.55" width="6.28" height="6.3"/>
<rect class="q" x="460.51" y="451.55" width="6.4" height="6.3"/>
<rect class="q" x="468.01" y="451.55" width="5.42" height="6.3"/>
<rect class="q" x="474.54" y="451.55" width="6.35" height="6.3"/>
<rect class="q" x="481.99" y="451.55" width="5.53" height="6.3"/>
<rect class="q" x="488.62" y="451.55" width="4.62" height="6.3"/>
<rect class="q" x="494.34" y="451.55" width="5.69" height="6.3"/>
<rect class="q" x="501.13" y="451.55" width="6.07" height="6.3"/>
<rect class="q" x="508.29" y="451.55" width="5.23" height="6.3"/>
<rect class="q" x="514.63" y="451.55" width="5.62" height="6.3"/>
<rect class="q" x="521.35" y="451.55" width="4.87" height="6.3"/>
<rect class="q" x="527.32" y="451.55" width="4.91" height="6.3"/>
<rect class="q" x="533.33" y="451.55" width="5.22" height="6.3"/>
<rect class="q" x="539.65" y="451.55" width="7.3" height="6.3"/>
<rect class="q" x="626.85" y="451.55" width="6.6" height="6.3"/>
<rect class="q" x="151.15" y="459.95" width="6.49" height="6.3"/>
<rect class="q" x="158.74" y="459.95" width="4.8" height="6.3"/>
<rect class="q" x="164.64" y="459.95" width="6.21" height="6.3"/>
<rect class="q" x="171.96" y="459.95" width="5.08" height="6.3"/>
<rect class="q" x="178.14" y="459.95" width="5.26" height="6.3"/>
<rect class="q" x="184.5" y="459.95" width="4.98" height="6.3"/>
<rect class="q" x="190.58" y="459.95" width="5.7" height="6.3"/>
<rect class="q" x="197.38" y="459.95" width="5.28" height="6.3"/>
<rect class="q" x="203.76" y="459.95" width="4.61" height="6.3"/>
<rect class="q" x="209.47" y="459.95" width="5.6" height="6.3"/>
<rect class="q" x="216.17" y="459.95" width="6.28" height="6.3"/>
<rect class="q" x="242.15" y="459.95" width="6.14" height="6.3"/>
<rect class="q" x="249.39" y="459.95" width="5.51" height="6.3"/>
<rect class="q" x="255.99" y="459.95" width="7.26" height="6.3"/>
<rect class="q" x="279.55" y="459.95" width="5.87" height="6.3"/>
<rect class="q" x="286.52" y="459.95" width="5.79" height="6.3"/>
<rect class="q" x="293.41" y="459.95" width="6.39" height="6.3"/>
<rect class="q" x="300.9" y="459.95" width="5.66" height="6.3"/>
<rect class="q" x="307.67" y="459.95" width="4.64" height="6.3"/>
<rect class="q" x="313.41" y="459.95" width="8.24" height="6.3"/>
<rect class="q" x="334.55" y="459.95" width="4.78" height="6.3"/>
<rect class="q" x="340.43" y="459.95" width="7.02" height="6.3"/>
<rect class="q" x="374.85" y="459.95" width="4.6" height="6.3"/>
<rect class="q" x="380.55" y="459.95" width="6.29" height="6.3"/>
<rect class="q" x="387.94" y="459.95" width="2.81" height="6.3"/>
<rect class="q" x="402.55" y="459.95" width="4.9" height="6.3"/>
<rect class="q" x="408.55" y="459.95" width="5.45" height="6.3"/>
<rect class="q" x="415.1" y="459.95" width="4.34" height="6.3"/>
<rect class="q" x="420.55" y="459.95" width="7.7" height="6.3"/>
<rect class="q" x="439.25" y="459.95" width="4.34" height="6.3"/>
<rect class="q" x="444.69" y="459.95" width="6.06" height="6.3"/>
<rect class="q" x="451.85" y="459.95" width="4.45" height="6.3"/>
<rect class="q" x="457.39" y="459.95" width="6.08" height="6.3"/>
<rect class="q" x="464.58" y="459.95" width="5.68" height="6.3"/>
<rect class="q" x="471.36" y="459.95" width="4.33" height="6.3"/>
<rect class="q" x="476.79" y="459.95" width="6.26" height="6.3"/>
<rect class="q" x="484.15" y="459.95" width="4.93" height="6.3"/>
<rect class="q" x="490.18" y="459.95" width="5.39" height="6.3"/>
<rect class="q" x="496.67" y="459.95" width="6.37" height="6.3"/>
<rect class="q" x="504.14" y="459.95" width="5.13" height="6.3"/>
<rect class="q" x="510.37" y="459.95" width="4.47" height="6.3"/>
<rect class="q" x="515.93" y="459.95" width="4.76" height="6.3"/>
<rect class="q" x="521.79" y="459.95" width="5.92" height="6.3"/>
<rect class="q" x="528.81" y="459.95" width="4.61" height="6.3"/>
<rect class="q" x="534.52" y="459.95" width="4.98" height="6.3"/>
<rect class="q" x="540.61" y="459.95" width="6.34" height="6.3"/>
<rect class="q" x="626.85" y="459.95" width="6.6" height="6.3"/>
<rect class="q" x="151.15" y="468.35" width="4.86" height="6.3"/>
<rect class="q" x="157.11" y="468.35" width="4.81" height="6.3"/>
<rect class="q" x="163.02" y="468.35" width="6.44" height="6.3"/>
<rect class="q" x="170.56" y="468.35" width="9.69" height="6.3"/>
<rect class="q" x="183.45" y="468.35" width="5.67" height="6.3"/>
<rect class="q" x="190.22" y="468.35" width="6.29" height="6.3"/>
<rect class="q" x="197.61" y="468.35" width="6.02" height="6.3"/>
<rect class="q" x="204.73" y="468.35" width="5.5" height="6.3"/>
<rect class="q" x="211.34" y="468.35" width="6.25" height="6.3"/>
<rect class="q" x="218.68" y="468.35" width="3.77" height="6.3"/>
<rect class="q" x="242.15" y="468.35" width="6.03" height="6.3"/>
<rect class="q" x="249.28" y="468.35" width="5.43" height="6.3"/>
<rect class="q" x="255.81" y="468.35" width="7.44" height="6.3"/>
<rect class="q" x="279.55" y="468.35" width="5.55" height="6.3"/>
<rect class="q" x="286.2" y="468.35" width="5.9" height="6.3"/>
<rect class="q" x="293.21" y="468.35" width="5.2" height="6.3"/>
<rect class="q" x="299.51" y="468.35" width="6.41" height="6.3"/>
<rect class="q" x="307.02" y="468.35" width="6.4" height="6.3"/>
<rect class="q" x="314.52" y="468.35" width="7.13" height="6.3"/>
<rect class="q" x="334.55" y="468.35" width="6.03" height="6.3"/>
<rect class="q" x="341.68" y="468.35" width="5.77" height="6.3"/>
<rect class="q" x="374.85" y="468.35" width="5" height="6.3"/>
<rect class="q" x="380.95" y="468.35" width="5.97" height="6.3"/>
<rect class="q" x="388.02" y="468.35" width="2.73" height="6.3"/>
<rect class="q" x="402.55" y="468.35" width="6.33" height="6.3"/>
<rect class="q" x="409.98" y="468.35" width="4.48" height="6.3"/>
<rect class="q" x="415.56" y="468.35" width="6.35" height="6.3"/>
<rect class="q" x="423.01" y="468.35" width="5.24" height="6.3"/>
<rect class="q" x="439.25" y="468.35" width="6.01" height="6.3"/>
<rect class="q" x="446.36" y="468.35" width="4.53" height="6.3"/>
<rect class="q" x="451.99" y="468.35" width="4.91" height="6.3"/>
<rect class="q" x="457.99" y="468.35" width="4.55" height="6.3"/>
<rect class="q" x="463.64" y="468.35" width="6.22" height="6.3"/>
<rect class="q" x="470.96" y="468.35" width="5.27" height="6.3"/>
<rect class="q" x="477.33" y="468.35" width="5.9" height="6.3"/>
<rect class="q" x="484.33" y="468.35" width="4.86" height="6.3"/>
<rect class="q" x="490.3" y="468.35" width="5.91" height="6.3"/>
<rect class="q" x="497.3" y="468.35" width="5.73" height="6.3"/>
<rect class="q" x="504.13" y="468.35" width="3.32" height="6.3"/>
<rect class="q" x="510.75" y="468.35" width="6.14" height="6.3"/>
<rect class="q" x="517.99" y="468.35" width="6.08" height="6.3"/>
<rect class="q" x="525.17" y="468.35" width="4.95" height="6.3"/>
<rect class="q" x="531.22" y="468.35" width="5.62" height="6.3"/>
<rect class="q" x="537.95" y="468.35" width="9" height="6.3"/>
<rect class="q" x="626.85" y="468.35" width="6.6" height="6.3"/>
<rect class="q" x="151.15" y="476.75" width="6.23" height="6.3"/>
<rect class="q" x="158.48" y="476.75" width="4.48" height="6.3"/>
<rect class="q" x="164.05" y="476.75" width="4.94" height="6.3"/>
<rect class="q" x="170.09" y="476.75" width="6.15" height="6.3"/>
<rect class="q" x="177.34" y="476.75" width="2.91" height="6.3"/>
<rect class="q" x="183.45" y="476.75" width="4.66" height="6.3"/>
<rect class="q" x="189.21" y="476.75" width="6.29" height="6.3"/>
<rect class="q" x="196.61" y="476.75" width="4.79" height="6.3"/>
<rect class="q" x="202.5" y="476.75" width="6.19" height="6.3"/>
<rect class="q" x="209.78" y="476.75" width="4.79" height="6.3"/>
<rect class="q" x="215.68" y="476.75" width="6.77" height="6.3"/>
<rect class="q" x="242.15" y="476.75" width="5.32" height="6.3"/>
<rect class="q" x="248.57" y="476.75" width="6.11" height="6.3"/>
<rect class="q" x="255.78" y="476.75" width="7.47" height="6.3"/>
<rect class="q" x="279.55" y="476.75" width="4.67" height="6.3"/>
<rect class="q" x="285.32" y="476.75" width="4.6" height="6.3"/>
<rect class="q" x="291.02" y="476.75" width="5.33" height="6.3"/>
<rect class="q" x="297.46" y="476.75" width="5.38" height="6.3"/>
<rect class="q" x="303.94" y="476.75" width="4.89" height="6.3"/>
<rect class="q" x="309.93" y="476.75" width="5.11" height="6.3"/>
<rect class="q" x="316.14" y="476.75" width="5.51" height="6.3"/>
<rect class="q" x="334.55" y="476.75" width="4.99" height="6.3"/>
<rect class="q" x="340.64" y="476.75" width="6.81" height="6.3"/>
<rect class="q" x="374.85" y="476.75" width="6.01" height="6.3"/>
<rect class="q" x="381.96" y="476.75" width="8.79" height="6.3"/>
<rect class="q" x="402.55" y="476.75" width="6.35" height="6.3"/>
<rect class="q" x="410" y="476.75" width="4.74" height="6.3"/>
<rect class="q" x="415.83" y="476.75" width="6.41" height="6.3"/>
<rect class="q" x="423.34" y="476.75" width="4.91" height="6.3"/>
<rect class="q" x="439.25" y="476.75" width="4.76" height="6.3"/>
<rect class="q" x="445.11" y="476.75" width="4.46" height="6.3"/>
<rect class="q" x="450.67" y="476.75" width="5.43" height="6.3"/>
<rect class="q" x="457.2" y="476.75" width="5.76" height="6.3"/>
<rect class="q" x="464.06" y="476.75" width="5.96" height="6.3"/>
<rect class="q" x="471.11" y="476.75" width="4.82" height="6.3"/>
<rect class="q" x="477.04" y="476.75" width="4.54" height="6.3"/>
<rect class="q" x="482.68" y="476.75" width="4.93" height="6.3"/>
<rect class="q" x="488.71" y="476.75" width="4.52" height="6.3"/>
<rect class="q" x="494.33" y="476.75" width="4.72" height="6.3"/>
<rect class="q" x="500.16" y="476.75" width="7.29" height="6.3"/>
<rect class="q" x="510.75" y="476.75" width="6.13" height="6.3"/>
<rect class="q" x="517.98" y="476.75" width="6.26" height="6.3"/>
<rect class="q" x="525.34" y="476.75" width="5.43" height="6.3"/>
<rect class="q" x="531.87" y="476.75" width="5.24" height="6.3"/>
<rect class="q" x="538.21" y="476.75" width="8.74" height="6.3"/>
<rect class="q" x="628.55" y="476.75" width="6.7" height="6.3"/>
<rect class="q" x="151.15" y="485.15" width="4.98" height="6.3"/>
<rect class="q" x="157.23" y="485.15" width="5.55" height="6.3"/>
<rect class="q" x="163.88" y="485.15" width="4.51" height="6.3"/>
<rect class="q" x="169.49" y="485.15" width="5.39" height="6.3"/>
<rect class="q" x="175.98" y="485.15" width="4.27" height="6.3"/>
<rect class="q" x="183.45" y="485.15" width="5.98" height="6.3"/>
<rect class="q" x="190.53" y="485.15" width="4.79" height="6.3"/>
<rect class="q" x="196.42" y="485.15" width="5.77" height="6.3"/>
<rect class="q" x="203.3" y="485.15" width="6.14" height="6.3"/>
<rect class="q" x="210.53" y="485.15" width="5.3" height="6.3"/>
<rect class="q" x="216.93" y="485.15" width="5.52" height="6.3"/>
<rect class="q" x="242.15" y="485.15" width="4.97" height="6.3"/>
<rect class="q" x="248.22" y="485.15" width="5.01" height="6.3"/>
<rect class="q" x="254.34" y="485.15" width="8.91" height="6.3"/>
<rect class="q" x="279.55" y="485.15" width="6.16" height="6.3"/>
<rect class="q" x="286.81" y="485.15" width="5.73" height="6.3"/>
<rect class="q" x="293.64" y="485.15" width="4.64" height="6.3"/>
<rect class="q" x="299.38" y="485.15" width="5.68" height="6.3"/>
<rect class="q" x="306.16" y="485.15" width="4.43" height="6.3"/>
<rect class="q" x="311.69" y="485.15" width="5.42" height="6.3"/>
<rect class="q" x="318.2" y="485.15" width="3.45" height="6.3"/>
<rect class="q" x="337.45" y="485.15" width="4.93" height="6.3"/>
<rect class="q" x="343.48" y="485.15" width="3.97" height="6.3"/>
<rect class="q" x="374.85" y="485.15" width="5.03" height="6.3"/>
<rect class="q" x="380.98" y="485.15" width="4.38" height="6.3"/>
<rect class="q" x="386.46" y="485.15" width="4.29" height="6.3"/>
<rect class="q" x="402.55" y="485.15" width="5.41" height="6.3"/>
<rect class="q" x="409.06" y="485.15" width="5.37" height="6.3"/>
<rect class="q" x="415.53" y="485.15" width="4.73" height="6.3"/>
<rect class="q" x="421.36" y="485.15" width="6.89" height="6.3"/>
<rect class="q" x="439.25" y="485.15" width="4.61" height="6.3"/>
<rect class="q" x="444.96" y="485.15" width="5.36" height="6.3"/>
<rect class="q" x="451.42" y="485.15" width="4.58" height="6.3"/>
<rect class="q" x="457.1" y="485.15" width="5.81" height="6.3"/>
<rect class="q" x="464.01" y="485.15" width="5.83" height="6.3"/>
<rect class="q" x="470.95" y="485.15" width="5.57" height="6.3"/>
<rect class="q" x="477.62" y="485.15" width="6.45" height="6.3"/>
<rect class="q" x="485.17" y="485.15" width="4.4" height="6.3"/>
<rect class="q" x="490.67" y="485.15" width="5.87" height="6.3"/>
<rect class="q" x="497.64" y="485.15" width="6.06" height="6.3"/>
<rect class="q" x="504.8" y="485.15" width="2.65" height="6.3"/>
<rect class="q" x="510.75" y="485.15" width="5" height="6.3"/>
<rect class="q" x="516.85" y="485.15" width="6.3" height="6.3"/>
<rect class="q" x="524.25" y="485.15" width="6.03" height="6.3"/>
<rect class="q" x="531.38" y="485.15" width="6.2" height="6.3"/>
<rect class="q" x="538.68" y="485.15" width="8.27" height="6.3"/>
<rect class="q" x="151.15" y="493.55" width="5.12" height="6.3"/>
<rect class="q" x="157.37" y="493.55" width="5.42" height="6.3"/>
<rect class="q" x="163.9" y="493.55" width="5.59" height="6.3"/>
<rect class="q" x="170.59" y="493.55" width="4.79" height="6.3"/>
<rect class="q" x="176.48" y="493.55" width="3.77" height="6.3"/>
<rect class="q" x="183.45" y="493.55" width="5.85" height="6.3"/>
<rect class="q" x="190.4" y="493.55" width="6.02" height="6.3"/>
<rect class="q" x="197.52" y="493.55" width="5.44" height="6.3"/>
<rect class="q" x="204.05" y="493.55" width="4.85" height="6.3"/>
<rect class="q" x="210" y="493.55" width="6.34" height="6.3"/>
<rect class="q" x="217.44" y="493.55" width="5.01" height="6.3"/>
<rect class="q" x="235.15" y="493.55" width="5.96" height="6.3"/>
<rect class="q" x="242.21" y="493.55" width="5.91" height="6.3"/>
<rect class="q" x="249.22" y="493.55" width="4.76" height="6.3"/>
<rect class="q" x="255.08" y="493.55" width="8.17" height="6.3"/>
<rect class="q" x="279.55" y="493.55" width="5.83" height="6.3"/>
<rect class="q" x="286.48" y="493.55" width="4.9" height="6.3"/>
<rect class="q" x="292.48" y="493.55" width="4.43" height="6.3"/>
<rect class="q" x="298.01" y="493.55" width="5.09" height="6.3"/>
<rect class="q" x="304.2" y="493.55" width="4.37" height="6.3"/>
<rect class="q" x="309.67" y="493.55" width="6.42" height="6.3"/>
<rect class="q" x="317.19" y="493.55" width="4.46" height="6.3"/>
<rect class="q" x="337.45" y="493.55" width="5.11" height="6.3"/>
<rect class="q" x="343.66" y="493.55" width="3.79" height="6.3"/>
<rect class="q" x="374.85" y="493.55" width="6.27" height="6.3"/>
<rect class="q" x="382.22" y="493.55" width="8.53" height="6.3"/>
<rect class="q" x="402.55" y="493.55" width="5.23" height="6.3"/>
<rect class="q" x="408.88" y="493.55" width="4.99" height="6.3"/>
<rect class="q" x="414.97" y="493.55" width="6.44" height="6.3"/>
<rect class="q" x="422.51" y="493.55" width="5.74" height="6.3"/>
<rect class="q" x="439.25" y="493.55" width="4.72" height="6.3"/>
<rect class="q" x="445.07" y="493.55" width="6" height="6.3"/>
<rect class="q" x="452.17" y="493.55" width="5.12" height="6.3"/>
<rect class="q" x="458.4" y="493.55" width="4.56" height="6.3"/>
<rect class="q" x="464.06" y="493.55" width="6.29" height="6.3"/>
<rect class="q" x="471.45" y="493.55" width="5.27" height="6.3"/>
<rect class="q" x="477.81" y="493.55" width="5.17" height="6.3"/>
<rect class="q" x="484.09" y="493.55" width="5.61" height="6.3"/>
<rect class="q" x="490.8" y="493.55" width="4.86" height="6.3"/>
<rect class="q" x="496.76" y="493.55" width="4.34" height="6.3"/>
<rect class="q" x="502.2" y="493.55" width="5.25" height="6.3"/>
<rect class="q" x="510.75" y="493.55" width="4.57" height="6.3"/>
<rect class="q" x="516.42" y="493.55" width="4.77" height="6.3"/>
<rect class="q" x="522.29" y="493.55" width="4.98" height="6.3"/>
<rect class="q" x="528.37" y="493.55" width="5.22" height="6.3"/>
<rect class="q" x="534.69" y="493.55" width="5.1" height="6.3"/>
<rect class="q" x="540.89" y="493.55" width="6.06" height="6.3"/>
<rect class="q" x="151.15" y="501.95" width="4.33" height="6.3"/>
<rect class="q" x="156.58" y="501.95" width="5.76" height="6.3"/>
<rect class="q" x="163.44" y="501.95" width="5.32" height="6.3"/>
<rect class="q" x="169.86" y="501.95" width="5.62" height="6.3"/>
<rect class="q" x="176.57" y="501.95" width="3.68" height="6.3"/>
<rect class="q" x="183.45" y="501.95" width="6.23" height="6.3"/>
<rect class="q" x="190.78" y="501.95" width="4.98" height="6.3"/>
<rect class="q" x="196.87" y="501.95" width="6.22" height="6.3"/>
<rect class="q" x="204.18" y="501.95" width="5.82" height="6.3"/>
<rect class="q" x="211.11" y="501.95" width="4.45" height="6.3"/>
<rect class="q" x="216.66" y="501.95" width="5.79" height="6.3"/>
<rect class="q" x="242.15" y="501.95" width="4.55" height="6.3"/>
<rect class="q" x="247.8" y="501.95" width="4.94" height="6.3"/>
<rect class="q" x="253.84" y="501.95" width="5.49" height="6.3"/>
<rect class="q" x="260.43" y="501.95" width="2.82" height="6.3"/>
<rect class="q" x="279.55" y="501.95" width="4.9" height="6.3"/>
<rect class="q" x="285.55" y="501.95" width="5.98" height="6.3"/>
<rect class="q" x="292.63" y="501.95" width="5.66" height="6.3"/>
<rect class="q" x="299.39" y="501.95" width="5.88" height="6.3"/>
<rect class="q" x="306.36" y="501.95" width="6.16" height="6.3"/>
<rect class="q" x="313.62" y="501.95" width="8.03" height="6.3"/>
<rect class="q" x="337.45" y="501.95" width="5.19" height="6.3"/>
<rect class="q" x="343.74" y="501.95" width="3.71" height="6.3"/>
<rect class="q" x="374.85" y="501.95" width="6.13" height="6.3"/>
<rect class="q" x="382.08" y="501.95" width="5.12" height="6.3"/>
<rect class="q" x="388.31" y="501.95" width="2.44" height="6.3"/>
<rect class="q" x="402.55" y="501.95" width="5.34" height="6.3"/>
<rect class="q" x="408.99" y="501.95" width="4.73" height="6.3"/>
<rect class="q" x="414.82" y="501.95" width="4.68" height="6.3"/>
<rect class="q" x="420.6" y="501.95" width="7.65" height="6.3"/>
<rect class="q" x="439.25" y="501.95" width="5.51" height="6.3"/>
<rect class="q" x="445.86" y="501.95" width="4.59" height="6.3"/>
<rect class="q" x="451.56" y="501.95" width="5.36" height="6.3"/>
<rect class="q" x="458.02" y="501.95" width="5.66" height="6.3"/>
<rect class="q" x="464.78" y="501.95" width="4.6" height="6.3"/>
<rect class="q" x="470.47" y="501.95" width="4.98" height="6.3"/>
<rect class="q" x="476.55" y="501.95" width="5.79" height="6.3"/>
<rect class="q" x="483.44" y="501.95" width="5.5" height="6.3"/>
<rect class="q" x="490.05" y="501.95" width="5.66" height="6.3"/>
<rect class="q" x="496.8" y="501.95" width="6.02" height="6.3"/>
<rect class="q" x="503.92" y="501.95" width="3.53" height="6.3"/>
<rect class="q" x="510.75" y="501.95" width="5.45" height="6.3"/>
<rect class="q" x="517.3" y="501.95" width="4.33" height="6.3"/>
<rect class="q" x="522.73" y="501.95" width="6.26" height="6.3"/>
<rect class="q" x="530.09" y="501.95" width="5.27" height="6.3"/>
<rect class="q" x="536.46" y="501.95" width="6.13" height="6.3"/>
<rect class="q" x="543.68" y="501.95" width="3.27" height="6.3"/>
<rect class="q" x="151.15" y="510.35" width="4.96" height="6.3"/>
<rect class="q" x="157.21" y="510.35" width="5.92" height="6.3"/>
<rect class="q" x="164.23" y="510.35" width="4.49" height="6.3"/>
<rect class="q" x="169.82" y="510.35" width="4.75" height="6.3"/>
<rect class="q" x="175.67" y="510.35" width="4.58" height="6.3"/>
<rect class="q" x="184.75" y="510.35" width="6.24" height="6.3"/>
<rect class="q" x="192.09" y="510.35" width="5.14" height="6.3"/>
<rect class="q" x="198.33" y="510.35" width="5.49" height="6.3"/>
<rect class="q" x="204.93" y="510.35" width="5.13" height="6.3"/>
<rect class="q" x="211.16" y="510.35" width="6.07" height="6.3"/>
<rect class="q" x="218.33" y="510.35" width="4.12" height="6.3"/>
<rect class="q" x="242.15" y="510.35" width="5.96" height="6.3"/>
<rect class="q" x="249.21" y="510.35" width="5.94" height="6.3"/>
<rect class="q" x="256.25" y="510.35" width="7" height="6.3"/>
<rect class="q" x="279.55" y="510.35" width="5.19" height="6.3"/>
<rect class="q" x="285.84" y="510.35" width="5.45" height="6.3"/>
<rect class="q" x="292.4" y="510.35" width="4.64" height="6.3"/>
<rect class="q" x="298.14" y="510.35" width="6.32" height="6.3"/>
<rect class="q" x="305.56" y="510.35" width="5.34" height="6.3"/>
<rect class="q" x="312" y="510.35" width="5.41" height="6.3"/>
<rect class="q" x="318.51" y="510.35" width="3.14" height="6.3"/>
<rect class="q" x="333.25" y="510.35" width="6.06" height="6.3"/>
<rect class="q" x="340.41" y="510.35" width="7.04" height="6.3"/>
<rect class="q" x="374.85" y="510.35" width="5.62" height="6.3"/>
<rect class="q" x="381.57" y="510.35" width="9.18" height="6.3"/>
<rect class="q" x="402.55" y="510.35" width="6.03" height="6.3"/>
<rect class="q" x="409.68" y="510.35" width="5.79" height="6.3"/>
<rect class="q" x="416.57" y="510.35" width="6.09" height="6.3"/>
<rect class="q" x="423.77" y="510.35" width="4.48" height="6.3"/>
<rect class="q" x="439.25" y="510.35" width="6.21" height="6.3"/>
<rect class="q" x="446.56" y="510.35" width="5.15" height="6.3"/>
<rect class="q" x="452.81" y="510.35" width="4.63" height="6.3"/>
<rect class="q" x="458.54" y="510.35" width="4.7" height="6.3"/>
<rect class="q" x="464.34" y="510.35" width="5.57" height="6.3"/>
<rect class="q" x="471.01" y="510.35" width="4.72" height="6.3"/>
<rect class="q" x="476.83" y="510.35" width="5.35" height="6.3"/>
<rect class="q" x="483.27" y="510.35" width="5.48" height="6.3"/>
<rect class="q" x="489.86" y="510.35" width="5.27" height="6.3"/>
<rect class="q" x="496.22" y="510.35" width="5.41" height="6.3"/>
<rect class="q" x="502.73" y="510.35" width="4.72" height="6.3"/>
<rect class="q" x="510.75" y="510.35" width="4.98" height="6.3"/>
<rect class="q" x="516.83" y="510.35" width="4.86" height="6.3"/>
<rect class="q" x="522.78" y="510.35" width="6.09" height="6.3"/>
<rect class="q" x="529.97" y="510.35" width="6.06" height="6.3"/>
<rect class="q" x="537.13" y="510.35" width="4.43" height="6.3"/>
<rect class="q" x="542.66" y="510.35" width="4.29" height="6.3"/>
<rect class="q" x="151.15" y="518.75" width="5.96" height="6.3"/>
<rect class="q" x="158.21" y="518.75" width="6.2" height="6.3"/>
<rect class="q" x="165.51" y="518.75" width="4.55" height="6.3"/>
<rect class="q" x="171.16" y="518.75" width="9.09" height="6.3"/>
<rect class="q" x="184.75" y="518.75" width="4.79" height="6.3"/>
<rect class="q" x="190.64" y="518.75" width="5.22" height="6.3"/>
<rect class="q" x="196.96" y="518.75" width="5.66" height="6.3"/>
<rect class="q" x="203.72" y="518.75" width="6.08" height="6.3"/>
<rect class="q" x="210.9" y="518.75" width="5.95" height="6.3"/>
<rect class="q" x="217.95" y="518.75" width="4.5" height="6.3"/>
<rect class="q" x="235.15" y="518.75" width="6.49" height="6.3"/>
<rect class="q" x="242.74" y="518.75" width="5.42" height="6.3"/>
<rect class="q" x="249.26" y="518.75" width="4.56" height="6.3"/>
<rect class="q" x="254.92" y="518.75" width="8.33" height="6.3"/>
<rect class="q" x="279.55" y="518.75" width="6.22" height="6.3"/>
<rect class="q" x="286.87" y="518.75" width="5.25" height="6.3"/>
<rect class="q" x="293.23" y="518.75" width="5.7" height="6.3"/>
<rect class="q" x="300.03" y="518.75" width="6.35" height="6.3"/>
<rect class="q" x="307.48" y="518.75" width="4.61" height="6.3"/>
<rect class="q" x="313.2" y="518.75" width="8.45" height="6.3"/>
<rect class="q" x="337.45" y="518.75" width="5.81" height="6.3"/>
<rect class="q" x="344.36" y="518.75" width="3.09" height="6.3"/>
<rect class="q" x="374.85" y="518.75" width="6.01" height="6.3"/>
<rect class="q" x="381.96" y="518.75" width="8.79" height="6.3"/>
<rect class="q" x="402.55" y="518.75" width="5.7" height="6.3"/>
<rect class="q" x="409.35" y="518.75" width="5.93" height="6.3"/>
<rect class="q" x="416.38" y="518.75" width="6.27" height="6.3"/>
<rect class="q" x="423.75" y="518.75" width="4.5" height="6.3"/>
<rect class="q" x="439.25" y="518.75" width="6.13" height="6.3"/>
<rect class="q" x="446.48" y="518.75" width="5.17" height="6.3"/>
<rect class="q" x="452.75" y="518.75" width="5.96" height="6.3"/>
<rect class="q" x="459.81" y="518.75" width="4.91" height="6.3"/>
<rect class="q" x="465.82" y="518.75" width="4.54" height="6.3"/>
<rect class="q" x="471.46" y="518.75" width="4.39" height="6.3"/>
<rect class="q" x="476.96" y="518.75" width="5.29" height="6.3"/>
<rect class="q" x="483.34" y="518.75" width="6.22" height="6.3"/>
<rect class="q" x="490.67" y="518.75" width="4.75" height="6.3"/>
<rect class="q" x="496.51" y="518.75" width="5.27" height="6.3"/>
<rect class="q" x="502.88" y="518.75" width="4.57" height="6.3"/>
<rect class="q" x="510.75" y="518.75" width="6.06" height="6.3"/>
<rect class="q" x="517.91" y="518.75" width="4.5" height="6.3"/>
<rect class="q" x="523.5" y="518.75" width="4.36" height="6.3"/>
<rect class="q" x="528.96" y="518.75" width="5.41" height="6.3"/>
<rect class="q" x="535.47" y="518.75" width="5.7" height="6.3"/>
<rect class="q" x="542.27" y="518.75" width="4.68" height="6.3"/>
<rect class="q" x="151.15" y="527.15" width="6.38" height="6.3"/>
<rect class="q" x="158.63" y="527.15" width="5.2" height="6.3"/>
<rect class="q" x="164.93" y="527.15" width="5.61" height="6.3"/>
<rect class="q" x="171.64" y="527.15" width="8.61" height="6.3"/>
<rect class="q" x="184.75" y="527.15" width="4.92" height="6.3"/>
<rect class="q" x="190.77" y="527.15" width="5.59" height="6.3"/>
<rect class="q" x="197.46" y="527.15" width="4.96" height="6.3"/>
<rect class="q" x="203.52" y="527.15" width="4.9" height="6.3"/>
<rect class="q" x="209.52" y="527.15" width="5.71" height="6.3"/>
<rect class="q" x="216.33" y="527.15" width="6.12" height="6.3"/>
<rect class="q" x="242.15" y="527.15" width="4.9" height="6.3"/>
<rect class="q" x="248.15" y="527.15" width="6.46" height="6.3"/>
<rect class="q" x="255.71" y="527.15" width="7.54" height="6.3"/>
<rect class="q" x="279.55" y="527.15" width="6.09" height="6.3"/>
<rect class="q" x="286.74" y="527.15" width="5.65" height="6.3"/>
<rect class="q" x="293.49" y="527.15" width="4.75" height="6.3"/>
<rect class="q" x="299.34" y="527.15" width="6.49" height="6.3"/>
<rect class="q" x="306.93" y="527.15" width="5.72" height="6.3"/>
<rect class="q" x="313.76" y="527.15" width="7.89" height="6.3"/>
<rect class="q" x="333.25" y="527.15" width="5.35" height="6.3"/>
<rect class="q" x="339.7" y="527.15" width="7.75" height="6.3"/>
<rect class="q" x="374.85" y="527.15" width="5.23" height="6.3"/>
<rect class="q" x="381.18" y="527.15" width="5.12" height="6.3"/>
<rect class="q" x="387.41" y="527.15" width="3.34" height="6.3"/>
<rect class="q" x="402.55" y="527.15" width="5.55" height="6.3"/>
<rect class="q" x="409.2" y="527.15" width="5.43" height="6.3"/>
<rect class="q" x="415.74" y="527.15" width="4.71" height="6.3"/>
<rect class="q" x="421.55" y="527.15" width="6.7" height="6.3"/>
<rect class="q" x="439.25" y="527.15" width="5.93" height="6.3"/>
<rect class="q" x="446.28" y="527.15" width="5.87" height="6.3"/>
<rect class="q" x="453.26" y="527.15" width="6.36" height="6.3"/>
<rect class="q" x="460.72" y="527.15" width="6.13" height="6.3"/>
<rect class="q" x="467.96" y="527.15" width="6.23" height="6.3"/>
<rect class="q" x="475.29" y="527.15" width="4.89" height="6.3"/>
<rect class="q" x="481.28" y="527.15" width="7.77" height="6.3"/>
<rect class="q" x="492.55" y="527.15" width="4.97" height="6.3"/>
<rect class="q" x="498.62" y="527.15" width="4.89" height="6.3"/>
<rect class="q" x="504.6" y="527.15" width="2.85" height="6.3"/>
<rect class="q" x="510.75" y="527.15" width="4.35" height="6.3"/>
<rect class="q" x="516.2" y="527.15" width="4.52" height="6.3"/>
<rect class="q" x="521.82" y="527.15" width="5.86" height="6.3"/>
<rect class="q" x="528.78" y="527.15" width="5.58" height="6.3"/>
<rect class="q" x="535.46" y="527.15" width="5.41" height="6.3"/>
<rect class="q" x="541.97" y="527.15" width="4.98" height="6.3"/>
<rect class="q" x="151.15" y="535.55" width="4.62" height="6.3"/>
<rect class="q" x="156.87" y="535.55" width="5.18" height="6.3"/>
<rect class="q" x="163.15" y="535.55" width="6.27" height="6.3"/>
<rect class="q" x="170.52" y="535.55" width="5.32" height="6.3"/>
<rect class="q" x="176.94" y="535.55" width="3.31" height="6.3"/>
<rect class="q" x="184.75" y="535.55" width="4.94" height="6.3"/>
<rect class="q" x="190.79" y="535.55" width="5.8" height="6.3"/>
<rect class="q" x="197.69" y="535.55" width="4.4" height="6.3"/>
<rect class="q" x="203.19" y="535.55" width="5.4" height="6.3"/>
<rect class="q" x="209.7" y="535.55" width="5.42" height="6.3"/>
<rect class="q" x="216.21" y="535.55" width="6.24" height="6.3"/>
<rect class="q" x="242.15" y="535.55" width="4.55" height="6.3"/>
<rect class="q" x="247.8" y="535.55" width="5.93" height="6.3"/>
<rect class="q" x="254.83" y="535.55" width="8.42" height="6.3"/>
<rect class="q" x="279.55" y="535.55" width="6.04" height="6.3"/>
<rect class="q" x="286.69" y="535.55" width="5.69" height="6.3"/>
<rect class="q" x="293.48" y="535.55" width="4.68" height="6.3"/>
<rect class="q" x="299.27" y="535.55" width="6.44" height="6.3"/>
<rect class="q" x="306.8" y="535.55" width="4.68" height="6.3"/>
<rect class="q" x="312.59" y="535.55" width="4.47" height="6.3"/>
<rect class="q" x="318.16" y="535.55" width="3.49" height="6.3"/>
<rect class="q" x="333.25" y="535.55" width="5.17" height="6.3"/>
<rect class="q" x="339.52" y="535.55" width="7.93" height="6.3"/>
<rect class="q" x="374.85" y="535.55" width="5.63" height="6.3"/>
<rect class="q" x="381.58" y="535.55" width="9.17" height="6.3"/>
<rect class="q" x="402.55" y="535.55" width="6.18" height="6.3"/>
<rect class="q" x="409.83" y="535.55" width="6.19" height="6.3"/>
<rect class="q" x="417.12" y="535.55" width="5.38" height="6.3"/>
<rect class="q" x="423.59" y="535.55" width="4.66" height="6.3"/>
<rect class="q" x="439.25" y="535.55" width="5.4" height="6.3"/>
<rect class="q" x="445.75" y="535.55" width="5.46" height="6.3"/>
<rect class="q" x="452.31" y="535.55" width="4.53" height="6.3"/>
<rect class="q" x="457.94" y="535.55" width="4.52" height="6.3"/>
<rect class="q" x="463.55" y="535.55" width="5.75" height="6.3"/>
<rect class="q" x="470.4" y="535.55" width="5.4" height="6.3"/>
<rect class="q" x="476.9" y="535.55" width="5.25" height="6.3"/>
<rect class="q" x="483.25" y="535.55" width="5.41" height="6.3"/>
<rect class="q" x="489.76" y="535.55" width="4.35" height="6.3"/>
<rect class="q" x="495.21" y="535.55" width="5.91" height="6.3"/>
<rect class="q" x="502.22" y="535.55" width="5.23" height="6.3"/>
<rect class="q" x="510.75" y="535.55" width="5.31" height="6.3"/>
<rect class="q" x="517.16" y="535.55" width="5.51" height="6.3"/>
<rect class="q" x="523.78" y="535.55" width="5.9" height="6.3"/>
<rect class="q" x="530.78" y="535.55" width="6.43" height="6.3"/>
<rect class="q" x="538.31" y="535.55" width="8.64" height="6.3"/>
<path d="M146.92 259.4v4.2M153.5 259.4v4.2M160.23 259.4v4.2M166.96 259.4v4.2M172.98 259.4v4.2M179.64 259.4v4.2M186.74 259.4v4.2M193.59 259.4v4.2M200.49 259.4v4.2M207.69 259.4v4.2M214.69 259.4v4.2M220.45 259.4v4.2M244.7 259.4v4.2M251.4 259.4v4.2M258.6 259.4v4.2M266.45 259.4v4.2M275.6 259.4v4.2M281.92 259.4v4.2M288.84 259.4v4.2M295.46 259.4v4.2M301.53 259.4v4.2M307.95 259.4v4.2M314.93 259.4v4.2M336.22 259.4v4.2M343.87 259.4v4.2M377.05 259.4v4.2M383.13 259.4v4.2M388.88 259.4v4.2M405.18 259.4v4.2M411.64 259.4v4.2M417.93 259.4v4.2M424.87 259.4v4.2M442.45 259.4v4.2M449.47 259.4v4.2M456.07 259.4v4.2M462.29 259.4v4.2M468.76 259.4v4.2M476.09 259.4v4.2M482.77 259.4v4.2M488.61 259.4v4.2M495.22 259.4v4.2M502.5 259.4v4.2M509.28 259.4v4.2M516.31 259.4v4.2M523.42 259.4v4.2M529.55 259.4v4.2M535.43 259.4v4.2M542.99 259.4v4.2M147.56 267.8v4.2M153.81 267.8v4.2M160.34 267.8v4.2M167.48 267.8v4.2M174.46 267.8v4.2M181.34 267.8v4.2M188.61 267.8v4.2M195.87 267.8v4.2M202.73 267.8v4.2M209.18 267.8v4.2M215.22 267.8v4.2M220.59 267.8v4.2M245.12 267.8v4.2M251.81 267.8v4.2M259.39 267.8v4.2M282.47 267.8v4.2M289.58 267.8v4.2M296.66 267.8v4.2M303.52 267.8v4.2M310.12 267.8v4.2M317.76 267.8v4.2M335.9 267.8v4.2M343.55 267.8v4.2M378.02 267.8v4.2M384.65 267.8v4.2M405.77 267.8v4.2M412.29 267.8v4.2M418.33 267.8v4.2M425.21 267.8v4.2M441.96 267.8v4.2M448.63 267.8v4.2M455.65 267.8v4.2M462.53 267.8v4.2M468.96 267.8v4.2M475.85 267.8v4.2M482.52 267.8v4.2M488.91 267.8v4.2M495.49 267.8v4.2M502.16 267.8v4.2M508.54 267.8v4.2M515.15 267.8v4.2M522.03 267.8v4.2M527.88 267.8v4.2M533.65 267.8v4.2M539.79 267.8v4.2M545.21 267.8v4.2M147.5 276.2v4.2M153.7 276.2v4.2M160.2 276.2v4.2M166.18 276.2v4.2M172.18 276.2v4.2M178.44 276.2v4.2M184.84 276.2v4.2M191.41 276.2v4.2M198.24 276.2v4.2M204.76 276.2v4.2M211.58 276.2v4.2M219.15 276.2v4.2M244.39 276.2v4.2M250.8 276.2v4.2M259.11 276.2v4.2M282.31 276.2v4.2M288.86 276.2v4.2M295.79 276.2v4.2M302.95 276.2v4.2M309.4 276.2v4.2M315.25 276.2v4.2M336.14 276.2v4.2M343.79 276.2v4.2M377.02 276.2v4.2M382.5 276.2v4.2M388.27 276.2v4.2M404.86 276.2v4.2M410.65 276.2v4.2M416.74 276.2v4.2M424.35 276.2v4.2M441.78 276.2v4.2M447.83 276.2v4.2M453.56 276.2v4.2M459.34 276.2v4.2M465.45 276.2v4.2M471.78 276.2v4.2M478.09 276.2v4.2M484.94 276.2v4.2M492.39 276.2v4.2M499.12 276.2v4.2M505.13 276.2v4.2M511.29 276.2v4.2M517.36 276.2v4.2M523.11 276.2v4.2M529.5 276.2v4.2M535.83 276.2v4.2M542.44 276.2v4.2M550.45 276.2v4.2M561.56 276.2v4.2M567.78 276.2v4.2M574 276.2v4.2M580.58 276.2v4.2M587.72 276.2v4.2M594.2 276.2v4.2M600.29 276.2v4.2M606.35 276.2v4.2M611.93 276.2v4.2M618.35 276.2v4.2M626.12 276.2v4.2M635.83 276.2v4.2M641.89 276.2v4.2M648.11 276.2v4.2M148.32 284.6v4.2M155.31 284.6v4.2M161.63 284.6v4.2M168.03 284.6v4.2M174.58 284.6v4.2M180.92 284.6v4.2M187.48 284.6v4.2M194.17 284.6v4.2M201.28 284.6v4.2M208.66 284.6v4.2M215.13 284.6v4.2M220.44 284.6v4.2M244.37 284.6v4.2M250.9 284.6v4.2M259.24 284.6v4.2M282.78 284.6v4.2M290.16 284.6v4.2M297.14 284.6v4.2M303.54 284.6v4.2M309.75 284.6v4.2M317.56 284.6v4.2M335.4 284.6v4.2M341.09 284.6v4.2M377.05 284.6v4.2M383.41 284.6v4.2M405.64 284.6v4.2M412.86 284.6v4.2M419.9 284.6v4.2M426.08 284.6v4.2M441.63 284.6v4.2M447.53 284.6v4.2M454.04 284.6v4.2M461.14 284.6v4.2M467.91 284.6v4.2M473.92 284.6v4.2M480.3 284.6v4.2M487.44 284.6v4.2M493.94 284.6v4.2M500.24 284.6v4.2M507.26 284.6v4.2M514.62 284.6v4.2M521.57 284.6v4.2M528.07 284.6v4.2M534.64 284.6v4.2M540.9 284.6v4.2M586 284.6v4.2M592.95 284.6v4.2M600.39 284.6v4.2M606.86 284.6v4.2M612.99 284.6v4.2M619.49 284.6v4.2M625.46 284.6v4.2M632.04 284.6v4.2M638.78 284.6v4.2M645.09 284.6v4.2M651.8 284.6v4.2M147.56 293v4.2M153.18 293v4.2M159.57 293v4.2M166.84 293v4.2M174.01 293v4.2M180.49 293v4.2M186.87 293v4.2M193.75 293v4.2M200.1 293v4.2M205.97 293v4.2M212.01 293v4.2M219 293v4.2M244.65 293v4.2M250.67 293v4.2M256.45 293v4.2M261.54 293v4.2M281.86 293v4.2M287.89 293v4.2M294.02 293v4.2M299.72 293v4.2M305.78 293v4.2M312.13 293v4.2M318.68 293v4.2M337.18 293v4.2M344.18 293v4.2M377.18 293v4.2M383.67 293v4.2M405.19 293v4.2M411.94 293v4.2M419.25 293v4.2M425.89 293v4.2M442.38 293v4.2M449.56 293v4.2M456.6 293v4.2M463.03 293v4.2M468.78 293v4.2M475.06 293v4.2M481.89 293v4.2M488.19 293v4.2M494.14 293v4.2M499.89 293v4.2M506.07 293v4.2M512.8 293v4.2M519.7 293v4.2M527.03 293v4.2M534.01 293v4.2M540.36 293v4.2M147.52 301.4v4.2M154.01 301.4v4.2M160.72 301.4v4.2M166.57 301.4v4.2M172.28 301.4v4.2M178.07 301.4v4.2M184.64 301.4v4.2M190.97 301.4v4.2M196.51 301.4v4.2M202.79 301.4v4.2M209.17 301.4v4.2M214.81 301.4v4.2M220.26 301.4v4.2M245.15 301.4v4.2M251.78 301.4v4.2M259.33 301.4v4.2M282.58 301.4v4.2M289.87 301.4v4.2M297.17 301.4v4.2M304.4 301.4v4.2M310.79 301.4v4.2M317.88 301.4v4.2M335.98 301.4v4.2M343.63 301.4v4.2M377.02 301.4v4.2M382.6 301.4v4.2M388.38 301.4v4.2M405.59 301.4v4.2M412.85 301.4v4.2M420.2 301.4v4.2M426.34 301.4v4.2M442.42 301.4v4.2M449.52 301.4v4.2M455.88 301.4v4.2M462.12 301.4v4.2M468.57 301.4v4.2M475.5 301.4v4.2M482.26 301.4v4.2M488.31 301.4v4.2M494.76 301.4v4.2M501 301.4v4.2M507.19 301.4v4.2M514.3 301.4v4.2M521.31 301.4v4.2M527.57 301.4v4.2M533.78 301.4v4.2M540.28 301.4v4.2M148.77 309.8v4.2M155.83 309.8v4.2M163.07 309.8v4.2M170.24 309.8v4.2M177.13 309.8v4.2M183.72 309.8v4.2M190.01 309.8v4.2M195.79 309.8v4.2M202.08 309.8v4.2M208.46 309.8v4.2M215.08 309.8v4.2M244.88 309.8v4.2M251.51 309.8v4.2M258.28 309.8v4.2M264.4 309.8v4.2M275.98 309.8v4.2M282.27 309.8v4.2M288.34 309.8v4.2M294.9 309.8v4.2M301.57 309.8v4.2M308.4 309.8v4.2M317.18 309.8v4.2M335.74 309.8v4.2M343.39 309.8v4.2M377.8 309.8v4.2M384.47 309.8v4.2M405.25 309.8v4.2M411.92 309.8v4.2M419.05 309.8v4.2M425.79 309.8v4.2M442.22 309.8v4.2M448.54 309.8v4.2M454.44 309.8v4.2M460.65 309.8v4.2M466.53 309.8v4.2M472.36 309.8v4.2M478.29 309.8v4.2M484.61 309.8v4.2M491.05 309.8v4.2M497.15 309.8v4.2M503.96 309.8v4.2M510.95 309.8v4.2M517.98 309.8v4.2M525.14 309.8v4.2M531.81 309.8v4.2M538.69 309.8v4.2M544.89 309.8v4.2M148.36 318.2v4.2M154.18 318.2v4.2M160.14 318.2v4.2M165.88 318.2v4.2M172.01 318.2v4.2M179.05 318.2v4.2M186.44 318.2v4.2M192.95 318.2v4.2M198.63 318.2v4.2M204.92 318.2v4.2M211.03 318.2v4.2M218.38 318.2v4.2M244.51 318.2v4.2M251.18 318.2v4.2M259.37 318.2v4.2M281.77 318.2v4.2M287.38 318.2v4.2M293.82 318.2v4.2M300.52 318.2v4.2M306.57 318.2v4.2M312.45 318.2v4.2M318.78 318.2v4.2M336.88 318.2v4.2M343.88 318.2v4.2M378.05 318.2v4.2M384.74 318.2v4.2M404.99 318.2v4.2M411.66 318.2v4.2M418.7 318.2v4.2M425.42 318.2v4.2M441.7 318.2v4.2M448.24 318.2v4.2M454.92 318.2v4.2M461.46 318.2v4.2M468.21 318.2v4.2M474.58 318.2v4.2M480.75 318.2v4.2M486.67 318.2v4.2M492.36 318.2v4.2M498.89 318.2v4.2M505.58 318.2v4.2M512.06 318.2v4.2M518.31 318.2v4.2M524.45 318.2v4.2M530.87 318.2v4.2M537.21 318.2v4.2M543.98 318.2v4.2M149.32 326.6v4.2M155.59 326.6v4.2M161.79 326.6v4.2M168.31 326.6v4.2M175.3 326.6v4.2M182.46 326.6v4.2M189.23 326.6v4.2M196.29 326.6v4.2M202.84 326.6v4.2M209.21 326.6v4.2M217.87 326.6v4.2M244.88 326.6v4.2M251.24 326.6v4.2M259.06 326.6v4.2M282.46 326.6v4.2M289.54 326.6v4.2M296.55 326.6v4.2M303.2 326.6v4.2M309.9 326.6v4.2M317.77 326.6v4.2M336 326.6v4.2M343.65 326.6v4.2M377.27 326.6v4.2M383.01 326.6v4.2M388.54 326.6v4.2M405.44 326.6v4.2M411.84 326.6v4.2M417.76 326.6v4.2M424.76 326.6v4.2M441.56 326.6v4.2M447.73 326.6v4.2M454.12 326.6v4.2M460.78 326.6v4.2M467.68 326.6v4.2M474.52 326.6v4.2M480.94 326.6v4.2M487.26 326.6v4.2M494.06 326.6v4.2M500.62 326.6v4.2M507.37 326.6v4.2M514.53 326.6v4.2M520.97 326.6v4.2M526.81 326.6v4.2M532.93 326.6v4.2M538.95 326.6v4.2M544.69 326.6v4.2M149.31 335v4.2M155.62 335v4.2M162.15 335v4.2M168.57 335v4.2M175.06 335v4.2M181.59 335v4.2M188.1 335v4.2M194.14 335v4.2M199.94 335v4.2M206.51 335v4.2M213.84 335v4.2M220.23 335v4.2M244.54 335v4.2M250.59 335v4.2M256.43 335v4.2M261.49 335v4.2M282.68 335v4.2M289.13 335v4.2M294.61 335v4.2M301.07 335v4.2M307.71 335v4.2M314.1 335v4.2M319.9 335v4.2M336.09 335v4.2M343.74 335v4.2M377.09 335v4.2M383.47 335v4.2M405.16 335v4.2M411.43 335v4.2M417.96 335v4.2M425.09 335v4.2M442.21 335v4.2M449.19 335v4.2M455.51 335v4.2M461.71 335v4.2M468.36 335v4.2M475.4 335v4.2M482.24 335v4.2M488.3 335v4.2M494.45 335v4.2M500.62 335v4.2M506.56 335v4.2M513.27 335v4.2M519.96 335v4.2M526.41 335v4.2M532.88 335v4.2M539.44 335v4.2M149.41 343.4v4.2M155.54 343.4v4.2M161.57 343.4v4.2M167.48 343.4v4.2M173.97 343.4v4.2M180.5 343.4v4.2M186.4 343.4v4.2M191.89 343.4v4.2M198.11 343.4v4.2M205.34 343.4v4.2M212.29 343.4v4.2M219.25 343.4v4.2M244.58 343.4v4.2M250.47 343.4v4.2M256.58 343.4v4.2M263.39 343.4v4.2M278.25 343.4v4.2M284.57 343.4v4.2M291.34 343.4v4.2M298.68 343.4v4.2M305.21 343.4v4.2M311.39 343.4v4.2M318.39 343.4v4.2M336.46 343.4v4.2M344.11 343.4v4.2M377.36 343.4v4.2M383.36 343.4v4.2M388.8 343.4v4.2M405.33 343.4v4.2M411.8 343.4v4.2M418.01 343.4v4.2M424.95 343.4v4.2M441.95 343.4v4.2M448.19 343.4v4.2M454.5 343.4v4.2M461.11 343.4v4.2M468.14 343.4v4.2M475.69 343.4v4.2M482.22 343.4v4.2M488.27 343.4v4.2M495.13 343.4v4.2M502.34 343.4v4.2M509.55 343.4v4.2M516.5 343.4v4.2M523.3 343.4v4.2M529.79 343.4v4.2M535.9 343.4v4.2M543.21 343.4v4.2M561.17 343.4v4.2M566.98 343.4v4.2M579.07 343.4v4.2M585.47 343.4v4.2M594.99 343.4v4.2M601.87 343.4v4.2M608.51 343.4v4.2M615.23 343.4v4.2M623.45 343.4v4.2M633.95 343.4v4.2M641.01 343.4v4.2M648.86 343.4v4.2M149.29 351.8v4.2M155.66 351.8v4.2M162.92 351.8v4.2M169.66 351.8v4.2M175.58 351.8v4.2M181.34 351.8v4.2M187.54 351.8v4.2M194.49 351.8v4.2M201.56 351.8v4.2M208.68 351.8v4.2M215.33 351.8v4.2M220.63 351.8v4.2M244.98 351.8v4.2M251.85 351.8v4.2M259.57 351.8v4.2M282.29 351.8v4.2M288.93 351.8v4.2M295.59 351.8v4.2M302.32 351.8v4.2M309.11 351.8v4.2M315.53 351.8v4.2M337.2 351.8v4.2M344.2 351.8v4.2M377.15 351.8v4.2M382.7 351.8v4.2M388.35 351.8v4.2M405.79 351.8v4.2M412.53 351.8v4.2M419.01 351.8v4.2M425.67 351.8v4.2M442.36 351.8v4.2M449.66 351.8v4.2M456.86 351.8v4.2M463.69 351.8v4.2M470.06 351.8v4.2M476.63 351.8v4.2M483.29 351.8v4.2M490.13 351.8v4.2M496.71 351.8v4.2M503.34 351.8v4.2M510.74 351.8v4.2M517.56 351.8v4.2M523.62 351.8v4.2M530.12 351.8v4.2M536.42 351.8v4.2M543.32 351.8v4.2M562.55 351.8v4.2M579.67 351.8v4.2M586.27 351.8v4.2M592.88 351.8v4.2M604.57 351.8v4.2M611.97 351.8v4.2M619.39 351.8v4.2M626.74 351.8v4.2M638.67 351.8v4.2M645.52 351.8v4.2M149.45 360.2v4.2M155.58 360.2v4.2M161.57 360.2v4.2M167.11 360.2v4.2M173.62 360.2v4.2M180.46 360.2v4.2M187.17 360.2v4.2M193.67 360.2v4.2M199.74 360.2v4.2M205.83 360.2v4.2M211.85 360.2v4.2M219.01 360.2v4.2M245.39 360.2v4.2M252.71 360.2v4.2M260.01 360.2v4.2M281.87 360.2v4.2M288.27 360.2v4.2M295.48 360.2v4.2M302.73 360.2v4.2M310 360.2v4.2M317.95 360.2v4.2M336.19 360.2v4.2M343.84 360.2v4.2M377.49 360.2v4.2M384.11 360.2v4.2M405.22 360.2v4.2M411.51 360.2v4.2M417.89 360.2v4.2M425 360.2v4.2M442.47 360.2v4.2M449.24 360.2v4.2M455.66 360.2v4.2M462.69 360.2v4.2M469.08 360.2v4.2M475.44 360.2v4.2M482.45 360.2v4.2M489.59 360.2v4.2M496.85 360.2v4.2M503.38 360.2v4.2M509.99 360.2v4.2M517.26 360.2v4.2M523.99 360.2v4.2M530.42 360.2v4.2M537.1 360.2v4.2M543.96 360.2v4.2M562.55 360.2v4.2M580.29 360.2v4.2M586.95 360.2v4.2M595.51 360.2v4.2M605.41 360.2v4.2M612.1 360.2v4.2M618.07 360.2v4.2M624.25 360.2v4.2M630.21 360.2v4.2M637.75 360.2v4.2M645.55 360.2v4.2M150.57 368.6v4.2M156.92 368.6v4.2M162.86 368.6v4.2M169.46 368.6v4.2M175.94 368.6v4.2M182.16 368.6v4.2M189.32 368.6v4.2M196.73 368.6v4.2M203.7 368.6v4.2M209.81 368.6v4.2M215.51 368.6v4.2M220.71 368.6v4.2M244.73 368.6v4.2M251.06 368.6v4.2M257.06 368.6v4.2M282.31 368.6v4.2M289.13 368.6v4.2M296.28 368.6v4.2M302.77 368.6v4.2M308.77 368.6v4.2M314.67 368.6v4.2M319.81 368.6v4.2M336.01 368.6v4.2M343.66 368.6v4.2M377.88 368.6v4.2M386.38 368.6v4.2M405.11 368.6v4.2M411.43 368.6v4.2M417.88 368.6v4.2M424.96 368.6v4.2M441.47 368.6v4.2M448 368.6v4.2M455.35 368.6v4.2M461.69 368.6v4.2M467.37 368.6v4.2M473.5 368.6v4.2M479.6 368.6v4.2M485.45 368.6v4.2M492.15 368.6v4.2M499.29 368.6v4.2M505.81 368.6v4.2M512.46 368.6v4.2M518.89 368.6v4.2M524.73 368.6v4.2M530.55 368.6v4.2M537.1 368.6v4.2M544.12 368.6v4.2M565.35 368.6v4.2M584.5 368.6v4.2M596.2 368.6v4.2M605.1 368.6v4.2M611.46 368.6v4.2M617.7 368.6v4.2M623.8 368.6v4.2M629.8 368.6v4.2M639.1 368.6v4.2M651.5 368.6v4.2M150.45 377v4.2M157.42 377v4.2M163.94 377v4.2M169.98 377v4.2M176.86 377v4.2M183.87 377v4.2M190.52 377v4.2M196.61 377v4.2M202.26 377v4.2M208.11 377v4.2M214.8 377v4.2M220.74 377v4.2M244.75 377v4.2M251.37 377v4.2M259.32 377v4.2M270.1 377v4.2M282.62 377v4.2M289.27 377v4.2M295.3 377v4.2M301.1 377v4.2M306.88 377v4.2M312.71 377v4.2M318.89 377v4.2M336.49 377v4.2M344.14 377v4.2M377.26 377v4.2M383.03 377v4.2M388.57 377v4.2M405.17 377v4.2M411.72 377v4.2M417.93 377v4.2M424.77 377v4.2M441.48 377v4.2M447.33 377v4.2M453.21 377v4.2M458.95 377v4.2M465.44 377v4.2M471.88 377v4.2M477.81 377v4.2M483.64 377v4.2M489.96 377v4.2M496.85 377v4.2M503.1 377v4.2M509.05 377v4.2M515.83 377v4.2M523.12 377v4.2M529.42 377v4.2M535.72 377v4.2M543.39 377v4.2M150.19 385.4v4.2M156.63 385.4v4.2M163.13 385.4v4.2M168.92 385.4v4.2M174.89 385.4v4.2M181.67 385.4v4.2M188.69 385.4v4.2M195.02 385.4v4.2M201.02 385.4v4.2M207.55 385.4v4.2M214.69 385.4v4.2M220.71 385.4v4.2M244.99 385.4v4.2M251.93 385.4v4.2M259.64 385.4v4.2M270.1 385.4v4.2M282.17 385.4v4.2M288.37 385.4v4.2M294.44 385.4v4.2M300.83 385.4v4.2M307.94 385.4v4.2M316.95 385.4v4.2M335.44 385.4v4.2M341.24 385.4v4.2M377.91 385.4v4.2M384.41 385.4v4.2M405.76 385.4v4.2M412.55 385.4v4.2M418.64 385.4v4.2M425.25 385.4v4.2M442.34 385.4v4.2M448.79 385.4v4.2M454.58 385.4v4.2M460.87 385.4v4.2M467.61 385.4v4.2M474.55 385.4v4.2M481.5 385.4v4.2M488.73 385.4v4.2M496.02 385.4v4.2M503.05 385.4v4.2M510.02 385.4v4.2M516.3 385.4v4.2M522.67 385.4v4.2M529.18 385.4v4.2M535.32 385.4v4.2M542.99 385.4v4.2M569.45 385.4v4.2M584.5 385.4v4.2M595.8 385.4v4.2M602.25 385.4v4.2M608.2 385.4v4.2M614.73 385.4v4.2M621.88 385.4v4.2M629.64 385.4v4.2M152.75 393.8v4.2M158.79 393.8v4.2M165.76 393.8v4.2M172.36 393.8v4.2M178.87 393.8v4.2M185.23 393.8v4.2M191.04 393.8v4.2M197.35 393.8v4.2M204.07 393.8v4.2M211.22 393.8v4.2M218.96 393.8v4.2M244.35 393.8v4.2M250.1 393.8v4.2M256.4 393.8v4.2M282.59 393.8v4.2M289.82 393.8v4.2M296.29 393.8v4.2M302.32 393.8v4.2M308.23 393.8v4.2M314.22 393.8v4.2M319.85 393.8v4.2M336.32 393.8v4.2M343.97 393.8v4.2M377.76 393.8v4.2M386.26 393.8v4.2M405.52 393.8v4.2M412.11 393.8v4.2M418.32 393.8v4.2M425.12 393.8v4.2M441.77 393.8v4.2M447.62 393.8v4.2M453.54 393.8v4.2M459.95 393.8v4.2M466.84 393.8v4.2M473.91 393.8v4.2M480.68 393.8v4.2M487.16 393.8v4.2M493.64 393.8v4.2M499.97 393.8v4.2M506.6 393.8v4.2M513.8 393.8v4.2M520.99 393.8v4.2M527.48 393.8v4.2M533.78 393.8v4.2M542.36 393.8v4.2M569.45 393.8v4.2M587.45 393.8v4.2M597.55 393.8v4.2M612.35 393.8v4.2M625.25 393.8v4.2M153.95 402.2v4.2M160.65 402.2v4.2M166.74 402.2v4.2M172.77 402.2v4.2M179.28 402.2v4.2M185.72 402.2v4.2M191.98 402.2v4.2M198.73 402.2v4.2M206.22 402.2v4.2M213.27 402.2v4.2M219.78 402.2v4.2M245.18 402.2v4.2M252.53 402.2v4.2M260.04 402.2v4.2M282.45 402.2v4.2M289.38 402.2v4.2M296.06 402.2v4.2M302.34 402.2v4.2M308.32 402.2v4.2M314.37 402.2v4.2M319.86 402.2v4.2M336.26 402.2v4.2M343.91 402.2v4.2M377.02 402.2v4.2M382.82 402.2v4.2M388.61 402.2v4.2M405.29 402.2v4.2M411.9 402.2v4.2M418.6 402.2v4.2M425.4 402.2v4.2M442.25 402.2v4.2M448.88 402.2v4.2M455.6 402.2v4.2M462.34 402.2v4.2M469.12 402.2v4.2M476.02 402.2v4.2M482.05 402.2v4.2M487.91 402.2v4.2M494.03 402.2v4.2M500.77 402.2v4.2M508.23 402.2v4.2M515.64 402.2v4.2M522.56 402.2v4.2M528.81 402.2v4.2M534.92 402.2v4.2M542.77 402.2v4.2M153.95 410.6v4.2M160.14 410.6v4.2M165.9 410.6v4.2M172.02 410.6v4.2M178.57 410.6v4.2M185.31 410.6v4.2M192.19 410.6v4.2M198.85 410.6v4.2M204.81 410.6v4.2M211.08 410.6v4.2M218.79 410.6v4.2M244.57 410.6v4.2M251.23 410.6v4.2M259.37 410.6v4.2M282.55 410.6v4.2M288.85 410.6v4.2M294.91 410.6v4.2M301.56 410.6v4.2M308.05 410.6v4.2M313.95 410.6v4.2M319.45 410.6v4.2M335.96 410.6v4.2M343.61 410.6v4.2M377.08 410.6v4.2M382.59 410.6v4.2M388.31 410.6v4.2M405.48 410.6v4.2M412.38 410.6v4.2M419.18 410.6v4.2M425.68 410.6v4.2M442.21 410.6v4.2M449.16 410.6v4.2M456.38 410.6v4.2M463.53 410.6v4.2M469.7 410.6v4.2M475.77 410.6v4.2M482.49 410.6v4.2M488.73 410.6v4.2M494.49 410.6v4.2M501.12 410.6v4.2M508.57 410.6v4.2M515.15 410.6v4.2M520.95 410.6v4.2M526.99 410.6v4.2M533.06 410.6v4.2M539.33 410.6v4.2M545.04 410.6v4.2M569.45 410.6v4.2M588.35 410.6v4.2M598.05 410.6v4.2M616.05 410.6v4.2M626.15 410.6v4.2M153.99 419v4.2M160.48 419v4.2M166.88 419v4.2M173.93 419v4.2M180.57 419v4.2M186.73 419v4.2M193.43 419v4.2M200.14 419v4.2M207.16 419v4.2M214.04 419v4.2M220.1 419v4.2M245.02 419v4.2M251.96 419v4.2M259.64 419v4.2M282.49 419v4.2M289.4 419v4.2M296.08 419v4.2M303 419v4.2M310.38 419v4.2M318.15 419v4.2M335.75 419v4.2M343.4 419v4.2M377.12 419v4.2M382.86 419v4.2M388.55 419v4.2M404.78 419v4.2M410.36 419v4.2M416.72 419v4.2M424.54 419v4.2M441.73 419v4.2M447.75 419v4.2M454.47 419v4.2M461.92 419v4.2M468.74 419v4.2M475.13 419v4.2M481.32 419v4.2M487.32 419v4.2M493.93 419v4.2M500.55 419v4.2M506.54 419v4.2M512.86 419v4.2M519.94 419v4.2M527.3 419v4.2M533.89 419v4.2M540.31 419v4.2M588.85 419v4.2M597.3 419v4.2M616.5 419v4.2M626.15 419v4.2M153.65 427.4v4.2M159.63 427.4v4.2M165.98 427.4v4.2M172.51 427.4v4.2M178.44 427.4v4.2M185.05 427.4v4.2M192.06 427.4v4.2M198.19 427.4v4.2M203.8 427.4v4.2M209.93 427.4v4.2M218.17 427.4v4.2M238.12 427.4v4.2M244.99 427.4v4.2M252.06 427.4v4.2M259.8 427.4v4.2M282.52 427.4v4.2M289.47 427.4v4.2M295.85 427.4v4.2M302.48 427.4v4.2M309.08 427.4v4.2M315.21 427.4v4.2M336.25 427.4v4.2M343.9 427.4v4.2M377.52 427.4v4.2M384.05 427.4v4.2M405.16 427.4v4.2M412.02 427.4v4.2M419.52 427.4v4.2M426.06 427.4v4.2M442.03 427.4v4.2M448.3 427.4v4.2M454.11 427.4v4.2M460.5 427.4v4.2M467.78 427.4v4.2M475.03 427.4v4.2M481.31 427.4v4.2M487.3 427.4v4.2M494.08 427.4v4.2M501.44 427.4v4.2M508.9 427.4v4.2M515.37 427.4v4.2M521.68 427.4v4.2M528.1 427.4v4.2M533.85 427.4v4.2M539.48 427.4v4.2M544.88 427.4v4.2M590.2 427.4v4.2M602 427.4v4.2M626.65 427.4v4.2M154.36 435.8v4.2M161.81 435.8v4.2M168.45 435.8v4.2M174.92 435.8v4.2M181.52 435.8v4.2M188.05 435.8v4.2M195.02 435.8v4.2M201.4 435.8v4.2M207.19 435.8v4.2M213.07 435.8v4.2M219.5 435.8v4.2M244.62 435.8v4.2M250.95 435.8v4.2M257.18 435.8v4.2M282.41 435.8v4.2M288.71 435.8v4.2M294.36 435.8v4.2M300.33 435.8v4.2M306.96 435.8v4.2M313.94 435.8v4.2M319.84 435.8v4.2M336.72 435.8v4.2M343.72 435.8v4.2M377.16 435.8v4.2M383.1 435.8v4.2M388.73 435.8v4.2M404.98 435.8v4.2M410.73 435.8v4.2M416.28 435.8v4.2M421.95 435.8v4.2M441.61 435.8v4.2M448.24 435.8v4.2M455.27 435.8v4.2M461.35 435.8v4.2M466.97 435.8v4.2M473.3 435.8v4.2M479.89 435.8v4.2M486.5 435.8v4.2M492.94 435.8v4.2M499.47 435.8v4.2M506.63 435.8v4.2M513.02 435.8v4.2M519.17 435.8v4.2M525.42 435.8v4.2M531.81 435.8v4.2M538.87 435.8v4.2M544.98 435.8v4.2M590.2 435.8v4.2M626.65 435.8v4.2M153.65 444.2v4.2M159.72 444.2v4.2M165.8 444.2v4.2M171.81 444.2v4.2M177.67 444.2v4.2M183.95 444.2v4.2M190.31 444.2v4.2M196.02 444.2v4.2M201.8 444.2v4.2M208.42 444.2v4.2M215.47 444.2v4.2M244.36 444.2v4.2M250.66 444.2v4.2M257 444.2v4.2M281.78 444.2v4.2M288.08 444.2v4.2M295.15 444.2v4.2M301.88 444.2v4.2M307.85 444.2v4.2M313.78 444.2v4.2M319.56 444.2v4.2M337.15 444.2v4.2M344.15 444.2v4.2M377.78 444.2v4.2M384.36 444.2v4.2M405.22 444.2v4.2M412.19 444.2v4.2M419.31 444.2v4.2M425.74 444.2v4.2M441.67 444.2v4.2M447.63 444.2v4.2M453.82 444.2v4.2M460.83 444.2v4.2M467.48 444.2v4.2M473.99 444.2v4.2M480.68 444.2v4.2M486.62 444.2v4.2M493.03 444.2v4.2M499.63 444.2v4.2M505.61 444.2v4.2M511.67 444.2v4.2M518.44 444.2v4.2M525.69 444.2v4.2M532.67 444.2v4.2M538.72 444.2v4.2M544.46 444.2v4.2M590.2 444.2v4.2M629.35 444.2v4.2M154.02 452.6v4.2M160.19 452.6v4.2M166.6 452.6v4.2M173.56 452.6v4.2M180.06 452.6v4.2M186.34 452.6v4.2M192.97 452.6v4.2M200.09 452.6v4.2M207.31 452.6v4.2M213.9 452.6v4.2M219.92 452.6v4.2M245.35 452.6v4.2M252.05 452.6v4.2M259.4 452.6v4.2M282.65 452.6v4.2M289.72 452.6v4.2M296.46 452.6v4.2M303 452.6v4.2M309.53 452.6v4.2M315.58 452.6v4.2M336.42 452.6v4.2M344.07 452.6v4.2M377.81 452.6v4.2M384.22 452.6v4.2M405.57 452.6v4.2M412.05 452.6v4.2M418.65 452.6v4.2M425.58 452.6v4.2M441.95 452.6v4.2M448.89 452.6v4.2M456.27 452.6v4.2M463.71 452.6v4.2M470.73 452.6v4.2M477.71 452.6v4.2M484.76 452.6v4.2M490.93 452.6v4.2M497.18 452.6v4.2M504.16 452.6v4.2M510.91 452.6v4.2M517.44 452.6v4.2M523.79 452.6v4.2M529.77 452.6v4.2M535.94 452.6v4.2M543.3 452.6v4.2M630.15 452.6v4.2M154.4 461v4.2M161.14 461v4.2M167.75 461v4.2M174.5 461v4.2M180.77 461v4.2M186.99 461v4.2M193.43 461v4.2M200.02 461v4.2M206.07 461v4.2M212.27 461v4.2M219.31 461v4.2M245.22 461v4.2M252.14 461v4.2M259.62 461v4.2M282.48 461v4.2M289.41 461v4.2M296.61 461v4.2M303.74 461v4.2M309.99 461v4.2M317.53 461v4.2M336.94 461v4.2M343.94 461v4.2M377.15 461v4.2M383.69 461v4.2M405 461v4.2M411.28 461v4.2M417.27 461v4.2M424.4 461v4.2M441.42 461v4.2M447.72 461v4.2M454.07 461v4.2M460.44 461v4.2M467.42 461v4.2M473.52 461v4.2M479.92 461v4.2M486.61 461v4.2M492.88 461v4.2M499.85 461v4.2M506.7 461v4.2M512.6 461v4.2M518.31 461v4.2M524.75 461v4.2M531.12 461v4.2M537.02 461v4.2M543.78 461v4.2M630.15 461v4.2M153.58 469.4v4.2M159.51 469.4v4.2M166.24 469.4v4.2M175.41 469.4v4.2M186.28 469.4v4.2M193.36 469.4v4.2M200.62 469.4v4.2M207.49 469.4v4.2M214.46 469.4v4.2M220.57 469.4v4.2M245.16 469.4v4.2M252 469.4v4.2M259.53 469.4v4.2M282.33 469.4v4.2M289.15 469.4v4.2M295.81 469.4v4.2M302.71 469.4v4.2M310.22 469.4v4.2M318.08 469.4v4.2M337.57 469.4v4.2M344.57 469.4v4.2M377.35 469.4v4.2M383.93 469.4v4.2M405.72 469.4v4.2M412.22 469.4v4.2M418.74 469.4v4.2M425.63 469.4v4.2M442.25 469.4v4.2M448.62 469.4v4.2M454.44 469.4v4.2M460.27 469.4v4.2M466.75 469.4v4.2M473.6 469.4v4.2M480.28 469.4v4.2M486.76 469.4v4.2M493.25 469.4v4.2M500.17 469.4v4.2M513.82 469.4v4.2M521.03 469.4v4.2M527.65 469.4v4.2M534.04 469.4v4.2M542.45 469.4v4.2M630.15 469.4v4.2M154.26 477.8v4.2M160.72 477.8v4.2M166.52 477.8v4.2M173.17 477.8v4.2M185.78 477.8v4.2M192.36 477.8v4.2M199 477.8v4.2M205.59 477.8v4.2M212.18 477.8v4.2M219.06 477.8v4.2M244.81 477.8v4.2M251.62 477.8v4.2M259.51 477.8v4.2M281.88 477.8v4.2M287.62 477.8v4.2M293.69 477.8v4.2M300.15 477.8v4.2M306.38 477.8v4.2M312.48 477.8v4.2M318.89 477.8v4.2M337.05 477.8v4.2M344.05 477.8v4.2M377.86 477.8v4.2M386.36 477.8v4.2M405.72 477.8v4.2M412.36 477.8v4.2M419.03 477.8v4.2M425.79 477.8v4.2M441.63 477.8v4.2M447.34 477.8v4.2M453.38 477.8v4.2M460.08 477.8v4.2M467.04 477.8v4.2M473.53 477.8v4.2M479.31 477.8v4.2M485.14 477.8v4.2M490.97 477.8v4.2M496.69 477.8v4.2M503.8 477.8v4.2M513.81 477.8v4.2M521.11 477.8v4.2M528.05 477.8v4.2M534.49 477.8v4.2M542.58 477.8v4.2M631.9 477.8v4.2M153.64 486.2v4.2M160 486.2v4.2M166.13 486.2v4.2M172.19 486.2v4.2M178.12 486.2v4.2M186.44 486.2v4.2M192.93 486.2v4.2M199.31 486.2v4.2M206.36 486.2v4.2M213.18 486.2v4.2M219.69 486.2v4.2M244.64 486.2v4.2M250.73 486.2v4.2M258.79 486.2v4.2M282.63 486.2v4.2M289.68 486.2v4.2M295.96 486.2v4.2M302.22 486.2v4.2M308.37 486.2v4.2M314.4 486.2v4.2M319.93 486.2v4.2M339.92 486.2v4.2M345.47 486.2v4.2M377.36 486.2v4.2M383.17 486.2v4.2M388.6 486.2v4.2M405.25 486.2v4.2M411.74 486.2v4.2M417.89 486.2v4.2M424.8 486.2v4.2M441.56 486.2v4.2M447.64 486.2v4.2M453.71 486.2v4.2M460.01 486.2v4.2M466.93 486.2v4.2M473.73 486.2v4.2M480.84 486.2v4.2M487.37 486.2v4.2M493.6 486.2v4.2M500.67 486.2v4.2M513.25 486.2v4.2M520 486.2v4.2M527.26 486.2v4.2M534.48 486.2v4.2M542.82 486.2v4.2M153.71 494.6v4.2M160.08 494.6v4.2M166.69 494.6v4.2M172.98 494.6v4.2M178.36 494.6v4.2M186.37 494.6v4.2M193.41 494.6v4.2M200.24 494.6v4.2M206.48 494.6v4.2M213.17 494.6v4.2M219.94 494.6v4.2M238.13 494.6v4.2M245.17 494.6v4.2M251.6 494.6v4.2M259.17 494.6v4.2M282.46 494.6v4.2M288.93 494.6v4.2M294.69 494.6v4.2M300.56 494.6v4.2M306.39 494.6v4.2M312.88 494.6v4.2M319.42 494.6v4.2M340.01 494.6v4.2M345.56 494.6v4.2M377.98 494.6v4.2M386.48 494.6v4.2M405.16 494.6v4.2M411.37 494.6v4.2M418.19 494.6v4.2M425.38 494.6v4.2M441.61 494.6v4.2M448.07 494.6v4.2M454.74 494.6v4.2M460.68 494.6v4.2M467.2 494.6v4.2M474.08 494.6v4.2M480.4 494.6v4.2M486.89 494.6v4.2M493.23 494.6v4.2M498.93 494.6v4.2M504.83 494.6v4.2M513.03 494.6v4.2M518.8 494.6v4.2M524.78 494.6v4.2M530.98 494.6v4.2M537.24 494.6v4.2M543.92 494.6v4.2M153.31 503v4.2M159.46 503v4.2M166.1 503v4.2M172.66 503v4.2M178.41 503v4.2M186.57 503v4.2M193.27 503v4.2M199.97 503v4.2M207.09 503v4.2M213.33 503v4.2M219.55 503v4.2M244.43 503v4.2M250.27 503v4.2M256.58 503v4.2M282 503v4.2M288.54 503v4.2M295.46 503v4.2M302.33 503v4.2M309.44 503v4.2M317.63 503v4.2M340.05 503v4.2M345.6 503v4.2M377.92 503v4.2M384.64 503v4.2M405.22 503v4.2M411.36 503v4.2M417.16 503v4.2M424.43 503v4.2M442.01 503v4.2M448.16 503v4.2M454.24 503v4.2M460.85 503v4.2M467.07 503v4.2M472.96 503v4.2M479.45 503v4.2M486.2 503v4.2M492.87 503v4.2M499.81 503v4.2M505.68 503v4.2M513.47 503v4.2M519.46 503v4.2M525.86 503v4.2M532.72 503v4.2M539.52 503v4.2M153.63 511.4v4.2M160.17 511.4v4.2M166.47 511.4v4.2M172.2 511.4v4.2M177.96 511.4v4.2M187.87 511.4v4.2M194.66 511.4v4.2M201.08 511.4v4.2M207.49 511.4v4.2M214.19 511.4v4.2M220.39 511.4v4.2M245.13 511.4v4.2M252.18 511.4v4.2M259.75 511.4v4.2M282.15 511.4v4.2M288.57 511.4v4.2M294.72 511.4v4.2M301.3 511.4v4.2M308.23 511.4v4.2M314.7 511.4v4.2M336.28 511.4v4.2M343.93 511.4v4.2M377.66 511.4v4.2M386.16 511.4v4.2M405.57 511.4v4.2M412.58 511.4v4.2M419.62 511.4v4.2M426.01 511.4v4.2M442.35 511.4v4.2M449.13 511.4v4.2M455.12 511.4v4.2M460.89 511.4v4.2M467.13 511.4v4.2M473.37 511.4v4.2M479.5 511.4v4.2M486.02 511.4v4.2M492.49 511.4v4.2M498.93 511.4v4.2M505.09 511.4v4.2M513.24 511.4v4.2M519.25 511.4v4.2M525.82 511.4v4.2M533 511.4v4.2M539.35 511.4v4.2M544.81 511.4v4.2M154.13 519.8v4.2M161.31 519.8v4.2M167.78 519.8v4.2M175.71 519.8v4.2M187.15 519.8v4.2M193.25 519.8v4.2M199.79 519.8v4.2M206.76 519.8v4.2M213.87 519.8v4.2M220.2 519.8v4.2M238.39 519.8v4.2M245.45 519.8v4.2M251.54 519.8v4.2M259.08 519.8v4.2M282.66 519.8v4.2M289.5 519.8v4.2M296.08 519.8v4.2M303.2 519.8v4.2M309.79 519.8v4.2M317.42 519.8v4.2M340.36 519.8v4.2M377.86 519.8v4.2M386.36 519.8v4.2M405.4 519.8v4.2M412.31 519.8v4.2M419.51 519.8v4.2M426 519.8v4.2M442.32 519.8v4.2M449.06 519.8v4.2M455.73 519.8v4.2M462.27 519.8v4.2M468.09 519.8v4.2M473.66 519.8v4.2M479.6 519.8v4.2M486.45 519.8v4.2M493.04 519.8v4.2M499.15 519.8v4.2M505.17 519.8v4.2M513.78 519.8v4.2M520.15 519.8v4.2M525.68 519.8v4.2M531.67 519.8v4.2M538.32 519.8v4.2M544.61 519.8v4.2M154.34 528.2v4.2M161.23 528.2v4.2M167.73 528.2v4.2M175.95 528.2v4.2M187.21 528.2v4.2M193.56 528.2v4.2M199.94 528.2v4.2M205.97 528.2v4.2M212.38 528.2v4.2M219.39 528.2v4.2M244.6 528.2v4.2M251.38 528.2v4.2M259.48 528.2v4.2M282.6 528.2v4.2M289.56 528.2v4.2M295.86 528.2v4.2M302.58 528.2v4.2M309.79 528.2v4.2M317.7 528.2v4.2M335.92 528.2v4.2M343.57 528.2v4.2M377.47 528.2v4.2M383.75 528.2v4.2M405.33 528.2v4.2M411.92 528.2v4.2M418.09 528.2v4.2M424.9 528.2v4.2M442.22 528.2v4.2M449.22 528.2v4.2M456.44 528.2v4.2M463.79 528.2v4.2M471.07 528.2v4.2M477.73 528.2v4.2M485.16 528.2v4.2M495.03 528.2v4.2M501.06 528.2v4.2M512.93 528.2v4.2M518.46 528.2v4.2M524.75 528.2v4.2M531.57 528.2v4.2M538.17 528.2v4.2M544.46 528.2v4.2M153.46 536.6v4.2M159.46 536.6v4.2M166.28 536.6v4.2M173.18 536.6v4.2M187.22 536.6v4.2M193.69 536.6v4.2M199.89 536.6v4.2M205.89 536.6v4.2M212.4 536.6v4.2M219.33 536.6v4.2M244.42 536.6v4.2M250.77 536.6v4.2M259.04 536.6v4.2M282.57 536.6v4.2M289.54 536.6v4.2M295.83 536.6v4.2M302.49 536.6v4.2M309.15 536.6v4.2M314.82 536.6v4.2M319.9 536.6v4.2M335.83 536.6v4.2M343.48 536.6v4.2M377.67 536.6v4.2M386.17 536.6v4.2M405.64 536.6v4.2M412.92 536.6v4.2M419.81 536.6v4.2M425.92 536.6v4.2M441.95 536.6v4.2M448.48 536.6v4.2M454.57 536.6v4.2M460.19 536.6v4.2M466.43 536.6v4.2M473.1 536.6v4.2M479.52 536.6v4.2M485.95 536.6v4.2M491.94 536.6v4.2M498.17 536.6v4.2M504.84 536.6v4.2M513.41 536.6v4.2M519.92 536.6v4.2M526.73 536.6v4.2M533.99 536.6v4.2M542.63 536.6v4.2" stroke="#cdcdcd" stroke-width="0.6" fill="none"/>
<rect class="r" x="179.55" y="258.2" width="2.4" height="6.6"/>
<rect class="r" x="184.75" y="258.2" width="2.2" height="6.6"/>
<rect class="o" x="192.61" y="258.2" width="2.2" height="6.6"/>
<rect class="r" x="198.5" y="258.2" width="2" height="6.6"/>
<rect class="l" x="191.2" y="258.2" width="2" height="6.6"/>
<rect class="o" x="212.6" y="258.2" width="2.2" height="6.6"/>
<rect class="l" x="243.17" y="258.2" width="4.6" height="6.6"/>
<rect class="r" x="256.71" y="258.2" width="2.2" height="6.6"/>
<rect class="l" x="265.46" y="258.2" width="4.6" height="6.6"/>
<rect class="l" x="301.8" y="258.2" width="2.4" height="6.6"/>
<rect class="o" x="334.11" y="258.2" width="4.6" height="6.6"/>
<rect class="b" x="403.55" y="258.2" width="2.4" height="6.6"/>
<rect class="l" x="423.8" y="258.2" width="2.2" height="6.6"/>
<rect class="b" x="475.27" y="258.2" width="2.4" height="6.6"/>
<rect class="o" x="489.17" y="258.2" width="2.2" height="6.6"/>
<rect class="o" x="493.87" y="258.2" width="4.6" height="6.6"/>
<rect class="o" x="508.79" y="258.2" width="2.4" height="6.6"/>
<rect class="b" x="535.33" y="258.2" width="2.4" height="6.6"/>
<rect class="r" x="541.63" y="258.2" width="2.2" height="6.6"/>
<rect class="r" x="469" y="258.2" width="2.2" height="6.6"/>
<rect class="r" x="524.6" y="258.2" width="2.2" height="6.6"/>
<rect class="l" x="146.13" y="266.6" width="2" height="6.6"/>
<rect class="r" x="160.94" y="266.6" width="2.2" height="6.6"/>
<rect class="o" x="180.18" y="266.6" width="2" height="6.6"/>
<rect class="l" x="201.03" y="266.6" width="4.6" height="6.6"/>
<rect class="o" x="208.54" y="266.6" width="2.4" height="6.6"/>
<rect class="o" x="214.22" y="266.6" width="3" height="6.6"/>
<rect class="l" x="191.2" y="266.6" width="2" height="6.6"/>
<rect class="o" x="212.6" y="266.6" width="2.2" height="6.6"/>
<rect class="b" x="290.19" y="266.6" width="2.2" height="6.6"/>
<rect class="o" x="424.8" y="266.6" width="2.4" height="6.6"/>
<rect class="l" x="423.8" y="266.6" width="2.2" height="6.6"/>
<rect class="b" x="441.55" y="266.6" width="3" height="6.6"/>
<rect class="b" x="447.31" y="266.6" width="2" height="6.6"/>
<rect class="l" x="475.16" y="266.6" width="2.4" height="6.6"/>
<rect class="l" x="482.97" y="266.6" width="2" height="6.6"/>
<rect class="r" x="508.31" y="266.6" width="2.4" height="6.6"/>
<rect class="b" x="526.47" y="266.6" width="4.22" height="6.6"/>
<rect class="l" x="532.76" y="266.6" width="2.4" height="6.6"/>
<rect class="b" x="544.3" y="266.6" width="3" height="6.6"/>
<rect class="r" x="469" y="266.6" width="2.2" height="6.6"/>
<rect class="r" x="524.6" y="266.6" width="2.2" height="6.6"/>
<rect class="l" x="147.46" y="275" width="2.6" height="6.6"/>
<rect class="l" x="159.96" y="275" width="2.4" height="6.6"/>
<rect class="r" x="166.83" y="275" width="2.2" height="6.6"/>
<rect class="r" x="176.88" y="275" width="2.6" height="6.6"/>
<rect class="l" x="183.89" y="275" width="2.4" height="6.6"/>
<rect class="b" x="189.8" y="275" width="4.6" height="6.6"/>
<rect class="o" x="217.75" y="275" width="4.6" height="6.6"/>
<rect class="r" x="176" y="275" width="2.2" height="6.6"/>
<rect class="l" x="191.2" y="275" width="2" height="6.6"/>
<rect class="o" x="212.6" y="275" width="2.2" height="6.6"/>
<rect class="r" x="243.68" y="275" width="2.4" height="6.6"/>
<rect class="b" x="288.85" y="275" width="2.4" height="6.6"/>
<rect class="b" x="388.33" y="275" width="2.4" height="6.6"/>
<rect class="o" x="403.99" y="275" width="2.4" height="6.6"/>
<rect class="l" x="423.8" y="275" width="2.2" height="6.6"/>
<rect class="o" x="447.38" y="275" width="2.4" height="6.6"/>
<rect class="b" x="452.12" y="275" width="2" height="6.6"/>
<rect class="b" x="459.26" y="275" width="2.6" height="6.6"/>
<rect class="o" x="465.05" y="275" width="2.6" height="6.6"/>
<rect class="o" x="504.21" y="275" width="3" height="6.6"/>
<rect class="r" x="515.84" y="275" width="4.36" height="6.6"/>
<rect class="l" x="543.14" y="275" width="2.2" height="6.6"/>
<rect class="r" x="469" y="275" width="2.2" height="6.6"/>
<rect class="r" x="524.6" y="275" width="2.2" height="6.6"/>
<rect class="b" x="573.58" y="275" width="2.6" height="6.6"/>
<rect class="o" x="605.29" y="275" width="2.4" height="6.6"/>
<rect class="r" x="610.41" y="275" width="2.4" height="6.6"/>
<rect class="l" x="624.35" y="275" width="2" height="6.6"/>
<rect class="o" x="148.34" y="283.4" width="3" height="6.6"/>
<rect class="b" x="155.5" y="283.4" width="2.4" height="6.6"/>
<rect class="l" x="160.12" y="283.4" width="4.42" height="6.6"/>
<rect class="b" x="168.1" y="283.4" width="2.6" height="6.6"/>
<rect class="l" x="180.12" y="283.4" width="2" height="6.6"/>
<rect class="l" x="191.2" y="283.4" width="2" height="6.6"/>
<rect class="o" x="212.6" y="283.4" width="2.2" height="6.6"/>
<rect class="o" x="413.34" y="283.4" width="2.4" height="6.6"/>
<rect class="l" x="420.18" y="283.4" width="3" height="6.6"/>
<rect class="o" x="426.11" y="283.4" width="2" height="6.6"/>
<rect class="l" x="423.8" y="283.4" width="2.2" height="6.6"/>
<rect class="l" x="440.78" y="283.4" width="2.4" height="6.6"/>
<rect class="o" x="451.99" y="283.4" width="4.6" height="6.6"/>
<rect class="b" x="461.85" y="283.4" width="2.4" height="6.6"/>
<rect class="b" x="466.05" y="283.4" width="4.6" height="6.6"/>
<rect class="r" x="472.95" y="283.4" width="2.4" height="6.6"/>
<rect class="r" x="486.23" y="283.4" width="4.6" height="6.6"/>
<rect class="l" x="506.44" y="283.4" width="2.4" height="6.6"/>
<rect class="r" x="539.71" y="283.4" width="2.4" height="6.6"/>
<rect class="r" x="545.12" y="283.4" width="2" height="6.6"/>
<rect class="r" x="469" y="283.4" width="2.2" height="6.6"/>
<rect class="r" x="611.47" y="283.4" width="3" height="6.6"/>
<rect class="b" x="617.8" y="283.4" width="2.4" height="6.6"/>
<rect class="r" x="632.59" y="283.4" width="2.4" height="6.6"/>
<rect class="r" x="151.64" y="291.8" width="4.42" height="6.6"/>
<rect class="l" x="167.57" y="291.8" width="2.2" height="6.6"/>
<rect class="l" x="172.13" y="291.8" width="2.2" height="6.6"/>
<rect class="r" x="176" y="291.8" width="2.2" height="6.6"/>
<rect class="l" x="191.2" y="291.8" width="2" height="6.6"/>
<rect class="b" x="256.48" y="291.8" width="2.6" height="6.6"/>
<rect class="b" x="286.33" y="291.8" width="2.4" height="6.6"/>
<rect class="l" x="299.36" y="291.8" width="3" height="6.6"/>
<rect class="l" x="319.9" y="291.8" width="2.2" height="6.6"/>
<rect class="r" x="336.49" y="291.8" width="2" height="6.6"/>
<rect class="o" x="376.69" y="291.8" width="2" height="6.6"/>
<rect class="b" x="410.68" y="291.8" width="2.2" height="6.6"/>
<rect class="l" x="418.89" y="291.8" width="2.2" height="6.6"/>
<rect class="r" x="425.68" y="291.8" width="2.2" height="6.6"/>
<rect class="b" x="454.92" y="291.8" width="4.6" height="6.6"/>
<rect class="r" x="468.72" y="291.8" width="2.6" height="6.6"/>
<rect class="r" x="473.88" y="291.8" width="3" height="6.6"/>
<rect class="o" x="488.64" y="291.8" width="2.4" height="6.6"/>
<rect class="b" x="492.84" y="291.8" width="3" height="6.6"/>
<rect class="r" x="539.5" y="291.8" width="3" height="6.6"/>
<rect class="r" x="469" y="291.8" width="2.2" height="6.6"/>
<rect class="r" x="524.6" y="291.8" width="2.2" height="6.6"/>
<rect class="l" x="166.76" y="300.2" width="2" height="6.6"/>
<rect class="r" x="171.72" y="300.2" width="2.4" height="6.6"/>
<rect class="r" x="183.93" y="300.2" width="2" height="6.6"/>
<rect class="o" x="191.23" y="300.2" width="2.2" height="6.6"/>
<rect class="o" x="196.44" y="300.2" width="2.4" height="6.6"/>
<rect class="l" x="204.03" y="300.2" width="2" height="6.6"/>
<rect class="r" x="176" y="300.2" width="2.2" height="6.6"/>
<rect class="l" x="191.2" y="300.2" width="2" height="6.6"/>
<rect class="l" x="423.8" y="300.2" width="2.2" height="6.6"/>
<rect class="r" x="443.42" y="300.2" width="2.4" height="6.6"/>
<rect class="l" x="456.16" y="300.2" width="2" height="6.6"/>
<rect class="b" x="461.99" y="300.2" width="2.6" height="6.6"/>
<rect class="b" x="468.26" y="300.2" width="2.2" height="6.6"/>
<rect class="o" x="475.37" y="300.2" width="2.4" height="6.6"/>
<rect class="r" x="487.1" y="300.2" width="2.4" height="6.6"/>
<rect class="o" x="499.49" y="300.2" width="2.4" height="6.6"/>
<rect class="l" x="506.18" y="300.2" width="2.2" height="6.6"/>
<rect class="b" x="515.18" y="300.2" width="2.4" height="6.6"/>
<rect class="r" x="519.36" y="300.2" width="4.6" height="6.6"/>
<rect class="o" x="539.99" y="300.2" width="2" height="6.6"/>
<rect class="r" x="469" y="300.2" width="2.2" height="6.6"/>
<rect class="r" x="524.6" y="300.2" width="2.2" height="6.6"/>
<rect class="o" x="169.81" y="308.6" width="3" height="6.6"/>
<rect class="b" x="188.51" y="308.6" width="4.41" height="6.6"/>
<rect class="b" x="194.45" y="308.6" width="2.6" height="6.6"/>
<rect class="o" x="206.99" y="308.6" width="2.6" height="6.6"/>
<rect class="r" x="176" y="308.6" width="2.2" height="6.6"/>
<rect class="l" x="191.2" y="308.6" width="2" height="6.6"/>
<rect class="o" x="212.6" y="308.6" width="2.2" height="6.6"/>
<rect class="b" x="309.19" y="308.6" width="2.6" height="6.6"/>
<rect class="o" x="377.09" y="308.6" width="2.4" height="6.6"/>
<rect class="r" x="383.16" y="308.6" width="2.6" height="6.6"/>
<rect class="b" x="404.43" y="308.6" width="2.4" height="6.6"/>
<rect class="l" x="423.8" y="308.6" width="2.2" height="6.6"/>
<rect class="r" x="447.78" y="308.6" width="3" height="6.6"/>
<rect class="o" x="453.85" y="308.6" width="3" height="6.6"/>
<rect class="b" x="461.13" y="308.6" width="2" height="6.6"/>
<rect class="l" x="465.06" y="308.6" width="2.6" height="6.6"/>
<rect class="l" x="472.25" y="308.6" width="2" height="6.6"/>
<rect class="b" x="483.01" y="308.6" width="4.6" height="6.6"/>
<rect class="o" x="490.43" y="308.6" width="2.6" height="6.6"/>
<rect class="r" x="496.85" y="308.6" width="2.4" height="6.6"/>
<rect class="o" x="502.33" y="308.6" width="4.6" height="6.6"/>
<rect class="r" x="511.85" y="308.6" width="2.2" height="6.6"/>
<rect class="r" x="469" y="308.6" width="2.2" height="6.6"/>
<rect class="r" x="524.6" y="308.6" width="2.2" height="6.6"/>
<rect class="r" x="158.94" y="317" width="2.6" height="6.6"/>
<rect class="r" x="165.79" y="317" width="2.6" height="6.6"/>
<rect class="l" x="170.32" y="317" width="4.6" height="6.6"/>
<rect class="b" x="185.01" y="317" width="2" height="6.6"/>
<rect class="b" x="205.53" y="317" width="2.4" height="6.6"/>
<rect class="r" x="176" y="317" width="2.2" height="6.6"/>
<rect class="l" x="191.2" y="317" width="2" height="6.6"/>
<rect class="o" x="212.6" y="317" width="2.2" height="6.6"/>
<rect class="o" x="249.34" y="317" width="4.6" height="6.6"/>
<rect class="r" x="281.52" y="317" width="2.4" height="6.6"/>
<rect class="l" x="291.86" y="317" width="2.2" height="6.6"/>
<rect class="b" x="312.62" y="317" width="2.4" height="6.6"/>
<rect class="b" x="383.31" y="317" width="3" height="6.6"/>
<rect class="l" x="416.75" y="317" width="4.6" height="6.6"/>
<rect class="l" x="423.8" y="317" width="2.2" height="6.6"/>
<rect class="b" x="440.61" y="317" width="2" height="6.6"/>
<rect class="l" x="446.95" y="317" width="2.4" height="6.6"/>
<rect class="b" x="453.31" y="317" width="4.6" height="6.6"/>
<rect class="b" x="480.48" y="317" width="3" height="6.6"/>
<rect class="l" x="497.93" y="317" width="3" height="6.6"/>
<rect class="o" x="510.58" y="317" width="2" height="6.6"/>
<rect class="o" x="517.09" y="317" width="3" height="6.6"/>
<rect class="o" x="530.23" y="317" width="2.2" height="6.6"/>
<rect class="l" x="543.83" y="317" width="2" height="6.6"/>
<rect class="r" x="469" y="317" width="2.2" height="6.6"/>
<rect class="b" x="189.65" y="325.4" width="2.2" height="6.6"/>
<rect class="l" x="191.2" y="325.4" width="2" height="6.6"/>
<rect class="o" x="212.6" y="325.4" width="2.2" height="6.6"/>
<rect class="l" x="308.55" y="325.4" width="4.6" height="6.6"/>
<rect class="b" x="381.83" y="325.4" width="2.2" height="6.6"/>
<rect class="r" x="441.69" y="325.4" width="2" height="6.6"/>
<rect class="b" x="453.49" y="325.4" width="2.4" height="6.6"/>
<rect class="r" x="458.72" y="325.4" width="2.6" height="6.6"/>
<rect class="l" x="465.92" y="325.4" width="2.4" height="6.6"/>
<rect class="b" x="493.47" y="325.4" width="2.4" height="6.6"/>
<rect class="b" x="507.57" y="325.4" width="2" height="6.6"/>
<rect class="r" x="531.53" y="325.4" width="2" height="6.6"/>
<rect class="l" x="539.13" y="325.4" width="2.4" height="6.6"/>
<rect class="r" x="543.87" y="325.4" width="3" height="6.6"/>
<rect class="r" x="524.6" y="325.4" width="2.2" height="6.6"/>
<rect class="r" x="149.18" y="333.8" width="2.6" height="6.6"/>
<rect class="r" x="174.32" y="333.8" width="2.4" height="6.6"/>
<rect class="r" x="204.64" y="333.8" width="2.2" height="6.6"/>
<rect class="o" x="212.6" y="333.8" width="2.2" height="6.6"/>
<rect class="r" x="255.06" y="333.8" width="3" height="6.6"/>
<rect class="l" x="282.64" y="333.8" width="2.6" height="6.6"/>
<rect class="l" x="423.8" y="333.8" width="2.2" height="6.6"/>
<rect class="o" x="442.36" y="333.8" width="2.4" height="6.6"/>
<rect class="b" x="448.88" y="333.8" width="2.2" height="6.6"/>
<rect class="o" x="499.98" y="333.8" width="2.6" height="6.6"/>
<rect class="r" x="469" y="333.8" width="2.2" height="6.6"/>
<rect class="r" x="149.7" y="342.2" width="2.6" height="6.6"/>
<rect class="r" x="155.49" y="342.2" width="3" height="6.6"/>
<rect class="l" x="160.1" y="342.2" width="4.3" height="6.6"/>
<rect class="b" x="186.13" y="342.2" width="2.6" height="6.6"/>
<rect class="o" x="203.26" y="342.2" width="2.4" height="6.6"/>
<rect class="r" x="176" y="342.2" width="2.2" height="6.6"/>
<rect class="o" x="212.6" y="342.2" width="2.2" height="6.6"/>
<rect class="r" x="243.15" y="342.2" width="2.4" height="6.6"/>
<rect class="o" x="257.03" y="342.2" width="2.4" height="6.6"/>
<rect class="l" x="296.72" y="342.2" width="2" height="6.6"/>
<rect class="o" x="341.82" y="342.2" width="2.6" height="6.6"/>
<rect class="r" x="381.76" y="342.2" width="4.58" height="6.6"/>
<rect class="b" x="416.33" y="342.2" width="2.6" height="6.6"/>
<rect class="o" x="423.55" y="342.2" width="2.2" height="6.6"/>
<rect class="l" x="423.8" y="342.2" width="2.2" height="6.6"/>
<rect class="l" x="461.24" y="342.2" width="2.4" height="6.6"/>
<rect class="o" x="481.26" y="342.2" width="3" height="6.6"/>
<rect class="b" x="487.01" y="342.2" width="3" height="6.6"/>
<rect class="r" x="507.58" y="342.2" width="4.6" height="6.6"/>
<rect class="r" x="514.43" y="342.2" width="2.2" height="6.6"/>
<rect class="r" x="469" y="342.2" width="2.2" height="6.6"/>
<rect class="r" x="524.6" y="342.2" width="2.2" height="6.6"/>
<rect class="r" x="585.16" y="342.2" width="2.4" height="6.6"/>
<rect class="b" x="595.98" y="342.2" width="2.4" height="6.6"/>
<rect class="b" x="600.13" y="342.2" width="2.6" height="6.6"/>
<rect class="b" x="608.8" y="342.2" width="2.2" height="6.6"/>
<rect class="b" x="613.89" y="342.2" width="2.4" height="6.6"/>
<rect class="b" x="179.74" y="350.6" width="4.51" height="6.6"/>
<rect class="b" x="213.69" y="350.6" width="4.57" height="6.6"/>
<rect class="r" x="176" y="350.6" width="2.2" height="6.6"/>
<rect class="o" x="212.6" y="350.6" width="2.2" height="6.6"/>
<rect class="r" x="243.36" y="350.6" width="2.2" height="6.6"/>
<rect class="l" x="258.66" y="350.6" width="2.4" height="6.6"/>
<rect class="r" x="403.56" y="350.6" width="2" height="6.6"/>
<rect class="o" x="425.73" y="350.6" width="2.4" height="6.6"/>
<rect class="l" x="442.76" y="350.6" width="3" height="6.6"/>
<rect class="r" x="455.81" y="350.6" width="2.6" height="6.6"/>
<rect class="o" x="469.89" y="350.6" width="3" height="6.6"/>
<rect class="r" x="476.76" y="350.6" width="2.4" height="6.6"/>
<rect class="b" x="482.34" y="350.6" width="2.2" height="6.6"/>
<rect class="b" x="497.4" y="350.6" width="2.2" height="6.6"/>
<rect class="b" x="535.15" y="350.6" width="2.4" height="6.6"/>
<rect class="l" x="541.23" y="350.6" width="2.2" height="6.6"/>
<rect class="r" x="469" y="350.6" width="2.2" height="6.6"/>
<rect class="l" x="594.33" y="350.6" width="2.2" height="6.6"/>
<rect class="r" x="597.86" y="350.6" width="2.95" height="6.6"/>
<rect class="l" x="609.99" y="350.6" width="2.4" height="6.6"/>
<rect class="b" x="619.15" y="350.6" width="3" height="6.6"/>
<rect class="r" x="639.34" y="350.6" width="2.2" height="6.6"/>
<rect class="l" x="154.93" y="359" width="2.6" height="6.6"/>
<rect class="b" x="160.11" y="359" width="4.33" height="6.6"/>
<rect class="r" x="178.84" y="359" width="3" height="6.6"/>
<rect class="b" x="194.43" y="359" width="2" height="6.6"/>
<rect class="r" x="199.99" y="359" width="2.4" height="6.6"/>
<rect class="b" x="210.06" y="359" width="3" height="6.6"/>
<rect class="r" x="176" y="359" width="2.2" height="6.6"/>
<rect class="l" x="191.2" y="359" width="2" height="6.6"/>
<rect class="o" x="212.6" y="359" width="2.2" height="6.6"/>
<rect class="o" x="281.71" y="359" width="2.4" height="6.6"/>
<rect class="o" x="315.08" y="359" width="4.6" height="6.6"/>
<rect class="l" x="423.8" y="359" width="2.2" height="6.6"/>
<rect class="l" x="441.33" y="359" width="2.6" height="6.6"/>
<rect class="r" x="447.58" y="359" width="4.6" height="6.6"/>
<rect class="o" x="461.01" y="359" width="2.4" height="6.6"/>
<rect class="b" x="495.63" y="359" width="4.6" height="6.6"/>
<rect class="l" x="509" y="359" width="2.4" height="6.6"/>
<rect class="o" x="515.64" y="359" width="4.6" height="6.6"/>
<rect class="o" x="522.99" y="359" width="2" height="6.6"/>
<rect class="b" x="528.64" y="359" width="3" height="6.6"/>
<rect class="r" x="469" y="359" width="2.2" height="6.6"/>
<rect class="b" x="562.61" y="359" width="2.6" height="6.6"/>
<rect class="o" x="578.2" y="359" width="2.2" height="6.6"/>
<rect class="o" x="585.91" y="359" width="2.2" height="6.6"/>
<rect class="r" x="612.59" y="359" width="2.4" height="6.6"/>
<rect class="l" x="618.48" y="359" width="2.4" height="6.6"/>
<rect class="b" x="149.69" y="367.4" width="2.4" height="6.6"/>
<rect class="o" x="182.94" y="367.4" width="2.4" height="6.6"/>
<rect class="r" x="209.07" y="367.4" width="2.4" height="6.6"/>
<rect class="l" x="213.88" y="367.4" width="4.55" height="6.6"/>
<rect class="r" x="220.2" y="367.4" width="2.4" height="6.6"/>
<rect class="l" x="191.2" y="367.4" width="2" height="6.6"/>
<rect class="o" x="212.6" y="367.4" width="2.2" height="6.6"/>
<rect class="b" x="251.79" y="367.4" width="2" height="6.6"/>
<rect class="b" x="257.46" y="367.4" width="2" height="6.6"/>
<rect class="b" x="261.37" y="367.4" width="2.4" height="6.6"/>
<rect class="r" x="290.42" y="367.4" width="2.2" height="6.6"/>
<rect class="b" x="345.11" y="367.4" width="2.2" height="6.6"/>
<rect class="r" x="386.17" y="367.4" width="2.2" height="6.6"/>
<rect class="l" x="417.65" y="367.4" width="2.6" height="6.6"/>
<rect class="l" x="423.8" y="367.4" width="2.2" height="6.6"/>
<rect class="r" x="440.06" y="367.4" width="4.25" height="6.6"/>
<rect class="l" x="448.2" y="367.4" width="2.6" height="6.6"/>
<rect class="r" x="455.14" y="367.4" width="3" height="6.6"/>
<rect class="l" x="478.3" y="367.4" width="3" height="6.6"/>
<rect class="r" x="485.67" y="367.4" width="2.2" height="6.6"/>
<rect class="o" x="497.44" y="367.4" width="4.6" height="6.6"/>
<rect class="r" x="517.47" y="367.4" width="3" height="6.6"/>
<rect class="b" x="524.74" y="367.4" width="2.4" height="6.6"/>
<rect class="r" x="469" y="367.4" width="2.2" height="6.6"/>
<rect class="r" x="595.21" y="367.4" width="2.4" height="6.6"/>
<rect class="l" x="622.53" y="367.4" width="2.4" height="6.6"/>
<rect class="b" x="652.18" y="367.4" width="2" height="6.6"/>
<rect class="b" x="150.35" y="375.8" width="2" height="6.6"/>
<rect class="r" x="155.72" y="375.8" width="2.4" height="6.6"/>
<rect class="b" x="162.83" y="375.8" width="2" height="6.6"/>
<rect class="b" x="182.16" y="375.8" width="2.2" height="6.6"/>
<rect class="r" x="220.02" y="375.8" width="2.6" height="6.6"/>
<rect class="r" x="176" y="375.8" width="2.2" height="6.6"/>
<rect class="l" x="191.2" y="375.8" width="2" height="6.6"/>
<rect class="o" x="212.6" y="375.8" width="2.2" height="6.6"/>
<rect class="l" x="251.14" y="375.8" width="3" height="6.6"/>
<rect class="r" x="268.73" y="375.8" width="4.6" height="6.6"/>
<rect class="b" x="307.33" y="375.8" width="2.4" height="6.6"/>
<rect class="l" x="375.67" y="375.8" width="4.6" height="6.6"/>
<rect class="l" x="381.71" y="375.8" width="2.2" height="6.6"/>
<rect class="l" x="388.9" y="375.8" width="2.4" height="6.6"/>
<rect class="o" x="403.83" y="375.8" width="2.6" height="6.6"/>
<rect class="l" x="447.44" y="375.8" width="2.4" height="6.6"/>
<rect class="r" x="452.14" y="375.8" width="3" height="6.6"/>
<rect class="o" x="516.91" y="375.8" width="2" height="6.6"/>
<rect class="l" x="529.01" y="375.8" width="2.4" height="6.6"/>
<rect class="r" x="469" y="375.8" width="2.2" height="6.6"/>
<rect class="l" x="173.4" y="384.2" width="4.6" height="6.6"/>
<rect class="o" x="194.59" y="384.2" width="2.4" height="6.6"/>
<rect class="r" x="176" y="384.2" width="2.2" height="6.6"/>
<rect class="l" x="191.2" y="384.2" width="2" height="6.6"/>
<rect class="o" x="212.6" y="384.2" width="2.2" height="6.6"/>
<rect class="o" x="258.7" y="384.2" width="4.6" height="6.6"/>
<rect class="o" x="299.04" y="384.2" width="2.2" height="6.6"/>
<rect class="b" x="335.17" y="384.2" width="2.4" height="6.6"/>
<rect class="o" x="345.61" y="384.2" width="2.39" height="6.6"/>
<rect class="l" x="388.7" y="384.2" width="2.6" height="6.6"/>
<rect class="l" x="423.8" y="384.2" width="2.2" height="6.6"/>
<rect class="r" x="409.8" y="384.2" width="2" height="6.6"/>
<rect class="b" x="441.29" y="384.2" width="2.4" height="6.6"/>
<rect class="o" x="459.35" y="384.2" width="4.6" height="6.6"/>
<rect class="r" x="482.5" y="384.2" width="2" height="6.6"/>
<rect class="b" x="494.84" y="384.2" width="2.4" height="6.6"/>
<rect class="o" x="509.06" y="384.2" width="3" height="6.6"/>
<rect class="b" x="527.96" y="384.2" width="2.2" height="6.6"/>
<rect class="r" x="524.6" y="384.2" width="2.2" height="6.6"/>
<rect class="l" x="581.62" y="384.2" width="2.6" height="6.6"/>
<rect class="b" x="178.87" y="392.6" width="2.2" height="6.6"/>
<rect class="l" x="209.81" y="392.6" width="2.4" height="6.6"/>
<rect class="o" x="218.41" y="392.6" width="2.4" height="6.6"/>
<rect class="r" x="176" y="392.6" width="2.2" height="6.6"/>
<rect class="l" x="191.2" y="392.6" width="2" height="6.6"/>
<rect class="b" x="256.48" y="392.6" width="2.4" height="6.6"/>
<rect class="o" x="319.13" y="392.6" width="3" height="6.6"/>
<rect class="r" x="343.62" y="392.6" width="3" height="6.6"/>
<rect class="l" x="411.74" y="392.6" width="2.2" height="6.6"/>
<rect class="r" x="409.8" y="392.6" width="2" height="6.6"/>
<rect class="l" x="486.08" y="392.6" width="3" height="6.6"/>
<rect class="b" x="541.92" y="392.6" width="3" height="6.6"/>
<rect class="r" x="524.6" y="392.6" width="2.2" height="6.6"/>
<rect class="l" x="166.15" y="401" width="2.6" height="6.6"/>
<rect class="l" x="170.87" y="401" width="2.2" height="6.6"/>
<rect class="o" x="191.96" y="401" width="2.4" height="6.6"/>
<rect class="r" x="176" y="401" width="2.2" height="6.6"/>
<rect class="b" x="250.55" y="401" width="2.6" height="6.6"/>
<rect class="l" x="280.35" y="401" width="2.6" height="6.6"/>
<rect class="l" x="314.19" y="401" width="3" height="6.6"/>
<rect class="l" x="418.78" y="401" width="2.2" height="6.6"/>
<rect class="l" x="423.8" y="401" width="2.2" height="6.6"/>
<rect class="b" x="454.62" y="401" width="4.6" height="6.6"/>
<rect class="l" x="474.34" y="401" width="4.6" height="6.6"/>
<rect class="r" x="482.07" y="401" width="2.2" height="6.6"/>
<rect class="l" x="492.48" y="401" width="4.6" height="6.6"/>
<rect class="l" x="499.21" y="401" width="2" height="6.6"/>
<rect class="o" x="528.23" y="401" width="2.4" height="6.6"/>
<rect class="r" x="544.74" y="401" width="2.2" height="6.6"/>
<rect class="r" x="469" y="401" width="2.2" height="6.6"/>
<rect class="r" x="524.6" y="401" width="2.2" height="6.6"/>
<rect class="o" x="178.59" y="409.4" width="2.4" height="6.6"/>
<rect class="b" x="191.18" y="409.4" width="2.6" height="6.6"/>
<rect class="o" x="217.76" y="409.4" width="4.6" height="6.6"/>
<rect class="r" x="176" y="409.4" width="2.2" height="6.6"/>
<rect class="l" x="191.2" y="409.4" width="2" height="6.6"/>
<rect class="o" x="212.6" y="409.4" width="2.2" height="6.6"/>
<rect class="b" x="243.96" y="409.4" width="2" height="6.6"/>
<rect class="r" x="306.42" y="409.4" width="4.6" height="6.6"/>
<rect class="o" x="376.62" y="409.4" width="2.6" height="6.6"/>
<rect class="r" x="417.54" y="409.4" width="4.6" height="6.6"/>
<rect class="l" x="423.8" y="409.4" width="2.2" height="6.6"/>
<rect class="r" x="440.29" y="409.4" width="2" height="6.6"/>
<rect class="o" x="449" y="409.4" width="3" height="6.6"/>
<rect class="b" x="457.7" y="409.4" width="2.4" height="6.6"/>
<rect class="l" x="475.48" y="409.4" width="3" height="6.6"/>
<rect class="r" x="480.4" y="409.4" width="4.6" height="6.6"/>
<rect class="b" x="500.01" y="409.4" width="4.6" height="6.6"/>
<rect class="b" x="507.08" y="409.4" width="2.4" height="6.6"/>
<rect class="l" x="515.26" y="409.4" width="2.4" height="6.6"/>
<rect class="b" x="519.69" y="409.4" width="2" height="6.6"/>
<rect class="o" x="526.91" y="409.4" width="3" height="6.6"/>
<rect class="r" x="469" y="409.4" width="2.2" height="6.6"/>
<rect class="r" x="524.6" y="409.4" width="2.2" height="6.6"/>
<rect class="b" x="586.29" y="409.4" width="4.6" height="6.6"/>
<rect class="l" x="624.05" y="409.4" width="4.6" height="6.6"/>
<rect class="r" x="165.77" y="417.8" width="2.2" height="6.6"/>
<rect class="b" x="180.46" y="417.8" width="2.4" height="6.6"/>
<rect class="b" x="193.33" y="417.8" width="2.6" height="6.6"/>
<rect class="b" x="218.72" y="417.8" width="2" height="6.6"/>
<rect class="r" x="176" y="417.8" width="2.2" height="6.6"/>
<rect class="l" x="191.2" y="417.8" width="2" height="6.6"/>
<rect class="o" x="212.6" y="417.8" width="2.2" height="6.6"/>
<rect class="r" x="243.89" y="417.8" width="3" height="6.6"/>
<rect class="l" x="251.74" y="417.8" width="2" height="6.6"/>
<rect class="r" x="259.46" y="417.8" width="2.2" height="6.6"/>
<rect class="l" x="311.52" y="417.8" width="2" height="6.6"/>
<rect class="b" x="417.65" y="417.8" width="2" height="6.6"/>
<rect class="b" x="421.95" y="417.8" width="3" height="6.6"/>
<rect class="l" x="423.8" y="417.8" width="2.2" height="6.6"/>
<rect class="r" x="409.8" y="417.8" width="2" height="6.6"/>
<rect class="o" x="442.26" y="417.8" width="2.2" height="6.6"/>
<rect class="b" x="462.76" y="417.8" width="2.4" height="6.6"/>
<rect class="o" x="469.02" y="417.8" width="2.4" height="6.6"/>
<rect class="r" x="474.4" y="417.8" width="2.4" height="6.6"/>
<rect class="b" x="481.07" y="417.8" width="2.6" height="6.6"/>
<rect class="r" x="486.72" y="417.8" width="2.4" height="6.6"/>
<rect class="r" x="493.19" y="417.8" width="2.4" height="6.6"/>
<rect class="r" x="499.65" y="417.8" width="2.4" height="6.6"/>
<rect class="r" x="527.66" y="417.8" width="2.4" height="6.6"/>
<rect class="r" x="524.6" y="417.8" width="2.2" height="6.6"/>
<rect class="l" x="595.8" y="417.8" width="2.4" height="6.6"/>
<rect class="b" x="615.2" y="417.8" width="4.6" height="6.6"/>
<rect class="b" x="153.23" y="426.2" width="3" height="6.6"/>
<rect class="b" x="165.4" y="426.2" width="3" height="6.6"/>
<rect class="l" x="178.36" y="426.2" width="2.4" height="6.6"/>
<rect class="r" x="203.66" y="426.2" width="2" height="6.6"/>
<rect class="r" x="214.78" y="426.2" width="4.6" height="6.6"/>
<rect class="r" x="176" y="426.2" width="2.2" height="6.6"/>
<rect class="l" x="191.2" y="426.2" width="2" height="6.6"/>
<rect class="o" x="212.6" y="426.2" width="2.2" height="6.6"/>
<rect class="b" x="243.16" y="426.2" width="2.2" height="6.6"/>
<rect class="r" x="308.35" y="426.2" width="2.4" height="6.6"/>
<rect class="l" x="343.83" y="426.2" width="2.4" height="6.6"/>
<rect class="b" x="417.35" y="426.2" width="2.2" height="6.6"/>
<rect class="r" x="409.8" y="426.2" width="2" height="6.6"/>
<rect class="o" x="441.66" y="426.2" width="3" height="6.6"/>
<rect class="o" x="480.14" y="426.2" width="2.6" height="6.6"/>
<rect class="b" x="486.36" y="426.2" width="2.6" height="6.6"/>
<rect class="o" x="515.15" y="426.2" width="2.4" height="6.6"/>
<rect class="l" x="521.8" y="426.2" width="2" height="6.6"/>
<rect class="b" x="544.6" y="426.2" width="2.4" height="6.6"/>
<rect class="r" x="469" y="426.2" width="2.2" height="6.6"/>
<rect class="b" x="603.8" y="426.2" width="2" height="6.6"/>
<rect class="r" x="154.25" y="434.6" width="2.4" height="6.6"/>
<rect class="l" x="207.06" y="434.6" width="2.4" height="6.6"/>
<rect class="r" x="176" y="434.6" width="2.2" height="6.6"/>
<rect class="l" x="191.2" y="434.6" width="2" height="6.6"/>
<rect class="o" x="212.6" y="434.6" width="2.2" height="6.6"/>
<rect class="l" x="307.81" y="434.6" width="2" height="6.6"/>
<rect class="r" x="312.35" y="434.6" width="2" height="6.6"/>
<rect class="l" x="318.88" y="434.6" width="3.42" height="6.6"/>
<rect class="l" x="423.8" y="434.6" width="2.2" height="6.6"/>
<rect class="r" x="409.8" y="434.6" width="2" height="6.6"/>
<rect class="r" x="440.07" y="434.6" width="4.51" height="6.6"/>
<rect class="r" x="453.85" y="434.6" width="2.6" height="6.6"/>
<rect class="r" x="491.89" y="434.6" width="2" height="6.6"/>
<rect class="o" x="497.93" y="434.6" width="2.4" height="6.6"/>
<rect class="r" x="520.27" y="434.6" width="2.2" height="6.6"/>
<rect class="r" x="538.29" y="434.6" width="2.2" height="6.6"/>
<rect class="l" x="544.26" y="434.6" width="3" height="6.6"/>
<rect class="r" x="469" y="434.6" width="2.2" height="6.6"/>
<rect class="r" x="165.89" y="443" width="2" height="6.6"/>
<rect class="l" x="183.14" y="443" width="3" height="6.6"/>
<rect class="r" x="176" y="443" width="2.2" height="6.6"/>
<rect class="l" x="191.2" y="443" width="2" height="6.6"/>
<rect class="o" x="212.6" y="443" width="2.2" height="6.6"/>
<rect class="l" x="243.11" y="443" width="2.6" height="6.6"/>
<rect class="b" x="286.62" y="443" width="4.6" height="6.6"/>
<rect class="l" x="388.85" y="443" width="2.55" height="6.6"/>
<rect class="r" x="424.23" y="443" width="2.4" height="6.6"/>
<rect class="r" x="409.8" y="443" width="2" height="6.6"/>
<rect class="l" x="461.52" y="443" width="2.4" height="6.6"/>
<rect class="b" x="466.68" y="443" width="2.4" height="6.6"/>
<rect class="b" x="472.04" y="443" width="2.4" height="6.6"/>
<rect class="o" x="480.75" y="443" width="2.4" height="6.6"/>
<rect class="l" x="518.93" y="443" width="2.2" height="6.6"/>
<rect class="o" x="531.77" y="443" width="2.4" height="6.6"/>
<rect class="o" x="543.32" y="443" width="3" height="6.6"/>
<rect class="r" x="469" y="443" width="2.2" height="6.6"/>
<rect class="l" x="628.16" y="443" width="4.6" height="6.6"/>
<rect class="r" x="153.06" y="451.4" width="2" height="6.6"/>
<rect class="l" x="159.24" y="451.4" width="2" height="6.6"/>
<rect class="r" x="166.92" y="451.4" width="2.4" height="6.6"/>
<rect class="b" x="172.48" y="451.4" width="3" height="6.6"/>
<rect class="o" x="192.23" y="451.4" width="2.6" height="6.6"/>
<rect class="l" x="213.51" y="451.4" width="2.4" height="6.6"/>
<rect class="o" x="218.37" y="451.4" width="4.6" height="6.6"/>
<rect class="r" x="176" y="451.4" width="2.2" height="6.6"/>
<rect class="l" x="191.2" y="451.4" width="2" height="6.6"/>
<rect class="o" x="212.6" y="451.4" width="2.2" height="6.6"/>
<rect class="b" x="288.08" y="451.4" width="4.6" height="6.6"/>
<rect class="l" x="302.37" y="451.4" width="3" height="6.6"/>
<rect class="b" x="308.53" y="451.4" width="3" height="6.6"/>
<rect class="b" x="388.48" y="451.4" width="2.88" height="6.6"/>
<rect class="l" x="423.8" y="451.4" width="2.2" height="6.6"/>
<rect class="r" x="409.8" y="451.4" width="2" height="6.6"/>
<rect class="r" x="447.01" y="451.4" width="4.6" height="6.6"/>
<rect class="b" x="470.33" y="451.4" width="2.2" height="6.6"/>
<rect class="o" x="478.86" y="451.4" width="2.2" height="6.6"/>
<rect class="o" x="484.42" y="451.4" width="3" height="6.6"/>
<rect class="l" x="511.48" y="451.4" width="2.4" height="6.6"/>
<rect class="r" x="518.01" y="451.4" width="2.4" height="6.6"/>
<rect class="b" x="541.21" y="451.4" width="2.4" height="6.6"/>
<rect class="r" x="469" y="451.4" width="2.2" height="6.6"/>
<rect class="b" x="155.17" y="459.8" width="2.4" height="6.6"/>
<rect class="o" x="180.24" y="459.8" width="2.2" height="6.6"/>
<rect class="b" x="198.93" y="459.8" width="3" height="6.6"/>
<rect class="r" x="205.99" y="459.8" width="2.4" height="6.6"/>
<rect class="r" x="176" y="459.8" width="2.2" height="6.6"/>
<rect class="l" x="191.2" y="459.8" width="2" height="6.6"/>
<rect class="o" x="212.6" y="459.8" width="2.2" height="6.6"/>
<rect class="o" x="289.39" y="459.8" width="2.2" height="6.6"/>
<rect class="o" x="336.72" y="459.8" width="2.4" height="6.6"/>
<rect class="b" x="424.41" y="459.8" width="2.4" height="6.6"/>
<rect class="l" x="423.8" y="459.8" width="2.2" height="6.6"/>
<rect class="l" x="449.09" y="459.8" width="2" height="6.6"/>
<rect class="r" x="467.91" y="459.8" width="2.4" height="6.6"/>
<rect class="b" x="472.18" y="459.8" width="4.13" height="6.6"/>
<rect class="r" x="497.56" y="459.8" width="2.4" height="6.6"/>
<rect class="r" x="504.95" y="459.8" width="2" height="6.6"/>
<rect class="r" x="523.22" y="459.8" width="2" height="6.6"/>
<rect class="r" x="469" y="459.8" width="2.2" height="6.6"/>
<rect class="r" x="159.77" y="468.2" width="2.2" height="6.6"/>
<rect class="r" x="176" y="468.2" width="2.2" height="6.6"/>
<rect class="o" x="193.41" y="468.2" width="2.4" height="6.6"/>
<rect class="r" x="205.88" y="468.2" width="4.6" height="6.6"/>
<rect class="r" x="213.26" y="468.2" width="3" height="6.6"/>
<rect class="l" x="191.2" y="468.2" width="2" height="6.6"/>
<rect class="o" x="212.6" y="468.2" width="2.2" height="6.6"/>
<rect class="l" x="383.25" y="468.2" width="2.6" height="6.6"/>
<rect class="l" x="405.67" y="468.2" width="2" height="6.6"/>
<rect class="r" x="409.8" y="468.2" width="2" height="6.6"/>
<rect class="o" x="453.38" y="468.2" width="2.4" height="6.6"/>
<rect class="o" x="460.49" y="468.2" width="2.6" height="6.6"/>
<rect class="l" x="505.57" y="468.2" width="2.4" height="6.6"/>
<rect class="r" x="469" y="468.2" width="2.2" height="6.6"/>
<rect class="l" x="527.94" y="468.2" width="2.4" height="6.6"/>
<rect class="o" x="533.5" y="468.2" width="2" height="6.6"/>
<rect class="r" x="542.02" y="468.2" width="4.6" height="6.6"/>
<rect class="r" x="176" y="476.6" width="2.2" height="6.6"/>
<rect class="r" x="184.76" y="476.6" width="2.6" height="6.6"/>
<rect class="b" x="198.6" y="476.6" width="2.6" height="6.6"/>
<rect class="b" x="212.3" y="476.6" width="2.4" height="6.6"/>
<rect class="l" x="191.2" y="476.6" width="2" height="6.6"/>
<rect class="o" x="212.6" y="476.6" width="2.2" height="6.6"/>
<rect class="o" x="251.49" y="476.6" width="2" height="6.6"/>
<rect class="r" x="292.81" y="476.6" width="2.4" height="6.6"/>
<rect class="r" x="299.83" y="476.6" width="2.4" height="6.6"/>
<rect class="r" x="336.39" y="476.6" width="2.4" height="6.6"/>
<rect class="r" x="403.98" y="476.6" width="2.6" height="6.6"/>
<rect class="l" x="423.8" y="476.6" width="2.2" height="6.6"/>
<rect class="r" x="409.8" y="476.6" width="2" height="6.6"/>
<rect class="b" x="448.05" y="476.6" width="2" height="6.6"/>
<rect class="o" x="451.44" y="476.6" width="3" height="6.6"/>
<rect class="l" x="459.53" y="476.6" width="2.6" height="6.6"/>
<rect class="o" x="468.32" y="476.6" width="2.2" height="6.6"/>
<rect class="r" x="478.41" y="476.6" width="2" height="6.6"/>
<rect class="b" x="497.19" y="476.6" width="2.4" height="6.6"/>
<rect class="o" x="502.65" y="476.6" width="4.6" height="6.6"/>
<rect class="r" x="469" y="476.6" width="2.2" height="6.6"/>
<rect class="r" x="515.4" y="476.6" width="2" height="6.6"/>
<rect class="l" x="534.08" y="476.6" width="2.4" height="6.6"/>
<rect class="b" x="542.3" y="476.6" width="2.4" height="6.6"/>
<rect class="r" x="524.6" y="476.6" width="2.2" height="6.6"/>
<rect class="l" x="629.54" y="476.6" width="4.6" height="6.6"/>
<rect class="r" x="166.58" y="485" width="2.2" height="6.6"/>
<rect class="l" x="170.91" y="485" width="2.4" height="6.6"/>
<rect class="b" x="177.3" y="485" width="2.6" height="6.6"/>
<rect class="r" x="176" y="485" width="2.2" height="6.6"/>
<rect class="r" x="197.43" y="485" width="2.4" height="6.6"/>
<rect class="o" x="212.59" y="485" width="2" height="6.6"/>
<rect class="o" x="218.35" y="485" width="4.6" height="6.6"/>
<rect class="l" x="191.2" y="485" width="2" height="6.6"/>
<rect class="o" x="212.6" y="485" width="2.2" height="6.6"/>
<rect class="r" x="255.86" y="485" width="2.4" height="6.6"/>
<rect class="l" x="282.42" y="485" width="3" height="6.6"/>
<rect class="o" x="295.36" y="485" width="2.2" height="6.6"/>
<rect class="b" x="308.47" y="485" width="2" height="6.6"/>
<rect class="b" x="319.62" y="485" width="2" height="6.6"/>
<rect class="r" x="381.85" y="485" width="2" height="6.6"/>
<rect class="b" x="387.32" y="485" width="3" height="6.6"/>
<rect class="r" x="409.8" y="485" width="2" height="6.6"/>
<rect class="r" x="441.29" y="485" width="2.2" height="6.6"/>
<rect class="l" x="452.21" y="485" width="4.38" height="6.6"/>
<rect class="b" x="465.34" y="485" width="2.4" height="6.6"/>
<rect class="o" x="472.72" y="485" width="3" height="6.6"/>
<rect class="r" x="481.2" y="485" width="3" height="6.6"/>
<rect class="b" x="493.88" y="485" width="2" height="6.6"/>
<rect class="r" x="498.84" y="485" width="4.6" height="6.6"/>
<rect class="o" x="542.27" y="485" width="2.2" height="6.6"/>
<rect class="o" x="177.55" y="493.4" width="2.4" height="6.6"/>
<rect class="r" x="176" y="493.4" width="2.2" height="6.6"/>
<rect class="b" x="192.01" y="493.4" width="4.6" height="6.6"/>
<rect class="b" x="218.26" y="493.4" width="4.6" height="6.6"/>
<rect class="l" x="191.2" y="493.4" width="2" height="6.6"/>
<rect class="o" x="212.6" y="493.4" width="2.2" height="6.6"/>
<rect class="b" x="299.03" y="493.4" width="2.4" height="6.6"/>
<rect class="b" x="406.09" y="493.4" width="2" height="6.6"/>
<rect class="r" x="409.8" y="493.4" width="2" height="6.6"/>
<rect class="r" x="440.57" y="493.4" width="3" height="6.6"/>
<rect class="o" x="454.75" y="493.4" width="2" height="6.6"/>
<rect class="r" x="460.34" y="493.4" width="2.6" height="6.6"/>
<rect class="r" x="473.96" y="493.4" width="3" height="6.6"/>
<rect class="o" x="485.3" y="493.4" width="4.6" height="6.6"/>
<rect class="r" x="492.22" y="493.4" width="2.6" height="6.6"/>
<rect class="r" x="469" y="493.4" width="2.2" height="6.6"/>
<rect class="b" x="512.92" y="493.4" width="2.2" height="6.6"/>
<rect class="r" x="524.55" y="493.4" width="2.4" height="6.6"/>
<rect class="b" x="542.54" y="493.4" width="4.6" height="6.6"/>
<rect class="r" x="172.9" y="501.8" width="2.4" height="6.6"/>
<rect class="r" x="176" y="501.8" width="2.2" height="6.6"/>
<rect class="r" x="185.69" y="501.8" width="2.4" height="6.6"/>
<rect class="l" x="191.2" y="501.8" width="2" height="6.6"/>
<rect class="o" x="212.6" y="501.8" width="2.2" height="6.6"/>
<rect class="o" x="293.48" y="501.8" width="4.6" height="6.6"/>
<rect class="r" x="300.87" y="501.8" width="2.4" height="6.6"/>
<rect class="o" x="309.61" y="501.8" width="2.2" height="6.6"/>
<rect class="r" x="378.01" y="501.8" width="2.4" height="6.6"/>
<rect class="o" x="421.84" y="501.8" width="4.6" height="6.6"/>
<rect class="l" x="423.8" y="501.8" width="2.2" height="6.6"/>
<rect class="r" x="409.8" y="501.8" width="2" height="6.6"/>
<rect class="b" x="441.92" y="501.8" width="3" height="6.6"/>
<rect class="b" x="461.54" y="501.8" width="2.6" height="6.6"/>
<rect class="o" x="477.4" y="501.8" width="2.6" height="6.6"/>
<rect class="l" x="504.9" y="501.8" width="2" height="6.6"/>
<rect class="r" x="469" y="501.8" width="2.2" height="6.6"/>
<rect class="o" x="525.69" y="501.8" width="2.4" height="6.6"/>
<rect class="b" x="533.63" y="501.8" width="2" height="6.6"/>
<rect class="l" x="537.41" y="501.8" width="2" height="6.6"/>
<rect class="r" x="171.01" y="510.2" width="3" height="6.6"/>
<rect class="o" x="177.28" y="510.2" width="2.6" height="6.6"/>
<rect class="r" x="176" y="510.2" width="2.2" height="6.6"/>
<rect class="b" x="194.69" y="510.2" width="3" height="6.6"/>
<rect class="b" x="205.79" y="510.2" width="2.4" height="6.6"/>
<rect class="b" x="212.38" y="510.2" width="4.6" height="6.6"/>
<rect class="l" x="191.2" y="510.2" width="2" height="6.6"/>
<rect class="o" x="212.6" y="510.2" width="2.2" height="6.6"/>
<rect class="b" x="252.4" y="510.2" width="2.4" height="6.6"/>
<rect class="l" x="281.29" y="510.2" width="2.2" height="6.6"/>
<rect class="b" x="294.44" y="510.2" width="2.4" height="6.6"/>
<rect class="b" x="319.26" y="510.2" width="2.94" height="6.6"/>
<rect class="l" x="376.54" y="510.2" width="2.2" height="6.6"/>
<rect class="r" x="418.84" y="510.2" width="2.2" height="6.6"/>
<rect class="l" x="423.8" y="510.2" width="2.2" height="6.6"/>
<rect class="r" x="409.8" y="510.2" width="2" height="6.6"/>
<rect class="l" x="441.69" y="510.2" width="2.2" height="6.6"/>
<rect class="b" x="461.24" y="510.2" width="2.2" height="6.6"/>
<rect class="b" x="490.88" y="510.2" width="2.4" height="6.6"/>
<rect class="r" x="469" y="510.2" width="2.2" height="6.6"/>
<rect class="r" x="518.25" y="510.2" width="2" height="6.6"/>
<rect class="r" x="530.72" y="510.2" width="2.4" height="6.6"/>
<rect class="r" x="543.5" y="510.2" width="4.09" height="6.6"/>
<rect class="r" x="167.01" y="518.6" width="2.2" height="6.6"/>
<rect class="b" x="176.14" y="518.6" width="2.4" height="6.6"/>
<rect class="r" x="176" y="518.6" width="2.2" height="6.6"/>
<rect class="l" x="207.62" y="518.6" width="2.4" height="6.6"/>
<rect class="r" x="219.06" y="518.6" width="2.6" height="6.6"/>
<rect class="b" x="250.67" y="518.6" width="3" height="6.6"/>
<rect class="r" x="260.36" y="518.6" width="2.4" height="6.6"/>
<rect class="b" x="281.84" y="518.6" width="2" height="6.6"/>
<rect class="r" x="300.97" y="518.6" width="2.2" height="6.6"/>
<rect class="r" x="308.26" y="518.6" width="4.41" height="6.6"/>
<rect class="o" x="341.8" y="518.6" width="2" height="6.6"/>
<rect class="r" x="426.34" y="518.6" width="2.4" height="6.6"/>
<rect class="l" x="423.8" y="518.6" width="2.2" height="6.6"/>
<rect class="r" x="441.73" y="518.6" width="2.6" height="6.6"/>
<rect class="o" x="467.55" y="518.6" width="2" height="6.6"/>
<rect class="b" x="473.3" y="518.6" width="3" height="6.6"/>
<rect class="o" x="479.61" y="518.6" width="2.4" height="6.6"/>
<rect class="l" x="485.72" y="518.6" width="2" height="6.6"/>
<rect class="r" x="469" y="518.6" width="2.2" height="6.6"/>
<rect class="b" x="524.35" y="518.6" width="4.16" height="6.6"/>
<rect class="r" x="544.42" y="518.6" width="2.6" height="6.6"/>
<rect class="r" x="524.6" y="518.6" width="2.2" height="6.6"/>
<rect class="r" x="154.38" y="527" width="2.6" height="6.6"/>
<rect class="b" x="173.51" y="527" width="2.4" height="6.6"/>
<rect class="r" x="176" y="527" width="2.2" height="6.6"/>
<rect class="r" x="199.41" y="527" width="2.4" height="6.6"/>
<rect class="l" x="191.2" y="527" width="2" height="6.6"/>
<rect class="l" x="287.92" y="527" width="3" height="6.6"/>
<rect class="b" x="310.05" y="527" width="2.2" height="6.6"/>
<rect class="o" x="314.83" y="527" width="4.6" height="6.6"/>
<rect class="r" x="342.46" y="527" width="2.4" height="6.6"/>
<rect class="r" x="409.8" y="527" width="2" height="6.6"/>
<rect class="b" x="447.99" y="527" width="4.6" height="6.6"/>
<rect class="o" x="454.57" y="527" width="3" height="6.6"/>
<rect class="o" x="462.18" y="527" width="2.6" height="6.6"/>
<rect class="r" x="469.24" y="527" width="2.6" height="6.6"/>
<rect class="l" x="483.01" y="527" width="4.6" height="6.6"/>
<rect class="r" x="469" y="527" width="2.2" height="6.6"/>
<rect class="b" x="494.27" y="527" width="2.2" height="6.6"/>
<rect class="l" x="500" y="527" width="3" height="6.6"/>
<rect class="r" x="505.42" y="527" width="2.4" height="6.6"/>
<rect class="r" x="512.51" y="527" width="2.4" height="6.6"/>
<rect class="l" x="518.73" y="527" width="2" height="6.6"/>
<rect class="r" x="153.3" y="535.4" width="3" height="6.6"/>
<rect class="r" x="176" y="535.4" width="2.2" height="6.6"/>
<rect class="l" x="185.95" y="535.4" width="3" height="6.6"/>
<rect class="b" x="192.06" y="535.4" width="4.6" height="6.6"/>
<rect class="l" x="191.2" y="535.4" width="2" height="6.6"/>
<rect class="o" x="212.6" y="535.4" width="2.2" height="6.6"/>
<rect class="r" x="250.77" y="535.4" width="2.4" height="6.6"/>
<rect class="b" x="257.91" y="535.4" width="3" height="6.6"/>
<rect class="b" x="281.47" y="535.4" width="3" height="6.6"/>
<rect class="b" x="319.05" y="535.4" width="3" height="6.6"/>
<rect class="b" x="375.69" y="535.4" width="2" height="6.6"/>
<rect class="b" x="411.65" y="535.4" width="2.6" height="6.6"/>
<rect class="l" x="423.8" y="535.4" width="2.2" height="6.6"/>
<rect class="o" x="454.34" y="535.4" width="2.4" height="6.6"/>
<rect class="r" x="458.73" y="535.4" width="4.32" height="6.6"/>
<rect class="b" x="471.44" y="535.4" width="2.4" height="6.6"/>
<rect class="b" x="490.87" y="535.4" width="2.6" height="6.6"/>
<rect class="o" x="503.4" y="535.4" width="4.6" height="6.6"/>
<rect class="r" x="469" y="535.4" width="2.2" height="6.6"/>
<rect class="r" x="524.6" y="535.4" width="2.2" height="6.6"/>
</svg></body></html>
